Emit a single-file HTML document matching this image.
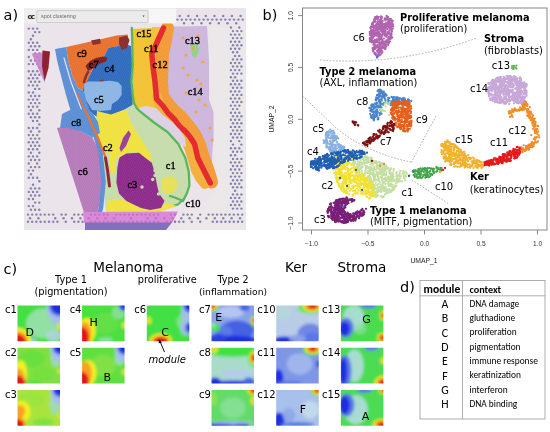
<!DOCTYPE html>
<html><head><meta charset="utf-8"><title>Spatial clustering figure</title>
<style>html,body{margin:0;padding:0;background:#fff;}body{width:550px;height:432px;overflow:hidden;}svg{display:block;}</style>
</head><body>
<svg width="550" height="432" viewBox="0 0 550 432"><rect x="24" y="8" width="222" height="222" fill="#ece4eb"/><polygon points="209.0,25.0 246.0,25.0 246.0,230.0 176.0,230.0 182.0,214.0 200.0,206.0 214.0,196.0 218.0,186.0 216.0,150.0 212.0,120.0 209.0,60.0" fill="#ece8e9" /><g fill="#8482ae"><circle cx="28.8" cy="28.6" r="1.2"/><circle cx="33.0" cy="28.6" r="1.2"/><circle cx="37.2" cy="28.6" r="1.2"/><circle cx="35.1" cy="32.1" r="1.2"/><circle cx="39.3" cy="32.1" r="1.2"/><circle cx="33.0" cy="35.7" r="1.2"/><circle cx="30.9" cy="39.2" r="1.2"/><circle cx="28.8" cy="42.8" r="1.2"/><circle cx="33.0" cy="42.8" r="1.2"/><circle cx="37.2" cy="42.8" r="1.2"/><circle cx="30.9" cy="46.3" r="1.2"/><circle cx="35.1" cy="46.3" r="1.2"/><circle cx="39.3" cy="46.3" r="1.2"/><circle cx="28.8" cy="49.9" r="1.2"/><circle cx="33.0" cy="49.9" r="1.2"/><circle cx="37.2" cy="49.9" r="1.2"/><circle cx="35.1" cy="53.4" r="1.2"/><circle cx="39.3" cy="53.4" r="1.2"/><circle cx="28.8" cy="57.0" r="1.2"/><circle cx="37.2" cy="57.0" r="1.2"/><circle cx="30.9" cy="60.5" r="1.2"/><circle cx="35.1" cy="60.5" r="1.2"/><circle cx="39.3" cy="60.5" r="1.2"/><circle cx="28.8" cy="64.1" r="1.2"/><circle cx="33.0" cy="64.1" r="1.2"/><circle cx="37.2" cy="64.1" r="1.2"/><circle cx="39.3" cy="67.6" r="1.2"/><circle cx="28.8" cy="71.2" r="1.2"/><circle cx="33.0" cy="71.2" r="1.2"/><circle cx="37.2" cy="71.2" r="1.2"/><circle cx="30.9" cy="74.7" r="1.2"/><circle cx="35.1" cy="74.7" r="1.2"/><circle cx="39.3" cy="74.7" r="1.2"/><circle cx="28.8" cy="78.3" r="1.2"/><circle cx="33.0" cy="78.3" r="1.2"/><circle cx="37.2" cy="78.3" r="1.2"/><circle cx="30.9" cy="81.8" r="1.2"/><circle cx="35.1" cy="81.8" r="1.2"/><circle cx="39.3" cy="81.8" r="1.2"/><circle cx="28.8" cy="85.4" r="1.2"/><circle cx="33.0" cy="85.4" r="1.2"/><circle cx="37.2" cy="85.4" r="1.2"/><circle cx="35.1" cy="88.9" r="1.2"/><circle cx="39.3" cy="88.9" r="1.2"/><circle cx="28.8" cy="92.5" r="1.2"/><circle cx="33.0" cy="92.5" r="1.2"/><circle cx="30.9" cy="96.0" r="1.2"/><circle cx="35.1" cy="96.0" r="1.2"/><circle cx="39.3" cy="96.0" r="1.2"/><circle cx="28.8" cy="99.6" r="1.2"/><circle cx="33.0" cy="99.6" r="1.2"/><circle cx="37.2" cy="99.6" r="1.2"/><circle cx="30.9" cy="103.1" r="1.2"/><circle cx="35.1" cy="103.1" r="1.2"/><circle cx="39.3" cy="103.1" r="1.2"/><circle cx="28.8" cy="106.7" r="1.2"/><circle cx="33.0" cy="106.7" r="1.2"/><circle cx="37.2" cy="106.7" r="1.2"/><circle cx="30.9" cy="110.2" r="1.2"/><circle cx="39.3" cy="110.2" r="1.2"/><circle cx="28.8" cy="113.8" r="1.2"/><circle cx="33.0" cy="113.8" r="1.2"/><circle cx="37.2" cy="113.8" r="1.2"/><circle cx="30.9" cy="117.3" r="1.2"/><circle cx="35.1" cy="117.3" r="1.2"/><circle cx="39.3" cy="117.3" r="1.2"/><circle cx="33.0" cy="120.9" r="1.2"/><circle cx="37.2" cy="120.9" r="1.2"/><circle cx="39.3" cy="124.4" r="1.2"/><circle cx="28.8" cy="128.0" r="1.2"/><circle cx="33.0" cy="128.0" r="1.2"/><circle cx="37.2" cy="128.0" r="1.2"/><circle cx="30.9" cy="131.5" r="1.2"/><circle cx="39.3" cy="131.5" r="1.2"/><circle cx="28.8" cy="135.1" r="1.2"/><circle cx="33.0" cy="135.1" r="1.2"/><circle cx="37.2" cy="135.1" r="1.2"/><circle cx="30.9" cy="138.6" r="1.2"/><circle cx="35.1" cy="138.6" r="1.2"/><circle cx="39.3" cy="138.6" r="1.2"/><circle cx="28.8" cy="142.2" r="1.2"/><circle cx="33.0" cy="142.2" r="1.2"/><circle cx="37.2" cy="142.2" r="1.2"/><circle cx="30.9" cy="145.7" r="1.2"/><circle cx="35.1" cy="145.7" r="1.2"/><circle cx="39.3" cy="145.7" r="1.2"/><circle cx="28.8" cy="149.3" r="1.2"/><circle cx="33.0" cy="149.3" r="1.2"/><circle cx="37.2" cy="149.3" r="1.2"/><circle cx="30.9" cy="152.8" r="1.2"/><circle cx="39.3" cy="152.8" r="1.2"/><circle cx="28.8" cy="156.4" r="1.2"/><circle cx="33.0" cy="156.4" r="1.2"/><circle cx="37.2" cy="156.4" r="1.2"/><circle cx="30.9" cy="160.0" r="1.2"/><circle cx="35.1" cy="160.0" r="1.2"/><circle cx="39.3" cy="160.0" r="1.2"/><circle cx="28.8" cy="163.5" r="1.2"/><circle cx="37.2" cy="163.5" r="1.2"/><circle cx="30.9" cy="167.1" r="1.2"/><circle cx="35.1" cy="167.1" r="1.2"/><circle cx="39.3" cy="167.1" r="1.2"/><circle cx="28.8" cy="170.6" r="1.2"/><circle cx="33.0" cy="170.6" r="1.2"/><circle cx="30.9" cy="174.2" r="1.2"/><circle cx="28.8" cy="177.7" r="1.2"/><circle cx="33.0" cy="177.7" r="1.2"/><circle cx="37.2" cy="177.7" r="1.2"/><circle cx="39.3" cy="181.3" r="1.2"/><circle cx="33.0" cy="184.8" r="1.2"/><circle cx="30.9" cy="188.4" r="1.2"/><circle cx="35.1" cy="188.4" r="1.2"/><circle cx="39.3" cy="188.4" r="1.2"/><circle cx="28.8" cy="191.9" r="1.2"/><circle cx="33.0" cy="191.9" r="1.2"/><circle cx="37.2" cy="191.9" r="1.2"/><circle cx="30.9" cy="195.5" r="1.2"/><circle cx="35.1" cy="195.5" r="1.2"/><circle cx="39.3" cy="195.5" r="1.2"/><circle cx="28.8" cy="199.0" r="1.2"/><circle cx="33.0" cy="199.0" r="1.2"/><circle cx="35.1" cy="202.6" r="1.2"/><circle cx="39.3" cy="202.6" r="1.2"/><circle cx="28.8" cy="206.1" r="1.2"/><circle cx="33.0" cy="206.1" r="1.2"/><circle cx="30.9" cy="209.7" r="1.2"/><circle cx="35.1" cy="209.7" r="1.2"/><circle cx="39.3" cy="209.7" r="1.2"/><circle cx="230.9" cy="27.5" r="1.2"/><circle cx="239.3" cy="27.5" r="1.2"/><circle cx="233.0" cy="31.1" r="1.2"/><circle cx="237.2" cy="31.1" r="1.2"/><circle cx="241.4" cy="31.1" r="1.2"/><circle cx="230.9" cy="34.6" r="1.2"/><circle cx="235.1" cy="34.6" r="1.2"/><circle cx="239.3" cy="34.6" r="1.2"/><circle cx="233.0" cy="38.1" r="1.2"/><circle cx="237.2" cy="38.1" r="1.2"/><circle cx="241.4" cy="38.1" r="1.2"/><circle cx="230.9" cy="41.7" r="1.2"/><circle cx="235.1" cy="41.7" r="1.2"/><circle cx="239.3" cy="41.7" r="1.2"/><circle cx="233.0" cy="45.2" r="1.2"/><circle cx="237.2" cy="45.2" r="1.2"/><circle cx="241.4" cy="45.2" r="1.2"/><circle cx="230.9" cy="48.8" r="1.2"/><circle cx="235.1" cy="48.8" r="1.2"/><circle cx="239.3" cy="48.8" r="1.2"/><circle cx="233.0" cy="52.3" r="1.2"/><circle cx="237.2" cy="52.3" r="1.2"/><circle cx="235.1" cy="55.9" r="1.2"/><circle cx="239.3" cy="55.9" r="1.2"/><circle cx="233.0" cy="59.4" r="1.2"/><circle cx="237.2" cy="59.4" r="1.2"/><circle cx="241.4" cy="59.4" r="1.2"/><circle cx="230.9" cy="63.0" r="1.2"/><circle cx="235.1" cy="63.0" r="1.2"/><circle cx="239.3" cy="63.0" r="1.2"/><circle cx="233.0" cy="66.5" r="1.2"/><circle cx="237.2" cy="66.5" r="1.2"/><circle cx="241.4" cy="66.5" r="1.2"/><circle cx="230.9" cy="70.1" r="1.2"/><circle cx="235.1" cy="70.1" r="1.2"/><circle cx="239.3" cy="70.1" r="1.2"/><circle cx="233.0" cy="73.6" r="1.2"/><circle cx="237.2" cy="73.6" r="1.2"/><circle cx="241.4" cy="73.6" r="1.2"/><circle cx="230.9" cy="77.2" r="1.2"/><circle cx="235.1" cy="77.2" r="1.2"/><circle cx="233.0" cy="80.7" r="1.2"/><circle cx="237.2" cy="80.7" r="1.2"/><circle cx="241.4" cy="80.7" r="1.2"/><circle cx="230.9" cy="84.3" r="1.2"/><circle cx="235.1" cy="84.3" r="1.2"/><circle cx="239.3" cy="84.3" r="1.2"/><circle cx="233.0" cy="87.8" r="1.2"/><circle cx="237.2" cy="87.8" r="1.2"/><circle cx="241.4" cy="87.8" r="1.2"/><circle cx="230.9" cy="91.4" r="1.2"/><circle cx="235.1" cy="91.4" r="1.2"/><circle cx="239.3" cy="91.4" r="1.2"/><circle cx="233.0" cy="94.9" r="1.2"/><circle cx="237.2" cy="94.9" r="1.2"/><circle cx="241.4" cy="94.9" r="1.2"/><circle cx="230.9" cy="98.5" r="1.2"/><circle cx="235.1" cy="98.5" r="1.2"/><circle cx="239.3" cy="98.5" r="1.2"/><circle cx="233.0" cy="102.0" r="1.2"/><circle cx="237.2" cy="102.0" r="1.2"/><circle cx="241.4" cy="102.0" r="1.2"/><circle cx="230.9" cy="105.6" r="1.2"/><circle cx="235.1" cy="105.6" r="1.2"/><circle cx="239.3" cy="105.6" r="1.2"/><circle cx="233.0" cy="109.1" r="1.2"/><circle cx="237.2" cy="109.1" r="1.2"/><circle cx="230.9" cy="112.7" r="1.2"/><circle cx="235.1" cy="112.7" r="1.2"/><circle cx="239.3" cy="112.7" r="1.2"/><circle cx="233.0" cy="116.2" r="1.2"/><circle cx="237.2" cy="116.2" r="1.2"/><circle cx="241.4" cy="116.2" r="1.2"/><circle cx="230.9" cy="119.8" r="1.2"/><circle cx="235.1" cy="119.8" r="1.2"/><circle cx="239.3" cy="119.8" r="1.2"/><circle cx="233.0" cy="123.3" r="1.2"/><circle cx="237.2" cy="123.3" r="1.2"/><circle cx="241.4" cy="123.3" r="1.2"/><circle cx="230.9" cy="126.9" r="1.2"/><circle cx="235.1" cy="126.9" r="1.2"/><circle cx="239.3" cy="126.9" r="1.2"/><circle cx="233.0" cy="130.4" r="1.2"/><circle cx="237.2" cy="130.4" r="1.2"/><circle cx="241.4" cy="130.4" r="1.2"/><circle cx="230.9" cy="134.0" r="1.2"/><circle cx="235.1" cy="134.0" r="1.2"/><circle cx="239.3" cy="134.0" r="1.2"/><circle cx="233.0" cy="137.5" r="1.2"/><circle cx="237.2" cy="137.5" r="1.2"/><circle cx="241.4" cy="137.5" r="1.2"/><circle cx="230.9" cy="141.1" r="1.2"/><circle cx="239.3" cy="141.1" r="1.2"/><circle cx="233.0" cy="144.6" r="1.2"/><circle cx="241.4" cy="144.6" r="1.2"/><circle cx="230.9" cy="148.2" r="1.2"/><circle cx="235.1" cy="148.2" r="1.2"/><circle cx="239.3" cy="148.2" r="1.2"/><circle cx="233.0" cy="151.8" r="1.2"/><circle cx="237.2" cy="151.8" r="1.2"/><circle cx="241.4" cy="151.8" r="1.2"/><circle cx="230.9" cy="155.3" r="1.2"/><circle cx="235.1" cy="155.3" r="1.2"/><circle cx="233.0" cy="158.9" r="1.2"/><circle cx="237.2" cy="158.9" r="1.2"/><circle cx="241.4" cy="158.9" r="1.2"/><circle cx="230.9" cy="162.4" r="1.2"/><circle cx="235.1" cy="162.4" r="1.2"/><circle cx="239.3" cy="162.4" r="1.2"/><circle cx="233.0" cy="166.0" r="1.2"/><circle cx="237.2" cy="166.0" r="1.2"/><circle cx="241.4" cy="166.0" r="1.2"/><circle cx="230.9" cy="169.5" r="1.2"/><circle cx="235.1" cy="169.5" r="1.2"/><circle cx="239.3" cy="169.5" r="1.2"/><circle cx="233.0" cy="173.1" r="1.2"/><circle cx="237.2" cy="173.1" r="1.2"/><circle cx="241.4" cy="173.1" r="1.2"/><circle cx="230.9" cy="176.6" r="1.2"/><circle cx="235.1" cy="176.6" r="1.2"/><circle cx="239.3" cy="176.6" r="1.2"/><circle cx="233.0" cy="180.2" r="1.2"/><circle cx="237.2" cy="180.2" r="1.2"/><circle cx="241.4" cy="180.2" r="1.2"/><circle cx="230.9" cy="183.7" r="1.2"/><circle cx="235.1" cy="183.7" r="1.2"/><circle cx="239.3" cy="183.7" r="1.2"/><circle cx="233.0" cy="187.3" r="1.2"/><circle cx="237.2" cy="187.3" r="1.2"/><circle cx="241.4" cy="187.3" r="1.2"/><circle cx="235.1" cy="190.8" r="1.2"/><circle cx="233.0" cy="194.4" r="1.2"/><circle cx="237.2" cy="194.4" r="1.2"/><circle cx="241.4" cy="194.4" r="1.2"/><circle cx="230.9" cy="197.9" r="1.2"/><circle cx="235.1" cy="197.9" r="1.2"/><circle cx="239.3" cy="197.9" r="1.2"/><circle cx="233.0" cy="201.5" r="1.2"/><circle cx="237.2" cy="201.5" r="1.2"/><circle cx="241.4" cy="201.5" r="1.2"/><circle cx="230.9" cy="205.0" r="1.2"/><circle cx="235.1" cy="205.0" r="1.2"/><circle cx="239.3" cy="205.0" r="1.2"/><circle cx="233.0" cy="208.6" r="1.2"/><circle cx="237.2" cy="208.6" r="1.2"/><circle cx="241.4" cy="208.6" r="1.2"/><circle cx="177.5" cy="19.6" r="1.2"/><circle cx="181.8" cy="19.6" r="1.2"/><circle cx="186.2" cy="19.6" r="1.2"/><circle cx="190.5" cy="19.6" r="1.2"/><circle cx="194.9" cy="19.6" r="1.2"/><circle cx="199.2" cy="19.6" r="1.2"/><circle cx="203.6" cy="19.6" r="1.2"/><circle cx="207.9" cy="19.6" r="1.2"/><circle cx="212.3" cy="19.6" r="1.2"/><circle cx="216.6" cy="19.6" r="1.2"/><circle cx="221.0" cy="19.6" r="1.2"/><circle cx="225.3" cy="19.6" r="1.2"/><circle cx="229.7" cy="19.6" r="1.2"/><circle cx="234.0" cy="19.6" r="1.2"/><circle cx="238.4" cy="19.6" r="1.2"/><circle cx="242.7" cy="19.6" r="1.2"/><circle cx="179.7" cy="16.0" r="1.2"/><circle cx="188.4" cy="16.0" r="1.2"/><circle cx="197.1" cy="16.0" r="1.2"/><circle cx="205.8" cy="16.0" r="1.2"/><circle cx="214.5" cy="16.0" r="1.2"/><circle cx="223.2" cy="16.0" r="1.2"/><circle cx="231.9" cy="16.0" r="1.2"/><circle cx="240.6" cy="16.0" r="1.2"/><circle cx="184.0" cy="23.3" r="1.2"/><circle cx="192.7" cy="23.3" r="1.2"/><circle cx="201.4" cy="23.3" r="1.2"/><circle cx="210.1" cy="23.3" r="1.2"/><circle cx="218.8" cy="23.3" r="1.2"/><circle cx="227.5" cy="23.3" r="1.2"/><circle cx="236.2" cy="23.3" r="1.2"/><circle cx="28.0" cy="214.6" r="1.2"/><circle cx="32.2" cy="214.6" r="1.2"/><circle cx="36.4" cy="214.6" r="1.2"/><circle cx="40.6" cy="214.6" r="1.2"/><circle cx="44.8" cy="214.6" r="1.2"/><circle cx="49.0" cy="214.6" r="1.2"/><circle cx="53.2" cy="214.6" r="1.2"/><circle cx="61.6" cy="214.6" r="1.2"/><circle cx="65.8" cy="214.6" r="1.2"/><circle cx="74.2" cy="214.6" r="1.2"/><circle cx="78.4" cy="214.6" r="1.2"/><circle cx="82.6" cy="214.6" r="1.2"/><circle cx="91.0" cy="214.6" r="1.2"/><circle cx="95.2" cy="214.6" r="1.2"/><circle cx="99.4" cy="214.6" r="1.2"/><circle cx="103.6" cy="214.6" r="1.2"/><circle cx="107.8" cy="214.6" r="1.2"/><circle cx="116.2" cy="214.6" r="1.2"/><circle cx="120.4" cy="214.6" r="1.2"/><circle cx="124.6" cy="214.6" r="1.2"/><circle cx="128.8" cy="214.6" r="1.2"/><circle cx="133.0" cy="214.6" r="1.2"/><circle cx="137.2" cy="214.6" r="1.2"/><circle cx="141.4" cy="214.6" r="1.2"/><circle cx="145.6" cy="214.6" r="1.2"/><circle cx="149.8" cy="214.6" r="1.2"/><circle cx="154.0" cy="214.6" r="1.2"/><circle cx="158.2" cy="214.6" r="1.2"/><circle cx="170.8" cy="214.6" r="1.2"/><circle cx="175.0" cy="214.6" r="1.2"/><circle cx="183.4" cy="214.6" r="1.2"/><circle cx="187.6" cy="214.6" r="1.2"/><circle cx="191.8" cy="214.6" r="1.2"/><circle cx="200.2" cy="214.6" r="1.2"/><circle cx="208.6" cy="214.6" r="1.2"/><circle cx="212.8" cy="214.6" r="1.2"/><circle cx="217.0" cy="214.6" r="1.2"/><circle cx="221.2" cy="214.6" r="1.2"/><circle cx="225.4" cy="214.6" r="1.2"/><circle cx="229.6" cy="214.6" r="1.2"/><circle cx="233.8" cy="214.6" r="1.2"/><circle cx="238.0" cy="214.6" r="1.2"/><circle cx="242.2" cy="214.6" r="1.2"/><circle cx="30.0" cy="218.2" r="1.2"/><circle cx="38.4" cy="218.2" r="1.2"/><circle cx="55.2" cy="218.2" r="1.2"/><circle cx="63.6" cy="218.2" r="1.2"/><circle cx="72.0" cy="218.2" r="1.2"/><circle cx="80.4" cy="218.2" r="1.2"/><circle cx="88.8" cy="218.2" r="1.2"/><circle cx="97.2" cy="218.2" r="1.2"/><circle cx="105.6" cy="218.2" r="1.2"/><circle cx="114.0" cy="218.2" r="1.2"/><circle cx="130.8" cy="218.2" r="1.2"/><circle cx="147.6" cy="218.2" r="1.2"/><circle cx="156.0" cy="218.2" r="1.2"/><circle cx="164.4" cy="218.2" r="1.2"/><circle cx="172.8" cy="218.2" r="1.2"/><circle cx="181.2" cy="218.2" r="1.2"/><circle cx="189.6" cy="218.2" r="1.2"/><circle cx="198.0" cy="218.2" r="1.2"/><circle cx="206.4" cy="218.2" r="1.2"/><circle cx="214.8" cy="218.2" r="1.2"/><circle cx="223.2" cy="218.2" r="1.2"/><circle cx="231.6" cy="218.2" r="1.2"/><circle cx="240.0" cy="218.2" r="1.2"/><circle cx="28.0" cy="221.7" r="1.2"/><circle cx="32.2" cy="221.7" r="1.2"/><circle cx="36.4" cy="221.7" r="1.2"/><circle cx="40.6" cy="221.7" r="1.2"/><circle cx="44.8" cy="221.7" r="1.2"/><circle cx="49.0" cy="221.7" r="1.2"/><circle cx="53.2" cy="221.7" r="1.2"/><circle cx="57.4" cy="221.7" r="1.2"/><circle cx="65.8" cy="221.7" r="1.2"/><circle cx="74.2" cy="221.7" r="1.2"/><circle cx="78.4" cy="221.7" r="1.2"/><circle cx="82.6" cy="221.7" r="1.2"/><circle cx="91.0" cy="221.7" r="1.2"/><circle cx="95.2" cy="221.7" r="1.2"/><circle cx="99.4" cy="221.7" r="1.2"/><circle cx="103.6" cy="221.7" r="1.2"/><circle cx="107.8" cy="221.7" r="1.2"/><circle cx="112.0" cy="221.7" r="1.2"/><circle cx="116.2" cy="221.7" r="1.2"/><circle cx="120.4" cy="221.7" r="1.2"/><circle cx="124.6" cy="221.7" r="1.2"/><circle cx="128.8" cy="221.7" r="1.2"/><circle cx="133.0" cy="221.7" r="1.2"/><circle cx="137.2" cy="221.7" r="1.2"/><circle cx="141.4" cy="221.7" r="1.2"/><circle cx="145.6" cy="221.7" r="1.2"/><circle cx="149.8" cy="221.7" r="1.2"/><circle cx="154.0" cy="221.7" r="1.2"/><circle cx="158.2" cy="221.7" r="1.2"/><circle cx="166.6" cy="221.7" r="1.2"/><circle cx="170.8" cy="221.7" r="1.2"/><circle cx="175.0" cy="221.7" r="1.2"/><circle cx="179.2" cy="221.7" r="1.2"/><circle cx="183.4" cy="221.7" r="1.2"/><circle cx="191.8" cy="221.7" r="1.2"/><circle cx="200.2" cy="221.7" r="1.2"/><circle cx="212.8" cy="221.7" r="1.2"/><circle cx="217.0" cy="221.7" r="1.2"/><circle cx="221.2" cy="221.7" r="1.2"/><circle cx="225.4" cy="221.7" r="1.2"/><circle cx="229.6" cy="221.7" r="1.2"/><circle cx="233.8" cy="221.7" r="1.2"/><circle cx="238.0" cy="221.7" r="1.2"/><circle cx="242.2" cy="221.7" r="1.2"/></g><polygon points="31.7,53.7 49.7,51.7 44.6,82.5" fill="#c97fcb" fill-opacity="0.9"/><polygon points="42.5,50.5 50.0,51.5 48.5,68.0 44.6,81.0 42.0,66.0" fill="#8e2230" /><polygon points="66.3,46.9 92.2,41.2 116.5,35.5 128.0,34.5 127.0,44.4 108.4,47.7 103.6,57.4 93.9,67.1 87.4,80.0 82.5,89.8 78.0,88.0 72.0,75.0 68.0,60.0" fill="#e8702c" /><polygon points="55.0,49.0 66.3,46.9 68.0,60.0 72.0,75.0 78.0,88.0 82.5,90.0 88.0,105.0 92.0,119.0 73.0,119.0 66.0,95.0 57.4,62.0" fill="#5b8ed4" /><polyline points="64.0,58.0 71.0,82.0 79.0,103.0 84.0,116.0" fill="none" stroke="#f0e4ef" stroke-width="1.1" stroke-linejoin="round" stroke-linecap="round" /><polyline points="77.0,93.0 83.0,106.0 89.5,119.0" fill="none" stroke="#e8702c" stroke-width="1.4" stroke-linejoin="round" stroke-linecap="round" /><polygon points="82.5,89.8 87.4,80.0 93.9,67.1 103.6,57.4 108.4,47.7 127.0,44.4 131.0,46.0 132.7,65.5 131.5,81.7 132.7,95.0 132.7,119.0 100.0,119.0 90.0,112.0" fill="#2f6bbd" /><polygon points="85.5,66.0 90.0,61.0 96.0,58.0 103.0,56.5 107.5,57.5 106.0,61.5 99.0,64.0 93.0,68.5 88.0,71.0" fill="#7c1f1f" /><polyline points="84.0,82.0 86.0,76.0 88.0,72.0" fill="none" stroke="#8a2a2a" stroke-width="2.5" stroke-linejoin="round" stroke-linecap="round" /><polygon points="91.0,40.5 100.0,38.8 101.0,43.5 93.0,45.0" fill="#8a2a2a" /><polygon points="119.0,37.5 127.0,35.5 129.5,40.0 127.0,48.0 122.0,50.0 119.0,44.0" fill="#8a2a2a" /><polygon points="99.0,81.0 103.0,79.5 105.0,83.0 101.0,85.0" fill="#8a2a2a" /><polygon points="84.3,84.0 88.0,81.5 100.0,81.5 110.0,80.8 118.0,82.0 121.6,86.0 121.6,95.0 118.0,100.0 112.0,104.0 111.0,110.0 100.0,111.0 92.0,110.0 86.0,100.0 84.0,92.0" fill="#8cb5e4" /><polygon points="152.0,27.0 207.0,26.0 209.0,60.0 209.0,100.0 213.5,112.0 213.5,139.0 212.5,149.0 211.5,175.0 210.0,186.0 205.0,175.0 195.0,160.0 180.0,135.0 168.0,115.0 160.0,95.0 156.0,75.0 158.0,55.0" fill="#ccb6dd" /><polygon points="131.5,29.0 170.0,27.0 163.0,40.0 157.0,55.0 157.0,72.0 160.0,88.0 166.0,102.0 173.0,113.0 178.0,122.0 165.0,127.0 150.0,121.0 140.0,118.0 133.0,110.0 132.5,60.0" fill="#f1c232" /><polyline points="167.5,28.0 165.5,40.0 162.5,54.0 162.0,68.0 161.5,82.0 162.5,96.0 168.0,104.0 174.0,111.0 182.0,118.0 188.5,126.0 195.0,135.0 200.0,146.0 203.5,158.0 208.0,170.0 211.5,182.0" fill="none" stroke="#f29a36" stroke-width="13" stroke-linejoin="round" stroke-linecap="round" /><polyline points="157.0,96.0 160.0,107.0 166.0,116.0 173.0,123.0 180.0,132.0 186.0,141.0 190.0,150.0 193.0,160.0 196.0,170.0 200.0,178.0 205.0,184.0" fill="none" stroke="#f3ae3c" stroke-width="10" stroke-linejoin="round" stroke-linecap="round" /><polyline points="163.5,28.0 158.0,40.0 151.8,54.0 153.2,68.0 155.0,82.0 156.6,99.0 163.0,106.0 168.0,113.0 175.0,120.0 180.0,127.0 185.0,131.0 190.0,137.0 194.6,144.0 197.8,158.0 204.7,172.0 210.3,183.0" fill="none" stroke="#e3252a" stroke-width="5.5" stroke-linejoin="round" stroke-linecap="round" /><polygon points="190.0,44.0 197.0,42.0 199.0,50.0 196.0,58.0 192.0,56.0" fill="#95cf88" /><circle cx="183" cy="38" r="1.6" fill="#f2a23a"/><circle cx="198" cy="36" r="1.6" fill="#f2a23a"/><circle cx="186" cy="55" r="1.6" fill="#f2a23a"/><circle cx="203" cy="62" r="1.6" fill="#f2a23a"/><circle cx="188" cy="75" r="1.6" fill="#f2a23a"/><circle cx="197" cy="80" r="1.6" fill="#f2a23a"/><circle cx="201" cy="84" r="1.6" fill="#f2a23a"/><circle cx="186" cy="93" r="1.6" fill="#f2a23a"/><circle cx="199" cy="100" r="1.6" fill="#f2a23a"/><circle cx="205" cy="105" r="1.6" fill="#f2a23a"/><circle cx="196" cy="112" r="1.6" fill="#f2a23a"/><circle cx="193" cy="48" r="1.6" fill="#f2a23a"/><circle cx="183" cy="68" r="1.6" fill="#f2a23a"/><circle cx="210" cy="128" r="1.6" fill="#f2a23a"/><circle cx="212" cy="140" r="1.6" fill="#f2a23a"/><polygon points="104.0,150.0 112.0,115.0 120.0,112.0 134.0,104.0 140.0,111.4 154.0,122.5 167.8,132.2 178.3,144.0 185.3,157.8 188.8,171.7 189.4,185.6 187.0,193.0 183.8,198.7 175.0,206.0 150.0,212.0 106.0,212.0 104.0,195.0" fill="#c6dcaa" /><polygon points="138.0,108.0 146.0,106.0 156.0,108.0 163.0,115.0 172.0,122.0 180.0,130.0 185.0,138.0 186.0,147.0 178.3,144.0 167.8,132.2 154.0,122.5 140.0,111.4" fill="#ddd0e4" /><polyline points="131.8,28.0 132.3,46.0 132.7,65.5 131.5,81.7 132.7,95.0 134.0,103.0 137.0,108.5 140.0,111.4 154.0,122.5 167.8,132.2 178.3,144.0 185.3,157.8 188.8,171.7 189.4,185.6 187.0,193.0 183.0,201.0 176.0,198.0 170.0,196.0" fill="none" stroke="#55b457" stroke-width="2.3" stroke-linejoin="round" stroke-linecap="round" /><polyline points="183.8,199.0 178.0,204.5 170.0,206.5" fill="none" stroke="#55b457" stroke-width="2" stroke-linejoin="round" stroke-linecap="round" /><polygon points="97.0,111.0 111.0,114.6 124.0,109.7 127.4,111.3 129.8,121.0 137.0,132.4 142.0,140.5 150.0,153.4 153.3,161.5 145.0,158.0 135.0,152.0 125.0,153.0 119.0,158.0 112.0,156.0 104.0,150.0 99.0,140.0 96.0,125.0" fill="#efe23e" /><polygon points="108.0,201.0 115.0,199.0 126.4,201.0 133.6,204.5 141.0,208.0 150.0,210.0 161.0,208.0 166.0,203.0 172.0,204.0 176.0,206.0 160.0,212.0 106.0,212.0" fill="#efe23e" /><polygon points="161.0,180.0 168.0,176.0 176.0,178.0 178.0,186.0 173.0,193.0 165.0,194.0 161.0,188.0" fill="#e6df58" /><polygon points="110.0,152.0 116.0,150.0 116.0,170.0 112.0,175.0 109.0,165.0" fill="#efe23e" /><polygon points="120.0,157.3 126.4,153.6 139.0,152.7 144.5,157.3 151.8,162.7 154.5,171.8 157.3,186.4 159.0,193.6 164.5,201.0 161.0,208.0 150.0,210.0 141.0,208.0 133.6,204.5 126.4,201.0 119.0,193.6 116.4,182.7 117.3,168.0 119.0,159.0" fill="#8c2a8a" /><circle cx="155.0" cy="175.5" r="1.7" fill="#c6dcaa"/><circle cx="152.7" cy="179.5" r="1.7" fill="#c6dcaa"/><circle cx="142.0" cy="187.0" r="1.7" fill="#c6dcaa"/><circle cx="158.5" cy="194.0" r="1.7" fill="#c6dcaa"/><circle cx="155.0" cy="170.5" r="1.7" fill="#c6dcaa"/><polygon points="57.0,128.0 69.0,125.4 80.0,131.0 92.4,137.5 101.0,155.0 102.4,185.8 99.0,206.0 97.0,214.0 84.5,214.0" fill="#b57ab9" /><polyline points="94.0,131.0 100.5,152.0 103.5,182.0 101.0,208.0 99.5,213.0" fill="none" stroke="#5b8ed4" stroke-width="4.5" stroke-linejoin="round" stroke-linecap="round" /><polygon points="62.0,114.0 70.0,110.0 84.0,109.0 92.0,112.0 98.0,122.0 100.0,133.0 92.4,137.5 80.0,131.0 69.0,128.0 60.0,128.0" fill="#5b8ed4" /><polyline points="85.0,110.0 92.0,125.0 98.0,138.0 105.4,157.0" fill="none" stroke="#e8702c" stroke-width="2.2" stroke-linejoin="round" stroke-linecap="round" /><polyline points="105.5,158.0 107.5,170.0 109.5,186.0" fill="none" stroke="#8e2230" stroke-width="3" stroke-linejoin="round" stroke-linecap="round" /><polygon points="128.5,130.5 131.0,134.0 126.0,146.0 121.0,152.0 119.5,148.0 123.0,138.0" fill="#9a3f98" /><defs><pattern id="hx" width="2.3" height="4" patternUnits="userSpaceOnUse"><circle cx="0.575" cy="1" r="0.62" fill="#fff"/><circle cx="1.725" cy="3" r="0.62" fill="#fff"/></pattern></defs><polygon points="55.0,49.0 66.3,46.9 92.2,41.2 116.5,35.5 131.0,31.0 150.0,27.0 207.0,26.0 209.0,60.0 208.0,100.0 212.0,120.0 216.0,150.0 218.0,186.0 211.0,187.0 203.0,183.0 190.0,192.0 183.0,201.0 176.0,206.0 160.0,212.0 84.5,214.0 57.0,128.0 62.0,114.0 66.0,95.0 57.4,62.0" fill="url(#hx)" fill-opacity="0.13"/><polygon points="83.0,212.0 178.0,211.5 172.0,223.0 84.0,223.0" fill="#da8ad9" /><polygon points="85.0,222.5 172.0,222.5 166.0,230.0 85.0,230.0" fill="#8172b8" /><g fill="#a866b8" fill-opacity="0.6"><circle cx="91.0" cy="214.6" r="1.2"/><circle cx="95.2" cy="214.6" r="1.2"/><circle cx="99.4" cy="214.6" r="1.2"/><circle cx="103.6" cy="214.6" r="1.2"/><circle cx="107.8" cy="214.6" r="1.2"/><circle cx="116.2" cy="214.6" r="1.2"/><circle cx="120.4" cy="214.6" r="1.2"/><circle cx="124.6" cy="214.6" r="1.2"/><circle cx="128.8" cy="214.6" r="1.2"/><circle cx="133.0" cy="214.6" r="1.2"/><circle cx="137.2" cy="214.6" r="1.2"/><circle cx="141.4" cy="214.6" r="1.2"/><circle cx="145.6" cy="214.6" r="1.2"/><circle cx="149.8" cy="214.6" r="1.2"/><circle cx="154.0" cy="214.6" r="1.2"/><circle cx="158.2" cy="214.6" r="1.2"/><circle cx="170.8" cy="214.6" r="1.2"/><circle cx="175.0" cy="214.6" r="1.2"/><circle cx="88.8" cy="218.2" r="1.2"/><circle cx="97.2" cy="218.2" r="1.2"/><circle cx="105.6" cy="218.2" r="1.2"/><circle cx="114.0" cy="218.2" r="1.2"/><circle cx="130.8" cy="218.2" r="1.2"/><circle cx="147.6" cy="218.2" r="1.2"/><circle cx="156.0" cy="218.2" r="1.2"/><circle cx="164.4" cy="218.2" r="1.2"/><circle cx="172.8" cy="218.2" r="1.2"/><circle cx="91.0" cy="221.7" r="1.2"/><circle cx="95.2" cy="221.7" r="1.2"/><circle cx="99.4" cy="221.7" r="1.2"/><circle cx="103.6" cy="221.7" r="1.2"/><circle cx="107.8" cy="221.7" r="1.2"/><circle cx="112.0" cy="221.7" r="1.2"/><circle cx="116.2" cy="221.7" r="1.2"/><circle cx="120.4" cy="221.7" r="1.2"/><circle cx="124.6" cy="221.7" r="1.2"/><circle cx="128.8" cy="221.7" r="1.2"/><circle cx="133.0" cy="221.7" r="1.2"/><circle cx="137.2" cy="221.7" r="1.2"/><circle cx="141.4" cy="221.7" r="1.2"/><circle cx="145.6" cy="221.7" r="1.2"/><circle cx="149.8" cy="221.7" r="1.2"/><circle cx="154.0" cy="221.7" r="1.2"/><circle cx="158.2" cy="221.7" r="1.2"/><circle cx="166.6" cy="221.7" r="1.2"/><circle cx="170.8" cy="221.7" r="1.2"/><circle cx="175.0" cy="221.7" r="1.2"/></g><g font-family="'Liberation Serif', serif" font-size="10.4" fill="#000" stroke="#000" stroke-width="0.35"><text x="136.4" y="36.6">c15</text><text x="143.9" y="52.2">c11</text><text x="152.6" y="68.4">c12</text><text x="185.0" y="43.5">c13</text><text x="187.7" y="95.4">c14</text><text x="77.0" y="57.0">c9</text><text x="88.8" y="68.4">c7</text><text x="104.6" y="72.4">c4</text><text x="94.0" y="103.2">c5</text><text x="71.3" y="126.2">c8</text><text x="77.8" y="174.8">c6</text><text x="103.0" y="150.5">c2</text><text x="127.4" y="187.7">c3</text><text x="165.8" y="169.0">c1</text><text x="185.5" y="206.5">c10</text></g><rect x="24" y="8" width="152" height="15.5" fill="#efeeef"/><rect x="149" y="9" width="27" height="14" fill="#f7f6f7"/><rect x="36.8" y="10.6" width="111.2" height="12" rx="1.2" fill="#ebebeb" stroke="#bdbdbd" stroke-width="0.7"/><text x="41" y="18.4" font-family="'Liberation Sans', sans-serif" font-size="5.4" fill="#666">spot clustering</text><path d="M142.5,15.6 l2.2,0 l-1.1,1.3 z" fill="#444"/><text x="27.4" y="18.9" font-family="'DejaVu Sans', sans-serif" font-size="7.2" font-weight="bold" fill="#2a2a2a" letter-spacing="-1.6">oc</text><g fill="#b064af"><circle cx="378.8" cy="29.2" r="1.15"/><circle cx="386.9" cy="42.5" r="1.15"/><circle cx="372.8" cy="37.5" r="1.15"/><circle cx="381.6" cy="50.6" r="1.15"/><circle cx="385.9" cy="44.6" r="1.15"/><circle cx="372.7" cy="30.6" r="1.15"/><circle cx="382.9" cy="41.9" r="1.15"/><circle cx="384.5" cy="44.1" r="1.15"/><circle cx="381.6" cy="38.0" r="1.15"/><circle cx="385.3" cy="18.3" r="1.15"/><circle cx="387.2" cy="26.1" r="1.15"/><circle cx="371.3" cy="26.7" r="1.15"/><circle cx="387.0" cy="24.1" r="1.15"/><circle cx="381.4" cy="31.6" r="1.15"/><circle cx="381.0" cy="44.2" r="1.15"/><circle cx="387.9" cy="41.4" r="1.15"/><circle cx="384.9" cy="18.8" r="1.15"/><circle cx="373.0" cy="26.2" r="1.15"/><circle cx="387.3" cy="28.3" r="1.15"/><circle cx="371.0" cy="26.8" r="1.15"/><circle cx="385.6" cy="44.6" r="1.15"/><circle cx="385.7" cy="27.7" r="1.15"/><circle cx="381.9" cy="35.0" r="1.15"/><circle cx="380.7" cy="20.5" r="1.15"/><circle cx="390.9" cy="23.9" r="1.15"/><circle cx="369.9" cy="34.8" r="1.15"/><circle cx="380.3" cy="26.8" r="1.15"/><circle cx="374.6" cy="39.9" r="1.15"/><circle cx="372.9" cy="37.5" r="1.15"/><circle cx="392.4" cy="21.1" r="1.15"/><circle cx="389.2" cy="36.9" r="1.15"/><circle cx="375.1" cy="53.2" r="1.15"/><circle cx="381.2" cy="16.5" r="1.15"/><circle cx="380.3" cy="28.2" r="1.15"/><circle cx="372.9" cy="29.9" r="1.15"/><circle cx="377.1" cy="50.8" r="1.15"/><circle cx="389.6" cy="20.5" r="1.15"/><circle cx="391.1" cy="27.7" r="1.15"/><circle cx="378.4" cy="32.0" r="1.15"/><circle cx="378.2" cy="33.5" r="1.15"/><circle cx="376.1" cy="17.5" r="1.15"/><circle cx="376.4" cy="54.8" r="1.15"/><circle cx="375.5" cy="26.7" r="1.15"/><circle cx="381.8" cy="23.5" r="1.15"/><circle cx="378.5" cy="55.7" r="1.15"/><circle cx="386.8" cy="17.6" r="1.15"/><circle cx="387.1" cy="34.4" r="1.15"/><circle cx="387.6" cy="42.6" r="1.15"/><circle cx="376.4" cy="17.6" r="1.15"/><circle cx="391.7" cy="20.8" r="1.15"/><circle cx="380.8" cy="29.9" r="1.15"/><circle cx="376.6" cy="46.5" r="1.15"/><circle cx="392.9" cy="26.4" r="1.15"/><circle cx="385.2" cy="28.1" r="1.15"/><circle cx="382.9" cy="32.1" r="1.15"/><circle cx="373.5" cy="22.3" r="1.15"/><circle cx="374.5" cy="53.6" r="1.15"/><circle cx="381.4" cy="24.7" r="1.15"/><circle cx="380.3" cy="21.4" r="1.15"/><circle cx="374.1" cy="19.3" r="1.15"/><circle cx="377.7" cy="19.3" r="1.15"/><circle cx="375.2" cy="26.4" r="1.15"/><circle cx="387.5" cy="32.8" r="1.15"/><circle cx="379.4" cy="37.5" r="1.15"/><circle cx="378.5" cy="29.7" r="1.15"/><circle cx="371.0" cy="27.2" r="1.15"/><circle cx="381.6" cy="41.9" r="1.15"/><circle cx="390.2" cy="24.6" r="1.15"/><circle cx="376.0" cy="25.9" r="1.15"/><circle cx="379.1" cy="34.2" r="1.15"/><circle cx="391.0" cy="35.4" r="1.15"/><circle cx="378.9" cy="54.4" r="1.15"/><circle cx="392.8" cy="25.9" r="1.15"/><circle cx="382.0" cy="44.1" r="1.15"/><circle cx="385.0" cy="47.6" r="1.15"/><circle cx="380.5" cy="38.7" r="1.15"/><circle cx="375.1" cy="54.1" r="1.15"/><circle cx="385.0" cy="28.3" r="1.15"/><circle cx="372.6" cy="26.1" r="1.15"/><circle cx="384.8" cy="44.8" r="1.15"/><circle cx="382.1" cy="40.0" r="1.15"/><circle cx="378.8" cy="24.9" r="1.15"/><circle cx="376.7" cy="34.8" r="1.15"/><circle cx="390.7" cy="35.5" r="1.15"/><circle cx="375.1" cy="25.9" r="1.15"/><circle cx="376.9" cy="16.4" r="1.15"/><circle cx="381.5" cy="43.8" r="1.15"/><circle cx="379.6" cy="26.3" r="1.15"/><circle cx="377.6" cy="33.2" r="1.15"/><circle cx="385.9" cy="23.8" r="1.15"/><circle cx="381.6" cy="24.1" r="1.15"/><circle cx="392.8" cy="28.6" r="1.15"/><circle cx="389.2" cy="25.2" r="1.15"/><circle cx="374.8" cy="47.4" r="1.15"/><circle cx="376.6" cy="55.5" r="1.15"/><circle cx="381.4" cy="23.4" r="1.15"/><circle cx="374.9" cy="33.0" r="1.15"/><circle cx="373.0" cy="32.0" r="1.15"/><circle cx="370.9" cy="32.0" r="1.15"/><circle cx="391.9" cy="29.3" r="1.15"/><circle cx="387.4" cy="16.8" r="1.15"/><circle cx="385.4" cy="31.4" r="1.15"/><circle cx="378.5" cy="29.4" r="1.15"/><circle cx="376.2" cy="30.3" r="1.15"/><circle cx="392.4" cy="20.7" r="1.15"/><circle cx="392.6" cy="24.2" r="1.15"/><circle cx="378.1" cy="50.0" r="1.15"/><circle cx="389.2" cy="33.7" r="1.15"/><circle cx="370.7" cy="35.4" r="1.15"/><circle cx="378.4" cy="54.1" r="1.15"/><circle cx="374.1" cy="30.8" r="1.15"/><circle cx="379.4" cy="49.6" r="1.15"/><circle cx="387.9" cy="17.2" r="1.15"/><circle cx="391.6" cy="26.3" r="1.15"/><circle cx="377.6" cy="26.9" r="1.15"/><circle cx="375.8" cy="45.6" r="1.15"/><circle cx="377.1" cy="27.1" r="1.15"/><circle cx="375.1" cy="35.5" r="1.15"/><circle cx="378.8" cy="26.0" r="1.15"/><circle cx="379.8" cy="36.2" r="1.15"/><circle cx="391.8" cy="23.2" r="1.15"/><circle cx="384.1" cy="29.3" r="1.15"/><circle cx="377.2" cy="30.7" r="1.15"/><circle cx="388.3" cy="18.8" r="1.15"/><circle cx="374.2" cy="47.1" r="1.15"/><circle cx="375.4" cy="18.2" r="1.15"/><circle cx="370.3" cy="38.7" r="1.15"/><circle cx="377.3" cy="56.7" r="1.15"/><circle cx="375.9" cy="19.0" r="1.15"/><circle cx="371.8" cy="36.4" r="1.15"/><circle cx="386.5" cy="34.3" r="1.15"/><circle cx="375.1" cy="33.0" r="1.15"/><circle cx="384.4" cy="43.8" r="1.15"/><circle cx="385.4" cy="20.6" r="1.15"/><circle cx="389.7" cy="27.8" r="1.15"/><circle cx="383.1" cy="31.2" r="1.15"/><circle cx="387.2" cy="23.9" r="1.15"/><circle cx="375.4" cy="25.8" r="1.15"/><circle cx="383.4" cy="29.2" r="1.15"/><circle cx="381.7" cy="25.2" r="1.15"/><circle cx="388.9" cy="42.9" r="1.15"/><circle cx="380.9" cy="49.9" r="1.15"/><circle cx="370.5" cy="27.8" r="1.15"/><circle cx="372.4" cy="23.5" r="1.15"/><circle cx="391.8" cy="31.1" r="1.15"/><circle cx="390.3" cy="34.4" r="1.15"/><circle cx="375.7" cy="48.2" r="1.15"/><circle cx="383.8" cy="41.5" r="1.15"/><circle cx="374.7" cy="31.0" r="1.15"/><circle cx="372.9" cy="24.1" r="1.15"/><circle cx="375.6" cy="40.7" r="1.15"/><circle cx="385.1" cy="24.0" r="1.15"/><circle cx="385.8" cy="23.3" r="1.15"/><circle cx="377.0" cy="24.0" r="1.15"/><circle cx="388.6" cy="38.5" r="1.15"/><circle cx="379.0" cy="38.6" r="1.15"/><circle cx="384.8" cy="19.3" r="1.15"/><circle cx="373.4" cy="44.7" r="1.15"/><circle cx="379.3" cy="27.4" r="1.15"/><circle cx="376.9" cy="55.5" r="1.15"/><circle cx="377.0" cy="39.3" r="1.15"/><circle cx="378.1" cy="33.0" r="1.15"/><circle cx="378.2" cy="23.8" r="1.15"/><circle cx="387.0" cy="24.1" r="1.15"/><circle cx="379.7" cy="50.0" r="1.15"/><circle cx="379.2" cy="52.6" r="1.15"/><circle cx="380.6" cy="22.3" r="1.15"/><circle cx="369.9" cy="38.7" r="1.15"/><circle cx="371.6" cy="41.6" r="1.15"/><circle cx="378.4" cy="36.7" r="1.15"/><circle cx="373.0" cy="27.4" r="1.15"/><circle cx="372.1" cy="36.1" r="1.15"/><circle cx="374.2" cy="20.8" r="1.15"/><circle cx="381.1" cy="17.7" r="1.15"/><circle cx="391.7" cy="31.8" r="1.15"/><circle cx="389.3" cy="22.2" r="1.15"/><circle cx="388.4" cy="24.8" r="1.15"/><circle cx="379.2" cy="51.0" r="1.15"/><circle cx="389.4" cy="23.2" r="1.15"/><circle cx="374.7" cy="32.3" r="1.15"/><circle cx="381.9" cy="31.6" r="1.15"/><circle cx="372.5" cy="25.9" r="1.15"/><circle cx="370.5" cy="39.1" r="1.15"/><circle cx="387.7" cy="17.1" r="1.15"/><circle cx="389.6" cy="20.4" r="1.15"/><circle cx="383.9" cy="38.6" r="1.15"/><circle cx="384.5" cy="28.4" r="1.15"/><circle cx="379.6" cy="40.0" r="1.15"/><circle cx="379.7" cy="43.2" r="1.15"/><circle cx="380.2" cy="33.9" r="1.15"/><circle cx="370.1" cy="41.5" r="1.15"/><circle cx="381.2" cy="25.4" r="1.15"/><circle cx="380.5" cy="23.0" r="1.15"/><circle cx="380.9" cy="20.0" r="1.15"/><circle cx="372.6" cy="33.6" r="1.15"/><circle cx="371.7" cy="34.1" r="1.15"/><circle cx="381.7" cy="17.2" r="1.15"/><circle cx="384.8" cy="19.0" r="1.15"/><circle cx="381.8" cy="17.8" r="1.15"/><circle cx="381.6" cy="31.4" r="1.15"/><circle cx="392.3" cy="21.2" r="1.15"/><circle cx="391.5" cy="22.4" r="1.15"/><circle cx="371.1" cy="30.2" r="1.15"/><circle cx="387.6" cy="22.2" r="1.15"/><circle cx="391.0" cy="27.0" r="1.15"/><circle cx="389.1" cy="21.5" r="1.15"/><circle cx="374.5" cy="26.5" r="1.15"/><circle cx="381.6" cy="28.9" r="1.15"/><circle cx="373.5" cy="48.5" r="1.15"/><circle cx="372.3" cy="37.8" r="1.15"/><circle cx="384.8" cy="30.6" r="1.15"/><circle cx="390.5" cy="38.8" r="1.15"/><circle cx="384.6" cy="32.1" r="1.15"/><circle cx="388.6" cy="26.6" r="1.15"/><circle cx="378.1" cy="47.6" r="1.15"/><circle cx="380.1" cy="22.9" r="1.15"/><circle cx="387.3" cy="17.5" r="1.15"/><circle cx="389.2" cy="26.2" r="1.15"/><circle cx="383.6" cy="43.4" r="1.15"/><circle cx="384.3" cy="33.7" r="1.15"/><circle cx="381.8" cy="53.1" r="1.15"/><circle cx="372.7" cy="25.0" r="1.15"/><circle cx="372.1" cy="30.5" r="1.15"/><circle cx="374.9" cy="40.0" r="1.15"/><circle cx="383.6" cy="24.1" r="1.15"/><circle cx="384.5" cy="35.4" r="1.15"/><circle cx="375.3" cy="21.8" r="1.15"/><circle cx="371.8" cy="42.3" r="1.15"/><circle cx="379.1" cy="26.6" r="1.15"/><circle cx="383.0" cy="30.2" r="1.15"/><circle cx="385.0" cy="34.1" r="1.15"/><circle cx="375.5" cy="53.4" r="1.15"/><circle cx="370.6" cy="37.8" r="1.15"/><circle cx="379.2" cy="25.5" r="1.15"/><circle cx="369.8" cy="38.6" r="1.15"/><circle cx="392.1" cy="21.5" r="1.15"/><circle cx="374.3" cy="41.0" r="1.15"/><circle cx="381.7" cy="42.4" r="1.15"/><circle cx="389.0" cy="22.8" r="1.15"/><circle cx="376.9" cy="28.1" r="1.15"/><circle cx="387.4" cy="35.0" r="1.15"/><circle cx="387.3" cy="34.5" r="1.15"/><circle cx="374.9" cy="19.9" r="1.15"/><circle cx="375.1" cy="17.1" r="1.15"/><circle cx="377.6" cy="47.0" r="1.15"/><circle cx="386.6" cy="26.7" r="1.15"/><circle cx="382.8" cy="33.8" r="1.15"/><circle cx="388.4" cy="37.5" r="1.15"/><circle cx="375.9" cy="42.5" r="1.15"/><circle cx="392.7" cy="24.6" r="1.15"/><circle cx="375.7" cy="25.4" r="1.15"/><circle cx="387.4" cy="29.2" r="1.15"/><circle cx="390.6" cy="29.3" r="1.15"/><circle cx="375.2" cy="53.6" r="1.15"/><circle cx="384.6" cy="44.6" r="1.15"/><circle cx="380.8" cy="50.8" r="1.15"/><circle cx="380.0" cy="45.9" r="1.15"/><circle cx="383.2" cy="28.4" r="1.15"/><circle cx="374.6" cy="41.7" r="1.15"/><circle cx="377.8" cy="21.5" r="1.15"/><circle cx="386.1" cy="42.1" r="1.15"/><circle cx="386.2" cy="46.4" r="1.15"/><circle cx="371.1" cy="40.3" r="1.15"/><circle cx="378.2" cy="49.8" r="1.15"/><circle cx="372.1" cy="24.1" r="1.15"/><circle cx="384.7" cy="27.6" r="1.15"/><circle cx="387.7" cy="24.1" r="1.15"/><circle cx="377.2" cy="33.3" r="1.15"/><circle cx="376.3" cy="45.6" r="1.15"/><circle cx="378.3" cy="29.0" r="1.15"/><circle cx="389.9" cy="41.5" r="1.15"/><circle cx="370.2" cy="32.8" r="1.15"/><circle cx="380.0" cy="48.0" r="1.15"/><circle cx="377.8" cy="45.1" r="1.15"/><circle cx="382.4" cy="24.6" r="1.15"/><circle cx="390.2" cy="19.3" r="1.15"/><circle cx="389.2" cy="22.7" r="1.15"/><circle cx="381.3" cy="49.0" r="1.15"/><circle cx="373.9" cy="36.3" r="1.15"/><circle cx="377.8" cy="50.4" r="1.15"/><circle cx="375.8" cy="55.1" r="1.15"/><circle cx="376.3" cy="24.5" r="1.15"/><circle cx="386.3" cy="36.4" r="1.15"/><circle cx="372.1" cy="42.2" r="1.15"/><circle cx="384.6" cy="30.4" r="1.15"/><circle cx="379.1" cy="32.1" r="1.15"/><circle cx="390.9" cy="19.1" r="1.15"/><circle cx="374.4" cy="26.6" r="1.15"/><circle cx="391.1" cy="36.5" r="1.15"/><circle cx="378.6" cy="52.6" r="1.15"/><circle cx="375.1" cy="34.9" r="1.15"/><circle cx="382.3" cy="47.2" r="1.15"/><circle cx="387.6" cy="42.6" r="1.15"/><circle cx="377.9" cy="29.2" r="1.15"/><circle cx="373.2" cy="50.9" r="1.15"/><circle cx="385.4" cy="46.7" r="1.15"/><circle cx="373.6" cy="33.9" r="1.15"/><circle cx="388.1" cy="39.8" r="1.15"/><circle cx="372.5" cy="34.9" r="1.15"/><circle cx="390.7" cy="25.5" r="1.15"/><circle cx="374.1" cy="28.2" r="1.15"/><circle cx="373.2" cy="22.1" r="1.15"/><circle cx="375.4" cy="29.2" r="1.15"/><circle cx="382.0" cy="22.3" r="1.15"/><circle cx="377.4" cy="23.4" r="1.15"/><circle cx="371.9" cy="31.6" r="1.15"/><circle cx="387.1" cy="33.8" r="1.15"/><circle cx="374.2" cy="42.3" r="1.15"/><circle cx="372.1" cy="24.2" r="1.15"/><circle cx="378.8" cy="16.9" r="1.15"/><circle cx="379.1" cy="48.7" r="1.15"/><circle cx="386.1" cy="36.5" r="1.15"/><circle cx="384.7" cy="35.0" r="1.15"/><circle cx="372.9" cy="40.9" r="1.15"/><circle cx="379.2" cy="46.6" r="1.15"/><circle cx="391.3" cy="33.6" r="1.15"/><circle cx="383.3" cy="47.0" r="1.15"/><circle cx="379.6" cy="25.1" r="1.15"/><circle cx="388.1" cy="44.9" r="1.15"/><circle cx="384.9" cy="34.6" r="1.15"/><circle cx="377.0" cy="41.9" r="1.15"/><circle cx="371.8" cy="33.1" r="1.15"/><circle cx="384.6" cy="26.0" r="1.15"/><circle cx="379.7" cy="34.6" r="1.15"/><circle cx="384.4" cy="32.7" r="1.15"/><circle cx="373.9" cy="43.0" r="1.15"/><circle cx="388.2" cy="31.8" r="1.15"/><circle cx="370.4" cy="38.3" r="1.15"/><circle cx="373.4" cy="48.3" r="1.15"/><circle cx="392.1" cy="37.3" r="1.15"/><circle cx="371.9" cy="39.6" r="1.15"/><circle cx="382.5" cy="45.6" r="1.15"/><circle cx="381.8" cy="42.3" r="1.15"/><circle cx="389.4" cy="37.4" r="1.15"/><circle cx="379.3" cy="55.3" r="1.15"/><circle cx="374.5" cy="44.2" r="1.15"/><circle cx="378.9" cy="47.5" r="1.15"/><circle cx="378.0" cy="17.9" r="1.15"/><circle cx="376.1" cy="32.3" r="1.15"/><circle cx="369.8" cy="33.1" r="1.15"/><circle cx="379.6" cy="44.8" r="1.15"/><circle cx="378.0" cy="26.6" r="1.15"/><circle cx="374.9" cy="46.6" r="1.15"/><circle cx="392.1" cy="37.6" r="1.15"/><circle cx="374.8" cy="49.2" r="1.15"/><circle cx="378.9" cy="24.4" r="1.15"/><circle cx="372.6" cy="48.1" r="1.15"/><circle cx="388.9" cy="42.1" r="1.15"/><circle cx="380.8" cy="39.1" r="1.15"/><circle cx="378.0" cy="42.3" r="1.15"/><circle cx="380.7" cy="27.9" r="1.15"/><circle cx="382.7" cy="20.8" r="1.15"/><circle cx="389.5" cy="30.4" r="1.15"/><circle cx="389.9" cy="26.7" r="1.15"/><circle cx="378.5" cy="26.1" r="1.15"/><circle cx="379.7" cy="23.3" r="1.15"/><circle cx="376.2" cy="25.8" r="1.15"/><circle cx="376.7" cy="35.6" r="1.15"/><circle cx="379.8" cy="42.3" r="1.15"/><circle cx="385.3" cy="30.7" r="1.15"/><circle cx="372.9" cy="50.4" r="1.15"/><circle cx="385.2" cy="26.0" r="1.15"/><circle cx="375.1" cy="48.1" r="1.15"/><circle cx="377.8" cy="21.9" r="1.15"/><circle cx="384.1" cy="48.3" r="1.15"/><circle cx="374.2" cy="44.6" r="1.15"/><circle cx="382.2" cy="46.7" r="1.15"/><circle cx="380.0" cy="52.6" r="1.15"/><circle cx="382.8" cy="26.6" r="1.15"/><circle cx="375.1" cy="21.4" r="1.15"/><circle cx="381.3" cy="18.0" r="1.15"/><circle cx="380.7" cy="21.6" r="1.15"/><circle cx="381.3" cy="36.4" r="1.15"/><circle cx="382.4" cy="51.7" r="1.15"/><circle cx="380.7" cy="39.1" r="1.15"/><circle cx="378.5" cy="33.1" r="1.15"/><circle cx="384.8" cy="42.2" r="1.15"/><circle cx="370.2" cy="41.1" r="1.15"/><circle cx="377.4" cy="56.7" r="1.15"/><circle cx="381.8" cy="35.9" r="1.15"/><circle cx="386.7" cy="41.8" r="1.15"/><circle cx="377.6" cy="51.7" r="1.15"/><circle cx="378.3" cy="35.4" r="1.15"/><circle cx="382.1" cy="47.9" r="1.15"/><circle cx="374.6" cy="33.8" r="1.15"/><circle cx="379.6" cy="38.8" r="1.15"/><circle cx="389.3" cy="27.8" r="1.15"/><circle cx="389.4" cy="32.5" r="1.15"/><circle cx="381.6" cy="26.9" r="1.15"/><circle cx="385.2" cy="48.8" r="1.15"/><circle cx="377.4" cy="28.8" r="1.15"/><circle cx="376.7" cy="40.1" r="1.15"/><circle cx="384.7" cy="48.4" r="1.15"/><circle cx="390.8" cy="38.4" r="1.15"/><circle cx="370.7" cy="28.1" r="1.15"/><circle cx="385.3" cy="48.6" r="1.15"/><circle cx="384.3" cy="41.8" r="1.15"/><circle cx="386.2" cy="40.5" r="1.15"/><circle cx="385.8" cy="24.4" r="1.15"/><circle cx="385.5" cy="34.7" r="1.15"/><circle cx="387.8" cy="19.8" r="1.15"/><circle cx="385.2" cy="31.0" r="1.15"/><circle cx="383.0" cy="26.3" r="1.15"/><circle cx="376.7" cy="33.2" r="1.15"/><circle cx="377.1" cy="33.6" r="1.15"/><circle cx="370.8" cy="39.3" r="1.15"/><circle cx="388.9" cy="39.7" r="1.15"/><circle cx="391.5" cy="34.3" r="1.15"/><circle cx="369.8" cy="31.8" r="1.15"/><circle cx="379.4" cy="19.8" r="1.15"/><circle cx="385.0" cy="24.4" r="1.15"/><circle cx="386.8" cy="25.7" r="1.15"/><circle cx="387.1" cy="23.4" r="1.15"/><circle cx="387.0" cy="19.0" r="1.15"/><circle cx="384.6" cy="45.3" r="1.15"/><circle cx="380.6" cy="54.7" r="1.15"/><circle cx="386.7" cy="16.0" r="1.15"/><circle cx="389.1" cy="18.8" r="1.15"/><circle cx="377.0" cy="46.1" r="1.15"/><circle cx="373.5" cy="51.7" r="1.15"/><circle cx="381.2" cy="18.0" r="1.15"/><circle cx="378.3" cy="39.6" r="1.15"/><circle cx="380.0" cy="43.9" r="1.15"/><circle cx="373.0" cy="49.0" r="1.15"/><circle cx="378.2" cy="42.6" r="1.15"/><circle cx="384.6" cy="33.1" r="1.15"/><circle cx="378.8" cy="48.5" r="1.15"/><circle cx="383.1" cy="27.8" r="1.15"/><circle cx="377.5" cy="40.9" r="1.15"/><circle cx="383.9" cy="28.5" r="1.15"/></g><g fill="#4a84cc"><circle cx="403.2" cy="98.1" r="1.15"/><circle cx="370.8" cy="115.7" r="1.15"/><circle cx="393.2" cy="97.8" r="1.15"/><circle cx="383.7" cy="91.7" r="1.15"/><circle cx="377.5" cy="113.0" r="1.15"/><circle cx="379.8" cy="113.0" r="1.15"/><circle cx="402.6" cy="103.7" r="1.15"/><circle cx="372.7" cy="114.8" r="1.15"/><circle cx="377.0" cy="95.2" r="1.15"/><circle cx="376.7" cy="111.4" r="1.15"/><circle cx="411.3" cy="101.0" r="1.15"/><circle cx="373.5" cy="109.2" r="1.15"/><circle cx="394.3" cy="100.0" r="1.15"/><circle cx="393.0" cy="97.4" r="1.15"/><circle cx="402.0" cy="102.6" r="1.15"/><circle cx="379.8" cy="90.2" r="1.15"/><circle cx="377.5" cy="94.8" r="1.15"/><circle cx="394.4" cy="101.7" r="1.15"/><circle cx="374.1" cy="119.7" r="1.15"/><circle cx="379.9" cy="107.1" r="1.15"/><circle cx="397.4" cy="101.6" r="1.15"/><circle cx="378.4" cy="90.2" r="1.15"/><circle cx="379.8" cy="100.3" r="1.15"/><circle cx="397.7" cy="98.6" r="1.15"/><circle cx="379.9" cy="93.0" r="1.15"/><circle cx="379.1" cy="93.6" r="1.15"/><circle cx="378.4" cy="118.9" r="1.15"/><circle cx="374.9" cy="103.3" r="1.15"/><circle cx="373.1" cy="118.7" r="1.15"/><circle cx="388.2" cy="99.9" r="1.15"/><circle cx="378.4" cy="90.8" r="1.15"/><circle cx="375.1" cy="116.9" r="1.15"/><circle cx="380.3" cy="102.2" r="1.15"/><circle cx="404.6" cy="99.7" r="1.15"/><circle cx="376.1" cy="104.7" r="1.15"/><circle cx="373.8" cy="120.3" r="1.15"/><circle cx="371.4" cy="117.6" r="1.15"/><circle cx="389.2" cy="98.2" r="1.15"/><circle cx="379.9" cy="95.5" r="1.15"/><circle cx="399.8" cy="98.4" r="1.15"/><circle cx="403.2" cy="99.9" r="1.15"/><circle cx="376.9" cy="102.9" r="1.15"/><circle cx="376.6" cy="113.7" r="1.15"/><circle cx="394.8" cy="104.9" r="1.15"/><circle cx="380.6" cy="95.6" r="1.15"/><circle cx="377.6" cy="91.1" r="1.15"/><circle cx="400.1" cy="102.1" r="1.15"/><circle cx="403.4" cy="99.7" r="1.15"/><circle cx="376.9" cy="115.6" r="1.15"/><circle cx="384.6" cy="94.2" r="1.15"/><circle cx="374.1" cy="111.9" r="1.15"/><circle cx="371.6" cy="116.9" r="1.15"/><circle cx="379.6" cy="115.1" r="1.15"/><circle cx="369.7" cy="108.2" r="1.15"/><circle cx="380.9" cy="92.9" r="1.15"/><circle cx="375.2" cy="107.3" r="1.15"/><circle cx="385.5" cy="102.5" r="1.15"/><circle cx="401.9" cy="99.8" r="1.15"/><circle cx="379.2" cy="99.7" r="1.15"/><circle cx="371.3" cy="105.6" r="1.15"/><circle cx="379.6" cy="102.5" r="1.15"/><circle cx="395.8" cy="100.7" r="1.15"/><circle cx="396.2" cy="97.5" r="1.15"/><circle cx="397.8" cy="97.7" r="1.15"/><circle cx="391.1" cy="102.9" r="1.15"/><circle cx="374.1" cy="108.0" r="1.15"/><circle cx="380.4" cy="103.9" r="1.15"/><circle cx="381.4" cy="102.0" r="1.15"/><circle cx="381.2" cy="96.8" r="1.15"/><circle cx="372.7" cy="106.5" r="1.15"/><circle cx="377.5" cy="111.7" r="1.15"/><circle cx="395.0" cy="104.0" r="1.15"/><circle cx="382.2" cy="96.8" r="1.15"/><circle cx="378.4" cy="105.4" r="1.15"/><circle cx="392.6" cy="104.7" r="1.15"/><circle cx="381.5" cy="113.7" r="1.15"/><circle cx="405.9" cy="103.1" r="1.15"/><circle cx="375.6" cy="99.8" r="1.15"/><circle cx="401.2" cy="104.2" r="1.15"/><circle cx="393.3" cy="102.4" r="1.15"/><circle cx="394.8" cy="101.1" r="1.15"/><circle cx="388.2" cy="103.7" r="1.15"/><circle cx="399.7" cy="98.4" r="1.15"/><circle cx="385.3" cy="99.3" r="1.15"/><circle cx="390.2" cy="103.2" r="1.15"/><circle cx="376.8" cy="98.7" r="1.15"/><circle cx="375.1" cy="107.4" r="1.15"/><circle cx="408.0" cy="99.4" r="1.15"/><circle cx="393.0" cy="104.9" r="1.15"/><circle cx="398.1" cy="101.5" r="1.15"/><circle cx="376.2" cy="99.2" r="1.15"/><circle cx="406.7" cy="102.5" r="1.15"/><circle cx="390.7" cy="105.2" r="1.15"/><circle cx="380.3" cy="109.7" r="1.15"/><circle cx="393.4" cy="102.2" r="1.15"/><circle cx="401.7" cy="99.3" r="1.15"/><circle cx="399.3" cy="100.3" r="1.15"/><circle cx="376.2" cy="97.5" r="1.15"/><circle cx="373.2" cy="117.9" r="1.15"/><circle cx="393.7" cy="100.2" r="1.15"/><circle cx="388.1" cy="101.3" r="1.15"/><circle cx="371.3" cy="117.5" r="1.15"/><circle cx="379.6" cy="90.4" r="1.15"/><circle cx="403.6" cy="98.7" r="1.15"/><circle cx="379.3" cy="101.5" r="1.15"/><circle cx="379.3" cy="94.6" r="1.15"/><circle cx="384.2" cy="95.0" r="1.15"/><circle cx="391.6" cy="101.3" r="1.15"/><circle cx="374.2" cy="115.4" r="1.15"/><circle cx="383.9" cy="96.8" r="1.15"/><circle cx="377.1" cy="98.1" r="1.15"/><circle cx="379.1" cy="90.1" r="1.15"/><circle cx="397.2" cy="99.9" r="1.15"/><circle cx="375.6" cy="111.6" r="1.15"/><circle cx="377.8" cy="119.4" r="1.15"/><circle cx="384.6" cy="96.9" r="1.15"/><circle cx="380.5" cy="113.7" r="1.15"/><circle cx="393.1" cy="98.9" r="1.15"/><circle cx="376.5" cy="116.2" r="1.15"/><circle cx="373.6" cy="107.0" r="1.15"/><circle cx="381.6" cy="91.1" r="1.15"/><circle cx="382.2" cy="96.2" r="1.15"/><circle cx="374.3" cy="111.9" r="1.15"/><circle cx="381.0" cy="101.9" r="1.15"/><circle cx="370.3" cy="110.7" r="1.15"/><circle cx="397.1" cy="100.2" r="1.15"/><circle cx="404.9" cy="100.3" r="1.15"/><circle cx="373.9" cy="118.2" r="1.15"/><circle cx="381.9" cy="101.2" r="1.15"/><circle cx="381.1" cy="90.4" r="1.15"/><circle cx="373.7" cy="114.3" r="1.15"/><circle cx="377.9" cy="118.3" r="1.15"/><circle cx="398.5" cy="101.6" r="1.15"/><circle cx="380.9" cy="91.9" r="1.15"/><circle cx="409.1" cy="102.6" r="1.15"/><circle cx="395.6" cy="103.5" r="1.15"/><circle cx="371.3" cy="111.3" r="1.15"/><circle cx="380.1" cy="106.5" r="1.15"/><circle cx="386.5" cy="95.4" r="1.15"/><circle cx="382.2" cy="93.4" r="1.15"/><circle cx="379.1" cy="96.7" r="1.15"/><circle cx="390.9" cy="103.2" r="1.15"/><circle cx="408.7" cy="100.2" r="1.15"/><circle cx="375.0" cy="107.0" r="1.15"/><circle cx="376.2" cy="110.3" r="1.15"/><circle cx="394.4" cy="103.8" r="1.15"/><circle cx="384.3" cy="95.6" r="1.15"/><circle cx="377.4" cy="111.5" r="1.15"/><circle cx="382.8" cy="104.0" r="1.15"/><circle cx="384.4" cy="94.4" r="1.15"/><circle cx="372.6" cy="111.9" r="1.15"/><circle cx="373.6" cy="104.6" r="1.15"/><circle cx="379.4" cy="93.4" r="1.15"/><circle cx="370.2" cy="113.8" r="1.15"/><circle cx="404.6" cy="98.5" r="1.15"/><circle cx="376.9" cy="109.4" r="1.15"/><circle cx="376.1" cy="114.1" r="1.15"/><circle cx="382.9" cy="94.9" r="1.15"/><circle cx="404.0" cy="99.2" r="1.15"/><circle cx="379.1" cy="90.3" r="1.15"/><circle cx="402.4" cy="102.6" r="1.15"/><circle cx="381.0" cy="110.2" r="1.15"/><circle cx="390.8" cy="102.5" r="1.15"/><circle cx="383.4" cy="103.0" r="1.15"/><circle cx="381.5" cy="103.2" r="1.15"/><circle cx="392.9" cy="100.1" r="1.15"/><circle cx="382.7" cy="103.7" r="1.15"/><circle cx="381.6" cy="107.3" r="1.15"/><circle cx="396.4" cy="98.6" r="1.15"/><circle cx="397.8" cy="103.3" r="1.15"/><circle cx="372.6" cy="110.1" r="1.15"/><circle cx="392.9" cy="101.7" r="1.15"/><circle cx="373.8" cy="116.6" r="1.15"/><circle cx="379.7" cy="92.0" r="1.15"/><circle cx="391.5" cy="97.0" r="1.15"/><circle cx="378.6" cy="107.3" r="1.15"/><circle cx="373.8" cy="105.4" r="1.15"/><circle cx="373.3" cy="115.6" r="1.15"/><circle cx="385.6" cy="94.5" r="1.15"/><circle cx="379.0" cy="100.9" r="1.15"/><circle cx="369.6" cy="108.0" r="1.15"/><circle cx="378.0" cy="98.6" r="1.15"/><circle cx="399.0" cy="102.6" r="1.15"/><circle cx="376.1" cy="112.9" r="1.15"/><circle cx="373.8" cy="118.6" r="1.15"/><circle cx="377.2" cy="103.3" r="1.15"/><circle cx="373.7" cy="114.6" r="1.15"/><circle cx="376.9" cy="106.7" r="1.15"/><circle cx="381.3" cy="111.0" r="1.15"/><circle cx="385.1" cy="93.6" r="1.15"/><circle cx="383.5" cy="93.8" r="1.15"/><circle cx="376.7" cy="115.2" r="1.15"/><circle cx="397.8" cy="101.6" r="1.15"/><circle cx="404.8" cy="101.6" r="1.15"/><circle cx="378.2" cy="117.6" r="1.15"/><circle cx="376.2" cy="100.6" r="1.15"/><circle cx="385.4" cy="100.3" r="1.15"/><circle cx="397.4" cy="97.7" r="1.15"/><circle cx="380.6" cy="105.0" r="1.15"/><circle cx="380.1" cy="107.2" r="1.15"/><circle cx="384.4" cy="98.0" r="1.15"/><circle cx="395.9" cy="100.2" r="1.15"/><circle cx="392.4" cy="102.0" r="1.15"/><circle cx="389.4" cy="100.8" r="1.15"/><circle cx="379.3" cy="96.5" r="1.15"/><circle cx="383.8" cy="93.3" r="1.15"/><circle cx="388.2" cy="103.3" r="1.15"/><circle cx="393.1" cy="98.7" r="1.15"/><circle cx="381.8" cy="98.9" r="1.15"/><circle cx="408.7" cy="99.9" r="1.15"/><circle cx="371.9" cy="104.5" r="1.15"/><circle cx="379.9" cy="89.7" r="1.15"/><circle cx="385.9" cy="95.4" r="1.15"/><circle cx="383.5" cy="93.4" r="1.15"/><circle cx="377.0" cy="106.2" r="1.15"/><circle cx="396.5" cy="102.0" r="1.15"/><circle cx="397.8" cy="99.8" r="1.15"/><circle cx="370.9" cy="109.0" r="1.15"/><circle cx="383.2" cy="104.8" r="1.15"/><circle cx="394.3" cy="97.2" r="1.15"/><circle cx="383.0" cy="92.0" r="1.15"/><circle cx="403.5" cy="102.5" r="1.15"/><circle cx="394.5" cy="99.6" r="1.15"/><circle cx="401.9" cy="98.9" r="1.15"/><circle cx="388.2" cy="97.9" r="1.15"/><circle cx="401.8" cy="100.6" r="1.15"/><circle cx="371.6" cy="105.1" r="1.15"/><circle cx="408.8" cy="100.7" r="1.15"/><circle cx="396.0" cy="100.0" r="1.15"/><circle cx="402.9" cy="103.7" r="1.15"/><circle cx="373.6" cy="112.5" r="1.15"/><circle cx="371.8" cy="109.7" r="1.15"/><circle cx="371.5" cy="107.1" r="1.15"/><circle cx="378.5" cy="97.1" r="1.15"/><circle cx="380.1" cy="102.9" r="1.15"/><circle cx="378.8" cy="95.5" r="1.15"/><circle cx="378.2" cy="107.2" r="1.15"/><circle cx="375.6" cy="116.6" r="1.15"/><circle cx="381.0" cy="99.6" r="1.15"/><circle cx="375.9" cy="110.8" r="1.15"/></g><g fill="#c5dea2"><circle cx="385.6" cy="106.5" r="1.15"/><circle cx="381.3" cy="110.8" r="1.15"/><circle cx="383.0" cy="109.8" r="1.15"/><circle cx="388.5" cy="103.8" r="1.15"/><circle cx="382.3" cy="102.2" r="1.15"/><circle cx="380.7" cy="109.4" r="1.15"/><circle cx="386.5" cy="102.9" r="1.15"/><circle cx="382.7" cy="111.2" r="1.15"/><circle cx="389.8" cy="102.3" r="1.15"/><circle cx="381.6" cy="109.9" r="1.15"/><circle cx="386.6" cy="102.4" r="1.15"/><circle cx="384.6" cy="104.3" r="1.15"/></g><g fill="#e4601c"><circle cx="399.5" cy="103.4" r="1.15"/><circle cx="392.7" cy="115.6" r="1.15"/><circle cx="393.0" cy="113.7" r="1.15"/><circle cx="401.0" cy="103.6" r="1.15"/><circle cx="397.8" cy="115.9" r="1.15"/><circle cx="410.2" cy="111.2" r="1.15"/><circle cx="409.4" cy="123.4" r="1.15"/><circle cx="396.0" cy="105.7" r="1.15"/><circle cx="395.8" cy="102.2" r="1.15"/><circle cx="399.0" cy="117.8" r="1.15"/><circle cx="405.1" cy="120.9" r="1.15"/><circle cx="402.0" cy="117.6" r="1.15"/><circle cx="405.2" cy="131.4" r="1.15"/><circle cx="409.2" cy="123.0" r="1.15"/><circle cx="398.8" cy="110.2" r="1.15"/><circle cx="398.5" cy="112.3" r="1.15"/><circle cx="399.0" cy="104.6" r="1.15"/><circle cx="403.4" cy="129.6" r="1.15"/><circle cx="395.6" cy="119.5" r="1.15"/><circle cx="398.3" cy="107.7" r="1.15"/><circle cx="394.4" cy="103.7" r="1.15"/><circle cx="408.5" cy="125.1" r="1.15"/><circle cx="405.3" cy="110.4" r="1.15"/><circle cx="404.2" cy="117.6" r="1.15"/><circle cx="408.8" cy="116.3" r="1.15"/><circle cx="395.2" cy="120.1" r="1.15"/><circle cx="406.4" cy="112.1" r="1.15"/><circle cx="405.7" cy="112.6" r="1.15"/><circle cx="401.6" cy="119.6" r="1.15"/><circle cx="404.9" cy="110.3" r="1.15"/><circle cx="403.8" cy="117.4" r="1.15"/><circle cx="394.9" cy="119.6" r="1.15"/><circle cx="400.4" cy="123.1" r="1.15"/><circle cx="401.5" cy="115.3" r="1.15"/><circle cx="394.9" cy="104.5" r="1.15"/><circle cx="410.4" cy="116.9" r="1.15"/><circle cx="401.5" cy="116.9" r="1.15"/><circle cx="407.9" cy="107.6" r="1.15"/><circle cx="400.1" cy="120.5" r="1.15"/><circle cx="408.2" cy="128.6" r="1.15"/><circle cx="398.4" cy="126.6" r="1.15"/><circle cx="408.0" cy="103.9" r="1.15"/><circle cx="393.4" cy="108.0" r="1.15"/><circle cx="392.3" cy="111.4" r="1.15"/><circle cx="407.7" cy="116.7" r="1.15"/><circle cx="400.0" cy="102.8" r="1.15"/><circle cx="405.3" cy="114.4" r="1.15"/><circle cx="400.5" cy="125.5" r="1.15"/><circle cx="406.7" cy="104.8" r="1.15"/><circle cx="405.0" cy="111.7" r="1.15"/><circle cx="401.5" cy="107.6" r="1.15"/><circle cx="398.2" cy="110.9" r="1.15"/><circle cx="398.4" cy="100.6" r="1.15"/><circle cx="394.4" cy="118.3" r="1.15"/><circle cx="405.8" cy="108.8" r="1.15"/><circle cx="397.1" cy="107.7" r="1.15"/><circle cx="408.4" cy="102.9" r="1.15"/><circle cx="404.0" cy="127.5" r="1.15"/><circle cx="394.4" cy="113.5" r="1.15"/><circle cx="407.4" cy="119.8" r="1.15"/><circle cx="398.2" cy="101.4" r="1.15"/><circle cx="399.7" cy="111.7" r="1.15"/><circle cx="405.7" cy="109.4" r="1.15"/><circle cx="399.0" cy="120.7" r="1.15"/><circle cx="407.8" cy="111.3" r="1.15"/><circle cx="398.5" cy="118.5" r="1.15"/><circle cx="410.3" cy="106.1" r="1.15"/><circle cx="411.4" cy="122.8" r="1.15"/><circle cx="398.2" cy="121.3" r="1.15"/><circle cx="397.2" cy="102.3" r="1.15"/><circle cx="406.6" cy="112.1" r="1.15"/><circle cx="401.6" cy="115.9" r="1.15"/><circle cx="409.8" cy="124.2" r="1.15"/><circle cx="400.2" cy="114.8" r="1.15"/><circle cx="408.5" cy="113.3" r="1.15"/><circle cx="400.4" cy="128.5" r="1.15"/><circle cx="399.7" cy="115.7" r="1.15"/><circle cx="401.3" cy="126.4" r="1.15"/><circle cx="404.7" cy="123.7" r="1.15"/><circle cx="398.8" cy="101.3" r="1.15"/><circle cx="405.0" cy="117.7" r="1.15"/><circle cx="406.9" cy="124.6" r="1.15"/><circle cx="392.6" cy="107.1" r="1.15"/><circle cx="406.6" cy="118.1" r="1.15"/><circle cx="405.6" cy="115.4" r="1.15"/><circle cx="399.2" cy="118.7" r="1.15"/><circle cx="409.2" cy="104.7" r="1.15"/><circle cx="397.4" cy="116.6" r="1.15"/><circle cx="396.0" cy="108.4" r="1.15"/><circle cx="396.9" cy="108.2" r="1.15"/><circle cx="408.9" cy="117.8" r="1.15"/><circle cx="401.2" cy="113.4" r="1.15"/><circle cx="391.1" cy="109.7" r="1.15"/><circle cx="409.1" cy="125.7" r="1.15"/><circle cx="408.8" cy="108.2" r="1.15"/><circle cx="394.4" cy="101.7" r="1.15"/><circle cx="401.8" cy="112.0" r="1.15"/><circle cx="400.2" cy="115.6" r="1.15"/><circle cx="402.8" cy="111.7" r="1.15"/><circle cx="407.6" cy="106.4" r="1.15"/><circle cx="410.2" cy="117.8" r="1.15"/><circle cx="391.1" cy="110.1" r="1.15"/><circle cx="401.7" cy="113.1" r="1.15"/><circle cx="402.4" cy="110.4" r="1.15"/><circle cx="396.0" cy="125.5" r="1.15"/><circle cx="396.4" cy="122.7" r="1.15"/><circle cx="407.7" cy="118.9" r="1.15"/><circle cx="399.8" cy="128.1" r="1.15"/><circle cx="391.3" cy="113.9" r="1.15"/><circle cx="404.1" cy="101.6" r="1.15"/><circle cx="409.0" cy="102.3" r="1.15"/><circle cx="403.1" cy="105.8" r="1.15"/><circle cx="410.3" cy="118.0" r="1.15"/><circle cx="407.6" cy="115.9" r="1.15"/><circle cx="404.8" cy="121.6" r="1.15"/><circle cx="396.5" cy="106.8" r="1.15"/><circle cx="408.4" cy="104.7" r="1.15"/><circle cx="410.2" cy="106.6" r="1.15"/><circle cx="407.3" cy="130.4" r="1.15"/><circle cx="399.1" cy="121.1" r="1.15"/><circle cx="405.1" cy="105.0" r="1.15"/><circle cx="396.5" cy="107.4" r="1.15"/><circle cx="402.8" cy="110.2" r="1.15"/><circle cx="402.3" cy="104.9" r="1.15"/><circle cx="410.1" cy="110.4" r="1.15"/><circle cx="408.5" cy="104.9" r="1.15"/><circle cx="407.6" cy="131.4" r="1.15"/><circle cx="398.6" cy="101.1" r="1.15"/><circle cx="398.4" cy="120.5" r="1.15"/><circle cx="394.9" cy="117.5" r="1.15"/><circle cx="392.1" cy="114.9" r="1.15"/><circle cx="406.0" cy="113.8" r="1.15"/><circle cx="404.9" cy="103.7" r="1.15"/><circle cx="408.2" cy="103.9" r="1.15"/><circle cx="410.7" cy="116.8" r="1.15"/><circle cx="396.4" cy="111.1" r="1.15"/><circle cx="406.5" cy="115.9" r="1.15"/><circle cx="400.7" cy="127.6" r="1.15"/><circle cx="403.2" cy="117.3" r="1.15"/><circle cx="391.9" cy="104.5" r="1.15"/><circle cx="408.6" cy="107.3" r="1.15"/><circle cx="403.2" cy="131.0" r="1.15"/><circle cx="404.4" cy="101.6" r="1.15"/><circle cx="397.3" cy="114.4" r="1.15"/><circle cx="395.4" cy="123.8" r="1.15"/><circle cx="396.6" cy="102.2" r="1.15"/><circle cx="402.3" cy="103.1" r="1.15"/><circle cx="402.1" cy="125.2" r="1.15"/><circle cx="403.1" cy="114.8" r="1.15"/><circle cx="392.9" cy="118.5" r="1.15"/><circle cx="397.8" cy="112.0" r="1.15"/><circle cx="404.6" cy="105.2" r="1.15"/><circle cx="397.3" cy="127.0" r="1.15"/><circle cx="409.2" cy="115.4" r="1.15"/><circle cx="393.3" cy="103.0" r="1.15"/><circle cx="409.3" cy="103.7" r="1.15"/><circle cx="400.9" cy="117.2" r="1.15"/><circle cx="392.6" cy="115.0" r="1.15"/><circle cx="393.6" cy="117.1" r="1.15"/><circle cx="401.1" cy="111.7" r="1.15"/><circle cx="394.3" cy="112.9" r="1.15"/><circle cx="394.5" cy="104.1" r="1.15"/><circle cx="401.0" cy="128.5" r="1.15"/><circle cx="400.7" cy="125.3" r="1.15"/><circle cx="402.5" cy="122.0" r="1.15"/><circle cx="395.0" cy="124.0" r="1.15"/><circle cx="393.4" cy="108.5" r="1.15"/><circle cx="390.7" cy="112.6" r="1.15"/><circle cx="401.4" cy="109.3" r="1.15"/><circle cx="409.6" cy="102.7" r="1.15"/><circle cx="402.7" cy="107.5" r="1.15"/><circle cx="403.1" cy="125.1" r="1.15"/><circle cx="405.6" cy="102.0" r="1.15"/><circle cx="395.4" cy="119.2" r="1.15"/><circle cx="403.6" cy="122.1" r="1.15"/><circle cx="407.9" cy="110.9" r="1.15"/><circle cx="407.8" cy="114.8" r="1.15"/><circle cx="410.7" cy="113.2" r="1.15"/><circle cx="399.0" cy="102.8" r="1.15"/><circle cx="395.4" cy="123.5" r="1.15"/><circle cx="404.9" cy="104.8" r="1.15"/><circle cx="397.6" cy="104.5" r="1.15"/><circle cx="394.4" cy="107.0" r="1.15"/><circle cx="400.6" cy="115.9" r="1.15"/><circle cx="407.1" cy="129.1" r="1.15"/><circle cx="406.5" cy="120.4" r="1.15"/><circle cx="394.4" cy="120.0" r="1.15"/><circle cx="408.6" cy="125.2" r="1.15"/><circle cx="397.7" cy="105.2" r="1.15"/><circle cx="411.2" cy="121.5" r="1.15"/><circle cx="406.4" cy="104.3" r="1.15"/><circle cx="408.2" cy="130.0" r="1.15"/><circle cx="409.9" cy="123.8" r="1.15"/><circle cx="408.3" cy="125.7" r="1.15"/><circle cx="403.0" cy="113.9" r="1.15"/><circle cx="408.2" cy="125.1" r="1.15"/><circle cx="409.2" cy="109.6" r="1.15"/><circle cx="411.1" cy="117.0" r="1.15"/><circle cx="411.3" cy="125.2" r="1.15"/><circle cx="395.1" cy="106.3" r="1.15"/><circle cx="400.1" cy="107.6" r="1.15"/><circle cx="400.8" cy="129.1" r="1.15"/><circle cx="405.1" cy="122.7" r="1.15"/><circle cx="398.6" cy="125.1" r="1.15"/><circle cx="407.5" cy="121.9" r="1.15"/><circle cx="410.7" cy="126.4" r="1.15"/><circle cx="398.9" cy="102.8" r="1.15"/><circle cx="404.4" cy="126.8" r="1.15"/><circle cx="397.5" cy="119.0" r="1.15"/><circle cx="408.4" cy="125.4" r="1.15"/><circle cx="407.9" cy="113.4" r="1.15"/><circle cx="403.3" cy="114.6" r="1.15"/><circle cx="397.4" cy="106.8" r="1.15"/><circle cx="397.8" cy="127.0" r="1.15"/><circle cx="403.6" cy="109.3" r="1.15"/><circle cx="391.9" cy="108.7" r="1.15"/><circle cx="405.4" cy="114.1" r="1.15"/><circle cx="404.5" cy="125.8" r="1.15"/><circle cx="394.1" cy="108.7" r="1.15"/><circle cx="411.1" cy="111.6" r="1.15"/><circle cx="403.4" cy="128.6" r="1.15"/><circle cx="398.7" cy="116.0" r="1.15"/><circle cx="411.0" cy="116.2" r="1.15"/><circle cx="408.3" cy="105.2" r="1.15"/><circle cx="400.0" cy="125.9" r="1.15"/><circle cx="395.5" cy="111.3" r="1.15"/><circle cx="392.2" cy="117.7" r="1.15"/><circle cx="409.0" cy="116.4" r="1.15"/><circle cx="409.7" cy="121.3" r="1.15"/><circle cx="398.0" cy="121.2" r="1.15"/><circle cx="403.9" cy="112.0" r="1.15"/><circle cx="401.5" cy="121.6" r="1.15"/><circle cx="410.0" cy="115.9" r="1.15"/><circle cx="405.0" cy="117.8" r="1.15"/><circle cx="399.9" cy="124.0" r="1.15"/><circle cx="409.6" cy="123.3" r="1.15"/><circle cx="406.5" cy="101.1" r="1.15"/><circle cx="397.2" cy="104.4" r="1.15"/><circle cx="393.2" cy="118.8" r="1.15"/><circle cx="402.7" cy="101.5" r="1.15"/><circle cx="398.6" cy="123.9" r="1.15"/><circle cx="404.1" cy="109.0" r="1.15"/><circle cx="406.8" cy="109.3" r="1.15"/><circle cx="402.0" cy="113.5" r="1.15"/><circle cx="411.5" cy="120.8" r="1.15"/><circle cx="407.7" cy="121.6" r="1.15"/><circle cx="405.6" cy="122.1" r="1.15"/><circle cx="396.1" cy="105.2" r="1.15"/><circle cx="402.7" cy="126.4" r="1.15"/><circle cx="407.5" cy="111.1" r="1.15"/><circle cx="393.1" cy="116.5" r="1.15"/><circle cx="409.3" cy="105.2" r="1.15"/><circle cx="406.2" cy="105.5" r="1.15"/><circle cx="396.9" cy="101.7" r="1.15"/><circle cx="396.5" cy="112.3" r="1.15"/><circle cx="394.1" cy="109.9" r="1.15"/><circle cx="410.8" cy="106.3" r="1.15"/><circle cx="397.1" cy="114.0" r="1.15"/><circle cx="392.4" cy="108.3" r="1.15"/><circle cx="398.7" cy="112.3" r="1.15"/><circle cx="411.2" cy="108.5" r="1.15"/><circle cx="399.9" cy="126.8" r="1.15"/><circle cx="404.0" cy="124.9" r="1.15"/><circle cx="396.9" cy="104.9" r="1.15"/><circle cx="406.7" cy="115.0" r="1.15"/><circle cx="402.3" cy="121.5" r="1.15"/><circle cx="406.6" cy="108.8" r="1.15"/><circle cx="401.6" cy="109.2" r="1.15"/><circle cx="403.9" cy="108.3" r="1.15"/><circle cx="407.0" cy="101.3" r="1.15"/><circle cx="408.2" cy="118.1" r="1.15"/><circle cx="395.8" cy="107.8" r="1.15"/><circle cx="406.6" cy="121.7" r="1.15"/><circle cx="399.1" cy="125.8" r="1.15"/><circle cx="392.4" cy="109.8" r="1.15"/><circle cx="404.2" cy="131.0" r="1.15"/><circle cx="403.9" cy="122.1" r="1.15"/><circle cx="407.0" cy="112.6" r="1.15"/><circle cx="410.7" cy="123.8" r="1.15"/><circle cx="397.5" cy="112.6" r="1.15"/><circle cx="407.7" cy="111.2" r="1.15"/><circle cx="401.7" cy="116.7" r="1.15"/><circle cx="404.7" cy="128.8" r="1.15"/><circle cx="392.9" cy="110.8" r="1.15"/><circle cx="391.5" cy="113.2" r="1.15"/><circle cx="401.0" cy="127.3" r="1.15"/><circle cx="404.7" cy="118.5" r="1.15"/><circle cx="398.9" cy="118.4" r="1.15"/><circle cx="407.3" cy="126.8" r="1.15"/><circle cx="406.6" cy="116.0" r="1.15"/><circle cx="409.8" cy="128.8" r="1.15"/><circle cx="406.3" cy="126.3" r="1.15"/><circle cx="404.3" cy="128.1" r="1.15"/><circle cx="405.5" cy="119.6" r="1.15"/><circle cx="396.1" cy="102.2" r="1.15"/><circle cx="403.3" cy="126.4" r="1.15"/><circle cx="396.0" cy="106.8" r="1.15"/><circle cx="394.9" cy="103.0" r="1.15"/><circle cx="404.9" cy="131.2" r="1.15"/><circle cx="407.6" cy="111.5" r="1.15"/></g><g fill="#7b1111"><circle cx="389.8" cy="128.8" r="1.15"/><circle cx="364.3" cy="142.3" r="1.15"/><circle cx="383.1" cy="129.2" r="1.15"/><circle cx="373.6" cy="135.3" r="1.15"/><circle cx="370.0" cy="141.4" r="1.15"/><circle cx="369.7" cy="142.7" r="1.15"/><circle cx="381.7" cy="130.8" r="1.15"/><circle cx="379.4" cy="135.9" r="1.15"/><circle cx="370.2" cy="143.4" r="1.15"/><circle cx="393.8" cy="128.9" r="1.15"/><circle cx="377.5" cy="138.4" r="1.15"/><circle cx="385.7" cy="132.3" r="1.15"/><circle cx="369.2" cy="139.9" r="1.15"/><circle cx="379.5" cy="131.8" r="1.15"/><circle cx="369.3" cy="139.0" r="1.15"/><circle cx="363.4" cy="143.3" r="1.15"/><circle cx="388.7" cy="132.3" r="1.15"/><circle cx="367.9" cy="141.0" r="1.15"/><circle cx="381.0" cy="133.7" r="1.15"/><circle cx="386.4" cy="130.4" r="1.15"/><circle cx="378.5" cy="137.3" r="1.15"/><circle cx="392.0" cy="130.3" r="1.15"/><circle cx="377.6" cy="135.8" r="1.15"/><circle cx="378.1" cy="130.8" r="1.15"/><circle cx="370.7" cy="137.5" r="1.15"/><circle cx="385.1" cy="132.7" r="1.15"/><circle cx="367.5" cy="144.5" r="1.15"/><circle cx="370.0" cy="138.1" r="1.15"/><circle cx="392.4" cy="127.1" r="1.15"/><circle cx="369.0" cy="141.8" r="1.15"/><circle cx="366.4" cy="141.2" r="1.15"/><circle cx="363.1" cy="143.0" r="1.15"/><circle cx="379.1" cy="136.7" r="1.15"/><circle cx="390.1" cy="122.7" r="1.15"/><circle cx="387.4" cy="124.0" r="1.15"/><circle cx="379.6" cy="132.3" r="1.15"/><circle cx="376.0" cy="136.5" r="1.15"/><circle cx="387.1" cy="127.4" r="1.15"/><circle cx="373.5" cy="140.8" r="1.15"/><circle cx="366.4" cy="142.3" r="1.15"/><circle cx="373.0" cy="136.9" r="1.15"/><circle cx="374.7" cy="134.5" r="1.15"/><circle cx="393.9" cy="124.4" r="1.15"/><circle cx="371.8" cy="140.8" r="1.15"/><circle cx="385.1" cy="132.0" r="1.15"/><circle cx="392.8" cy="129.2" r="1.15"/><circle cx="389.5" cy="126.1" r="1.15"/><circle cx="384.5" cy="127.5" r="1.15"/><circle cx="392.0" cy="124.3" r="1.15"/><circle cx="363.5" cy="143.0" r="1.15"/><circle cx="367.2" cy="146.0" r="1.15"/><circle cx="374.6" cy="139.5" r="1.15"/><circle cx="367.4" cy="141.3" r="1.15"/><circle cx="370.9" cy="141.5" r="1.15"/><circle cx="387.5" cy="126.0" r="1.15"/><circle cx="383.5" cy="132.7" r="1.15"/><circle cx="390.8" cy="121.4" r="1.15"/><circle cx="390.5" cy="123.0" r="1.15"/><circle cx="390.7" cy="125.7" r="1.15"/><circle cx="369.6" cy="137.9" r="1.15"/><circle cx="383.9" cy="133.9" r="1.15"/><circle cx="367.6" cy="141.7" r="1.15"/><circle cx="390.4" cy="129.9" r="1.15"/><circle cx="391.9" cy="124.9" r="1.15"/><circle cx="391.9" cy="122.2" r="1.15"/><circle cx="369.1" cy="140.2" r="1.15"/><circle cx="375.9" cy="138.3" r="1.15"/><circle cx="389.7" cy="125.5" r="1.15"/><circle cx="374.0" cy="138.1" r="1.15"/><circle cx="368.2" cy="142.4" r="1.15"/><circle cx="366.9" cy="145.9" r="1.15"/><circle cx="379.7" cy="135.7" r="1.15"/><circle cx="391.4" cy="121.5" r="1.15"/><circle cx="381.7" cy="132.2" r="1.15"/><circle cx="393.6" cy="127.3" r="1.15"/><circle cx="393.1" cy="131.0" r="1.15"/><circle cx="364.7" cy="144.7" r="1.15"/><circle cx="376.4" cy="134.3" r="1.15"/><circle cx="383.9" cy="133.8" r="1.15"/><circle cx="393.8" cy="125.2" r="1.15"/><circle cx="365.4" cy="144.2" r="1.15"/><circle cx="385.1" cy="126.9" r="1.15"/><circle cx="383.0" cy="132.7" r="1.15"/><circle cx="393.7" cy="125.6" r="1.15"/><circle cx="391.8" cy="126.3" r="1.15"/><circle cx="386.5" cy="129.7" r="1.15"/><circle cx="374.4" cy="139.0" r="1.15"/><circle cx="369.3" cy="140.7" r="1.15"/><circle cx="386.2" cy="127.4" r="1.15"/><circle cx="368.5" cy="138.8" r="1.15"/><circle cx="371.5" cy="139.2" r="1.15"/><circle cx="366.7" cy="145.2" r="1.15"/><circle cx="394.0" cy="124.0" r="1.15"/><circle cx="373.7" cy="134.1" r="1.15"/><circle cx="371.4" cy="141.4" r="1.15"/><circle cx="386.3" cy="129.2" r="1.15"/><circle cx="385.2" cy="130.4" r="1.15"/><circle cx="385.9" cy="126.2" r="1.15"/><circle cx="369.1" cy="139.1" r="1.15"/><circle cx="383.3" cy="126.5" r="1.15"/><circle cx="384.2" cy="127.0" r="1.15"/><circle cx="388.4" cy="128.4" r="1.15"/><circle cx="373.1" cy="139.5" r="1.15"/><circle cx="379.7" cy="129.8" r="1.15"/><circle cx="387.8" cy="122.9" r="1.15"/><circle cx="384.4" cy="126.0" r="1.15"/><circle cx="377.6" cy="137.2" r="1.15"/><circle cx="382.8" cy="128.1" r="1.15"/><circle cx="387.7" cy="131.8" r="1.15"/><circle cx="366.0" cy="146.0" r="1.15"/></g><g fill="#7b1111"><circle cx="352.7" cy="121.4" r="1.15"/><circle cx="355.0" cy="122.7" r="1.15"/><circle cx="352.9" cy="122.2" r="1.15"/><circle cx="358.2" cy="125.5" r="1.15"/><circle cx="356.2" cy="122.4" r="1.15"/><circle cx="355.3" cy="124.6" r="1.15"/><circle cx="354.4" cy="122.2" r="1.15"/><circle cx="353.8" cy="123.3" r="1.15"/><circle cx="354.4" cy="121.9" r="1.15"/><circle cx="354.9" cy="125.1" r="1.15"/><circle cx="357.9" cy="125.1" r="1.15"/><circle cx="353.9" cy="122.8" r="1.15"/></g><g fill="#86b0e0"><circle cx="331.2" cy="137.5" r="1.15"/><circle cx="331.3" cy="131.6" r="1.15"/><circle cx="332.0" cy="144.3" r="1.15"/><circle cx="342.5" cy="147.1" r="1.15"/><circle cx="340.7" cy="152.8" r="1.15"/><circle cx="339.0" cy="147.1" r="1.15"/><circle cx="337.4" cy="138.1" r="1.15"/><circle cx="334.9" cy="137.1" r="1.15"/><circle cx="341.6" cy="149.3" r="1.15"/><circle cx="343.6" cy="146.9" r="1.15"/><circle cx="337.9" cy="144.7" r="1.15"/><circle cx="335.1" cy="139.9" r="1.15"/><circle cx="330.5" cy="147.8" r="1.15"/><circle cx="340.2" cy="149.9" r="1.15"/><circle cx="327.7" cy="137.2" r="1.15"/><circle cx="328.5" cy="131.4" r="1.15"/><circle cx="330.2" cy="129.6" r="1.15"/><circle cx="333.2" cy="138.6" r="1.15"/><circle cx="340.7" cy="151.9" r="1.15"/><circle cx="329.8" cy="144.2" r="1.15"/><circle cx="342.8" cy="146.6" r="1.15"/><circle cx="329.9" cy="150.0" r="1.15"/><circle cx="335.9" cy="148.9" r="1.15"/><circle cx="334.4" cy="140.6" r="1.15"/><circle cx="332.2" cy="150.1" r="1.15"/><circle cx="331.0" cy="137.7" r="1.15"/><circle cx="323.8" cy="143.2" r="1.15"/><circle cx="332.5" cy="146.2" r="1.15"/><circle cx="332.4" cy="131.2" r="1.15"/><circle cx="334.5" cy="148.7" r="1.15"/><circle cx="327.9" cy="146.9" r="1.15"/><circle cx="332.5" cy="138.1" r="1.15"/><circle cx="338.6" cy="151.3" r="1.15"/><circle cx="327.4" cy="136.2" r="1.15"/><circle cx="330.2" cy="146.6" r="1.15"/><circle cx="327.1" cy="142.1" r="1.15"/><circle cx="334.0" cy="145.0" r="1.15"/><circle cx="339.7" cy="149.8" r="1.15"/><circle cx="331.0" cy="151.2" r="1.15"/><circle cx="334.1" cy="150.6" r="1.15"/><circle cx="334.2" cy="151.4" r="1.15"/><circle cx="336.9" cy="148.3" r="1.15"/><circle cx="332.3" cy="143.5" r="1.15"/><circle cx="328.7" cy="135.6" r="1.15"/><circle cx="332.2" cy="141.3" r="1.15"/><circle cx="333.3" cy="131.2" r="1.15"/><circle cx="338.8" cy="147.0" r="1.15"/><circle cx="328.2" cy="135.1" r="1.15"/><circle cx="334.4" cy="133.2" r="1.15"/><circle cx="336.3" cy="150.7" r="1.15"/><circle cx="327.4" cy="143.1" r="1.15"/><circle cx="338.9" cy="147.0" r="1.15"/><circle cx="338.7" cy="146.1" r="1.15"/><circle cx="329.0" cy="149.1" r="1.15"/><circle cx="340.5" cy="145.3" r="1.15"/><circle cx="326.1" cy="140.0" r="1.15"/><circle cx="330.4" cy="147.4" r="1.15"/><circle cx="328.4" cy="133.8" r="1.15"/><circle cx="326.5" cy="138.8" r="1.15"/><circle cx="336.6" cy="136.3" r="1.15"/><circle cx="326.6" cy="134.2" r="1.15"/><circle cx="329.9" cy="141.1" r="1.15"/><circle cx="327.0" cy="140.5" r="1.15"/><circle cx="333.7" cy="151.7" r="1.15"/><circle cx="333.4" cy="133.8" r="1.15"/><circle cx="338.4" cy="152.2" r="1.15"/><circle cx="331.9" cy="137.5" r="1.15"/><circle cx="332.4" cy="137.4" r="1.15"/><circle cx="338.2" cy="138.4" r="1.15"/><circle cx="341.7" cy="146.5" r="1.15"/><circle cx="330.8" cy="144.1" r="1.15"/><circle cx="332.5" cy="136.2" r="1.15"/><circle cx="335.2" cy="144.9" r="1.15"/><circle cx="339.2" cy="151.8" r="1.15"/><circle cx="326.2" cy="137.8" r="1.15"/><circle cx="341.7" cy="148.0" r="1.15"/><circle cx="336.0" cy="145.3" r="1.15"/><circle cx="330.5" cy="151.7" r="1.15"/><circle cx="335.1" cy="138.7" r="1.15"/><circle cx="327.0" cy="131.8" r="1.15"/><circle cx="342.7" cy="148.2" r="1.15"/><circle cx="333.6" cy="140.9" r="1.15"/><circle cx="331.0" cy="150.5" r="1.15"/><circle cx="330.7" cy="141.8" r="1.15"/><circle cx="333.5" cy="137.0" r="1.15"/><circle cx="331.5" cy="143.6" r="1.15"/><circle cx="331.2" cy="138.3" r="1.15"/><circle cx="331.0" cy="150.9" r="1.15"/><circle cx="334.9" cy="135.6" r="1.15"/><circle cx="330.3" cy="148.7" r="1.15"/><circle cx="326.5" cy="145.6" r="1.15"/><circle cx="326.2" cy="134.5" r="1.15"/><circle cx="339.1" cy="146.3" r="1.15"/><circle cx="335.1" cy="151.1" r="1.15"/><circle cx="332.5" cy="133.6" r="1.15"/><circle cx="339.5" cy="149.6" r="1.15"/><circle cx="331.5" cy="131.2" r="1.15"/><circle cx="342.2" cy="147.1" r="1.15"/><circle cx="336.1" cy="152.4" r="1.15"/><circle cx="338.6" cy="144.1" r="1.15"/><circle cx="327.0" cy="143.6" r="1.15"/><circle cx="337.8" cy="152.3" r="1.15"/><circle cx="332.6" cy="138.4" r="1.15"/><circle cx="328.6" cy="134.6" r="1.15"/><circle cx="327.0" cy="132.7" r="1.15"/><circle cx="330.7" cy="146.7" r="1.15"/><circle cx="324.3" cy="141.7" r="1.15"/><circle cx="332.7" cy="148.0" r="1.15"/><circle cx="335.7" cy="139.8" r="1.15"/><circle cx="330.4" cy="138.5" r="1.15"/><circle cx="343.8" cy="149.6" r="1.15"/><circle cx="326.1" cy="133.2" r="1.15"/><circle cx="331.4" cy="145.6" r="1.15"/><circle cx="332.1" cy="145.1" r="1.15"/><circle cx="335.5" cy="146.5" r="1.15"/><circle cx="332.0" cy="152.0" r="1.15"/><circle cx="336.5" cy="136.6" r="1.15"/><circle cx="331.3" cy="135.5" r="1.15"/><circle cx="342.9" cy="148.0" r="1.15"/><circle cx="340.3" cy="148.7" r="1.15"/><circle cx="330.0" cy="147.2" r="1.15"/><circle cx="328.8" cy="143.7" r="1.15"/><circle cx="333.8" cy="135.6" r="1.15"/><circle cx="343.5" cy="147.2" r="1.15"/><circle cx="326.3" cy="147.3" r="1.15"/><circle cx="335.6" cy="150.8" r="1.15"/><circle cx="335.9" cy="139.3" r="1.15"/><circle cx="329.1" cy="131.7" r="1.15"/><circle cx="339.1" cy="144.6" r="1.15"/><circle cx="325.1" cy="140.9" r="1.15"/><circle cx="331.2" cy="151.1" r="1.15"/><circle cx="332.4" cy="142.7" r="1.15"/><circle cx="340.8" cy="147.2" r="1.15"/><circle cx="333.0" cy="149.7" r="1.15"/><circle cx="331.8" cy="151.8" r="1.15"/><circle cx="333.4" cy="131.8" r="1.15"/><circle cx="337.0" cy="138.0" r="1.15"/><circle cx="328.5" cy="148.6" r="1.15"/><circle cx="323.7" cy="140.5" r="1.15"/><circle cx="333.2" cy="140.3" r="1.15"/><circle cx="338.8" cy="146.5" r="1.15"/><circle cx="330.6" cy="151.4" r="1.15"/><circle cx="327.1" cy="132.3" r="1.15"/><circle cx="327.1" cy="141.0" r="1.15"/><circle cx="330.4" cy="132.9" r="1.15"/><circle cx="344.4" cy="147.5" r="1.15"/><circle cx="336.9" cy="141.8" r="1.15"/><circle cx="340.7" cy="145.4" r="1.15"/><circle cx="333.2" cy="148.8" r="1.15"/><circle cx="326.5" cy="145.4" r="1.15"/><circle cx="335.2" cy="138.7" r="1.15"/><circle cx="326.7" cy="132.3" r="1.15"/><circle cx="333.3" cy="140.8" r="1.15"/><circle cx="328.9" cy="137.8" r="1.15"/><circle cx="335.2" cy="147.3" r="1.15"/><circle cx="326.1" cy="143.0" r="1.15"/><circle cx="335.0" cy="136.5" r="1.15"/><circle cx="325.7" cy="135.8" r="1.15"/><circle cx="336.8" cy="142.5" r="1.15"/><circle cx="331.0" cy="151.8" r="1.15"/></g><g fill="#c5dea2"><circle cx="388.8" cy="179.4" r="1.15"/><circle cx="372.9" cy="182.0" r="1.15"/><circle cx="384.1" cy="164.8" r="1.15"/><circle cx="376.1" cy="194.8" r="1.15"/><circle cx="386.2" cy="191.4" r="1.15"/><circle cx="381.9" cy="169.9" r="1.15"/><circle cx="367.7" cy="162.4" r="1.15"/><circle cx="373.1" cy="184.5" r="1.15"/><circle cx="394.1" cy="179.7" r="1.15"/><circle cx="372.8" cy="194.7" r="1.15"/><circle cx="366.8" cy="162.1" r="1.15"/><circle cx="361.2" cy="162.4" r="1.15"/><circle cx="386.1" cy="190.4" r="1.15"/><circle cx="361.3" cy="177.6" r="1.15"/><circle cx="385.3" cy="180.1" r="1.15"/><circle cx="375.9" cy="179.4" r="1.15"/><circle cx="376.5" cy="166.2" r="1.15"/><circle cx="374.5" cy="170.4" r="1.15"/><circle cx="390.9" cy="191.9" r="1.15"/><circle cx="378.3" cy="177.6" r="1.15"/><circle cx="362.5" cy="159.0" r="1.15"/><circle cx="356.8" cy="170.3" r="1.15"/><circle cx="376.6" cy="169.3" r="1.15"/><circle cx="381.7" cy="196.3" r="1.15"/><circle cx="366.2" cy="162.7" r="1.15"/><circle cx="369.7" cy="169.9" r="1.15"/><circle cx="376.9" cy="163.1" r="1.15"/><circle cx="354.6" cy="161.3" r="1.15"/><circle cx="371.4" cy="160.4" r="1.15"/><circle cx="395.1" cy="186.8" r="1.15"/><circle cx="381.6" cy="163.2" r="1.15"/><circle cx="390.8" cy="174.6" r="1.15"/><circle cx="364.9" cy="173.1" r="1.15"/><circle cx="363.5" cy="159.8" r="1.15"/><circle cx="371.4" cy="167.4" r="1.15"/><circle cx="375.2" cy="185.6" r="1.15"/><circle cx="377.0" cy="162.7" r="1.15"/><circle cx="380.3" cy="164.3" r="1.15"/><circle cx="390.8" cy="177.3" r="1.15"/><circle cx="379.5" cy="162.1" r="1.15"/><circle cx="391.8" cy="186.0" r="1.15"/><circle cx="370.7" cy="158.3" r="1.15"/><circle cx="385.8" cy="187.1" r="1.15"/><circle cx="372.2" cy="185.9" r="1.15"/><circle cx="373.3" cy="186.6" r="1.15"/><circle cx="374.1" cy="184.9" r="1.15"/><circle cx="372.5" cy="193.6" r="1.15"/><circle cx="402.2" cy="181.3" r="1.15"/><circle cx="363.4" cy="178.3" r="1.15"/><circle cx="380.0" cy="170.5" r="1.15"/><circle cx="373.7" cy="178.0" r="1.15"/><circle cx="386.1" cy="165.6" r="1.15"/><circle cx="368.1" cy="177.6" r="1.15"/><circle cx="381.2" cy="174.0" r="1.15"/><circle cx="382.8" cy="167.9" r="1.15"/><circle cx="397.3" cy="178.2" r="1.15"/><circle cx="381.6" cy="172.1" r="1.15"/><circle cx="368.8" cy="173.3" r="1.15"/><circle cx="380.0" cy="187.4" r="1.15"/><circle cx="364.3" cy="175.4" r="1.15"/><circle cx="372.8" cy="169.2" r="1.15"/><circle cx="372.8" cy="188.5" r="1.15"/><circle cx="390.0" cy="185.1" r="1.15"/><circle cx="388.8" cy="185.8" r="1.15"/><circle cx="367.8" cy="158.6" r="1.15"/><circle cx="371.5" cy="160.7" r="1.15"/><circle cx="380.3" cy="171.9" r="1.15"/><circle cx="367.7" cy="176.9" r="1.15"/><circle cx="377.5" cy="174.1" r="1.15"/><circle cx="362.6" cy="162.8" r="1.15"/><circle cx="376.8" cy="164.3" r="1.15"/><circle cx="396.8" cy="172.1" r="1.15"/><circle cx="377.5" cy="173.1" r="1.15"/><circle cx="386.5" cy="167.0" r="1.15"/><circle cx="373.6" cy="188.7" r="1.15"/><circle cx="371.3" cy="185.2" r="1.15"/><circle cx="387.4" cy="168.6" r="1.15"/><circle cx="386.0" cy="180.7" r="1.15"/><circle cx="370.7" cy="157.6" r="1.15"/><circle cx="370.9" cy="183.7" r="1.15"/><circle cx="386.9" cy="177.9" r="1.15"/><circle cx="359.1" cy="165.2" r="1.15"/><circle cx="370.1" cy="173.9" r="1.15"/><circle cx="373.1" cy="194.8" r="1.15"/><circle cx="366.1" cy="181.3" r="1.15"/><circle cx="365.2" cy="182.9" r="1.15"/><circle cx="383.8" cy="172.7" r="1.15"/><circle cx="357.4" cy="159.9" r="1.15"/><circle cx="373.4" cy="174.6" r="1.15"/><circle cx="381.5" cy="168.4" r="1.15"/><circle cx="392.7" cy="178.2" r="1.15"/><circle cx="381.6" cy="177.2" r="1.15"/><circle cx="373.6" cy="193.0" r="1.15"/><circle cx="372.8" cy="170.4" r="1.15"/><circle cx="387.7" cy="180.2" r="1.15"/><circle cx="368.5" cy="159.6" r="1.15"/><circle cx="382.9" cy="170.1" r="1.15"/><circle cx="371.0" cy="192.3" r="1.15"/><circle cx="371.6" cy="173.9" r="1.15"/><circle cx="375.3" cy="163.0" r="1.15"/><circle cx="390.4" cy="184.6" r="1.15"/><circle cx="377.9" cy="173.5" r="1.15"/><circle cx="378.5" cy="191.8" r="1.15"/><circle cx="373.7" cy="187.5" r="1.15"/><circle cx="353.7" cy="165.4" r="1.15"/><circle cx="391.2" cy="177.4" r="1.15"/><circle cx="379.4" cy="164.5" r="1.15"/><circle cx="381.6" cy="169.5" r="1.15"/><circle cx="380.0" cy="182.5" r="1.15"/><circle cx="359.8" cy="169.3" r="1.15"/><circle cx="391.4" cy="179.5" r="1.15"/><circle cx="387.8" cy="189.5" r="1.15"/><circle cx="385.1" cy="165.6" r="1.15"/><circle cx="377.7" cy="191.7" r="1.15"/><circle cx="384.9" cy="188.4" r="1.15"/><circle cx="373.1" cy="175.3" r="1.15"/><circle cx="400.0" cy="178.4" r="1.15"/><circle cx="377.5" cy="191.7" r="1.15"/><circle cx="391.9" cy="178.9" r="1.15"/><circle cx="355.8" cy="159.1" r="1.15"/><circle cx="361.3" cy="168.6" r="1.15"/><circle cx="409.4" cy="174.9" r="1.15"/><circle cx="384.0" cy="182.3" r="1.15"/><circle cx="392.6" cy="176.0" r="1.15"/><circle cx="397.6" cy="175.6" r="1.15"/><circle cx="368.3" cy="188.0" r="1.15"/><circle cx="392.3" cy="173.0" r="1.15"/><circle cx="365.0" cy="165.3" r="1.15"/><circle cx="381.6" cy="177.6" r="1.15"/><circle cx="372.7" cy="165.0" r="1.15"/><circle cx="372.2" cy="187.5" r="1.15"/><circle cx="390.2" cy="173.5" r="1.15"/><circle cx="405.3" cy="176.3" r="1.15"/><circle cx="381.4" cy="189.8" r="1.15"/><circle cx="372.5" cy="190.9" r="1.15"/><circle cx="357.5" cy="167.9" r="1.15"/><circle cx="388.9" cy="176.7" r="1.15"/><circle cx="373.9" cy="180.9" r="1.15"/><circle cx="364.6" cy="174.8" r="1.15"/><circle cx="384.0" cy="181.9" r="1.15"/><circle cx="391.3" cy="191.1" r="1.15"/><circle cx="377.3" cy="185.0" r="1.15"/><circle cx="374.5" cy="162.4" r="1.15"/><circle cx="363.0" cy="176.4" r="1.15"/><circle cx="383.2" cy="174.9" r="1.15"/><circle cx="381.2" cy="192.0" r="1.15"/><circle cx="363.6" cy="157.6" r="1.15"/><circle cx="396.5" cy="180.5" r="1.15"/><circle cx="383.2" cy="165.4" r="1.15"/><circle cx="385.2" cy="183.9" r="1.15"/><circle cx="373.6" cy="176.6" r="1.15"/><circle cx="383.9" cy="187.5" r="1.15"/><circle cx="366.4" cy="159.6" r="1.15"/><circle cx="366.7" cy="159.7" r="1.15"/><circle cx="380.4" cy="166.8" r="1.15"/><circle cx="369.4" cy="175.8" r="1.15"/><circle cx="373.5" cy="189.9" r="1.15"/><circle cx="365.0" cy="156.4" r="1.15"/><circle cx="371.1" cy="160.7" r="1.15"/><circle cx="392.4" cy="189.6" r="1.15"/><circle cx="375.9" cy="196.0" r="1.15"/><circle cx="374.8" cy="169.4" r="1.15"/><circle cx="381.7" cy="174.9" r="1.15"/><circle cx="377.4" cy="189.0" r="1.15"/><circle cx="400.2" cy="176.5" r="1.15"/><circle cx="362.3" cy="173.5" r="1.15"/><circle cx="403.7" cy="173.5" r="1.15"/><circle cx="390.3" cy="180.1" r="1.15"/><circle cx="378.8" cy="180.7" r="1.15"/><circle cx="366.2" cy="180.0" r="1.15"/><circle cx="373.4" cy="193.9" r="1.15"/><circle cx="388.4" cy="183.2" r="1.15"/><circle cx="400.9" cy="176.2" r="1.15"/><circle cx="359.6" cy="168.9" r="1.15"/><circle cx="393.3" cy="187.3" r="1.15"/><circle cx="390.1" cy="184.3" r="1.15"/><circle cx="370.8" cy="181.7" r="1.15"/><circle cx="371.5" cy="161.5" r="1.15"/><circle cx="390.9" cy="168.3" r="1.15"/><circle cx="383.7" cy="190.7" r="1.15"/><circle cx="373.4" cy="163.7" r="1.15"/><circle cx="374.9" cy="177.6" r="1.15"/><circle cx="376.1" cy="161.3" r="1.15"/><circle cx="382.3" cy="168.9" r="1.15"/><circle cx="377.2" cy="165.8" r="1.15"/><circle cx="389.5" cy="191.8" r="1.15"/><circle cx="374.8" cy="188.5" r="1.15"/><circle cx="368.2" cy="160.7" r="1.15"/><circle cx="377.5" cy="188.8" r="1.15"/><circle cx="368.0" cy="162.6" r="1.15"/><circle cx="382.1" cy="174.3" r="1.15"/><circle cx="365.8" cy="180.1" r="1.15"/><circle cx="377.8" cy="195.4" r="1.15"/><circle cx="369.6" cy="181.2" r="1.15"/><circle cx="369.5" cy="186.8" r="1.15"/><circle cx="352.9" cy="162.5" r="1.15"/><circle cx="364.9" cy="159.5" r="1.15"/><circle cx="357.3" cy="164.4" r="1.15"/><circle cx="399.6" cy="173.9" r="1.15"/><circle cx="366.6" cy="166.4" r="1.15"/><circle cx="406.8" cy="173.6" r="1.15"/><circle cx="386.7" cy="193.1" r="1.15"/><circle cx="357.8" cy="158.8" r="1.15"/><circle cx="392.2" cy="181.3" r="1.15"/><circle cx="380.8" cy="164.0" r="1.15"/><circle cx="377.4" cy="168.1" r="1.15"/><circle cx="386.0" cy="168.9" r="1.15"/><circle cx="367.9" cy="183.6" r="1.15"/><circle cx="380.8" cy="165.8" r="1.15"/><circle cx="381.2" cy="186.9" r="1.15"/><circle cx="373.7" cy="173.7" r="1.15"/><circle cx="399.0" cy="180.0" r="1.15"/><circle cx="362.2" cy="167.1" r="1.15"/><circle cx="378.8" cy="186.7" r="1.15"/><circle cx="389.7" cy="185.6" r="1.15"/><circle cx="354.5" cy="164.2" r="1.15"/><circle cx="376.6" cy="172.1" r="1.15"/><circle cx="392.4" cy="187.8" r="1.15"/><circle cx="389.7" cy="173.3" r="1.15"/><circle cx="385.0" cy="178.2" r="1.15"/><circle cx="395.1" cy="186.7" r="1.15"/><circle cx="397.7" cy="176.4" r="1.15"/><circle cx="370.1" cy="171.8" r="1.15"/><circle cx="361.9" cy="162.7" r="1.15"/><circle cx="384.9" cy="165.1" r="1.15"/><circle cx="371.5" cy="160.4" r="1.15"/><circle cx="371.1" cy="192.5" r="1.15"/><circle cx="369.6" cy="167.5" r="1.15"/><circle cx="377.3" cy="172.3" r="1.15"/><circle cx="366.7" cy="157.0" r="1.15"/><circle cx="385.8" cy="177.7" r="1.15"/><circle cx="366.3" cy="168.3" r="1.15"/><circle cx="383.9" cy="191.0" r="1.15"/><circle cx="367.4" cy="173.2" r="1.15"/><circle cx="385.2" cy="189.5" r="1.15"/><circle cx="388.4" cy="181.8" r="1.15"/><circle cx="384.9" cy="170.0" r="1.15"/><circle cx="405.8" cy="172.0" r="1.15"/><circle cx="357.9" cy="170.3" r="1.15"/><circle cx="389.4" cy="184.5" r="1.15"/><circle cx="377.8" cy="175.9" r="1.15"/><circle cx="359.4" cy="161.8" r="1.15"/><circle cx="380.6" cy="170.4" r="1.15"/><circle cx="377.8" cy="190.1" r="1.15"/><circle cx="375.9" cy="197.0" r="1.15"/><circle cx="376.0" cy="192.5" r="1.15"/><circle cx="397.2" cy="181.2" r="1.15"/><circle cx="365.8" cy="169.1" r="1.15"/><circle cx="380.5" cy="173.0" r="1.15"/><circle cx="389.4" cy="177.7" r="1.15"/><circle cx="370.7" cy="182.1" r="1.15"/><circle cx="357.4" cy="158.4" r="1.15"/><circle cx="376.5" cy="192.0" r="1.15"/><circle cx="400.5" cy="181.2" r="1.15"/><circle cx="374.2" cy="167.3" r="1.15"/><circle cx="383.5" cy="172.1" r="1.15"/><circle cx="380.5" cy="173.4" r="1.15"/><circle cx="398.4" cy="181.7" r="1.15"/><circle cx="366.4" cy="180.8" r="1.15"/><circle cx="374.0" cy="168.7" r="1.15"/><circle cx="396.2" cy="182.5" r="1.15"/><circle cx="371.2" cy="179.4" r="1.15"/><circle cx="405.0" cy="180.3" r="1.15"/><circle cx="378.7" cy="179.7" r="1.15"/><circle cx="388.2" cy="176.6" r="1.15"/><circle cx="388.8" cy="178.9" r="1.15"/><circle cx="389.6" cy="190.4" r="1.15"/><circle cx="365.8" cy="172.4" r="1.15"/><circle cx="382.7" cy="182.0" r="1.15"/><circle cx="370.9" cy="181.2" r="1.15"/><circle cx="381.9" cy="172.6" r="1.15"/><circle cx="372.1" cy="190.5" r="1.15"/><circle cx="380.6" cy="196.3" r="1.15"/><circle cx="375.0" cy="179.6" r="1.15"/><circle cx="371.1" cy="162.7" r="1.15"/><circle cx="359.8" cy="169.1" r="1.15"/><circle cx="392.6" cy="181.0" r="1.15"/><circle cx="388.8" cy="191.8" r="1.15"/><circle cx="370.2" cy="185.4" r="1.15"/><circle cx="384.9" cy="167.9" r="1.15"/><circle cx="366.6" cy="179.3" r="1.15"/><circle cx="392.4" cy="184.9" r="1.15"/><circle cx="357.7" cy="168.1" r="1.15"/><circle cx="396.8" cy="176.1" r="1.15"/><circle cx="358.2" cy="171.0" r="1.15"/><circle cx="356.8" cy="166.6" r="1.15"/><circle cx="375.7" cy="175.3" r="1.15"/><circle cx="393.4" cy="189.7" r="1.15"/><circle cx="382.8" cy="186.1" r="1.15"/><circle cx="359.4" cy="172.6" r="1.15"/><circle cx="369.0" cy="168.1" r="1.15"/><circle cx="370.9" cy="168.1" r="1.15"/><circle cx="379.9" cy="172.3" r="1.15"/><circle cx="378.1" cy="180.4" r="1.15"/><circle cx="367.0" cy="160.4" r="1.15"/><circle cx="381.1" cy="189.0" r="1.15"/><circle cx="361.1" cy="174.6" r="1.15"/><circle cx="374.2" cy="192.1" r="1.15"/><circle cx="403.7" cy="172.2" r="1.15"/><circle cx="390.3" cy="169.2" r="1.15"/><circle cx="381.9" cy="168.4" r="1.15"/><circle cx="377.9" cy="176.1" r="1.15"/><circle cx="405.7" cy="176.6" r="1.15"/><circle cx="402.6" cy="173.8" r="1.15"/><circle cx="373.7" cy="191.6" r="1.15"/><circle cx="379.2" cy="173.7" r="1.15"/><circle cx="373.8" cy="173.8" r="1.15"/><circle cx="385.4" cy="194.3" r="1.15"/><circle cx="373.2" cy="160.6" r="1.15"/><circle cx="385.8" cy="175.2" r="1.15"/><circle cx="372.4" cy="174.0" r="1.15"/><circle cx="386.3" cy="179.3" r="1.15"/><circle cx="376.7" cy="166.8" r="1.15"/><circle cx="370.3" cy="177.2" r="1.15"/><circle cx="384.7" cy="164.9" r="1.15"/><circle cx="355.1" cy="162.8" r="1.15"/><circle cx="372.1" cy="189.6" r="1.15"/><circle cx="397.3" cy="175.0" r="1.15"/><circle cx="383.2" cy="178.9" r="1.15"/><circle cx="390.7" cy="185.6" r="1.15"/><circle cx="374.1" cy="195.5" r="1.15"/><circle cx="388.3" cy="168.0" r="1.15"/><circle cx="377.8" cy="166.0" r="1.15"/><circle cx="362.8" cy="163.8" r="1.15"/><circle cx="399.3" cy="175.5" r="1.15"/><circle cx="393.5" cy="170.9" r="1.15"/><circle cx="398.8" cy="181.6" r="1.15"/><circle cx="389.9" cy="172.9" r="1.15"/><circle cx="382.9" cy="183.5" r="1.15"/><circle cx="357.8" cy="170.4" r="1.15"/><circle cx="393.7" cy="169.0" r="1.15"/><circle cx="369.3" cy="187.1" r="1.15"/><circle cx="372.3" cy="188.7" r="1.15"/><circle cx="385.2" cy="191.1" r="1.15"/><circle cx="383.6" cy="172.7" r="1.15"/><circle cx="383.9" cy="188.5" r="1.15"/><circle cx="367.0" cy="184.6" r="1.15"/><circle cx="396.3" cy="183.4" r="1.15"/><circle cx="377.7" cy="187.5" r="1.15"/><circle cx="383.0" cy="181.7" r="1.15"/><circle cx="370.0" cy="170.7" r="1.15"/><circle cx="357.6" cy="171.0" r="1.15"/><circle cx="394.3" cy="180.8" r="1.15"/><circle cx="360.6" cy="160.1" r="1.15"/><circle cx="366.6" cy="178.1" r="1.15"/><circle cx="395.5" cy="185.9" r="1.15"/><circle cx="384.5" cy="167.0" r="1.15"/><circle cx="370.6" cy="164.5" r="1.15"/><circle cx="377.0" cy="194.6" r="1.15"/><circle cx="364.3" cy="161.0" r="1.15"/><circle cx="373.3" cy="161.1" r="1.15"/><circle cx="362.4" cy="166.8" r="1.15"/><circle cx="385.5" cy="175.2" r="1.15"/><circle cx="369.7" cy="178.6" r="1.15"/><circle cx="371.9" cy="195.5" r="1.15"/><circle cx="397.9" cy="180.2" r="1.15"/><circle cx="379.6" cy="170.2" r="1.15"/><circle cx="365.8" cy="179.0" r="1.15"/><circle cx="400.4" cy="171.1" r="1.15"/><circle cx="380.9" cy="184.6" r="1.15"/><circle cx="354.4" cy="167.8" r="1.15"/><circle cx="358.8" cy="162.4" r="1.15"/><circle cx="382.6" cy="163.5" r="1.15"/><circle cx="388.1" cy="193.0" r="1.15"/><circle cx="359.3" cy="165.4" r="1.15"/><circle cx="396.4" cy="176.2" r="1.15"/><circle cx="383.7" cy="196.5" r="1.15"/><circle cx="370.4" cy="185.4" r="1.15"/><circle cx="375.8" cy="188.3" r="1.15"/><circle cx="374.3" cy="190.5" r="1.15"/><circle cx="379.4" cy="190.9" r="1.15"/><circle cx="369.5" cy="179.4" r="1.15"/><circle cx="391.3" cy="174.3" r="1.15"/><circle cx="392.8" cy="187.3" r="1.15"/><circle cx="405.6" cy="174.9" r="1.15"/><circle cx="386.5" cy="191.0" r="1.15"/><circle cx="368.0" cy="157.3" r="1.15"/><circle cx="354.4" cy="161.9" r="1.15"/><circle cx="364.2" cy="162.3" r="1.15"/><circle cx="376.0" cy="196.7" r="1.15"/><circle cx="380.6" cy="177.1" r="1.15"/><circle cx="402.8" cy="174.1" r="1.15"/><circle cx="367.4" cy="166.3" r="1.15"/><circle cx="378.7" cy="183.8" r="1.15"/><circle cx="385.1" cy="194.3" r="1.15"/><circle cx="381.7" cy="178.0" r="1.15"/><circle cx="370.2" cy="161.3" r="1.15"/><circle cx="405.4" cy="176.8" r="1.15"/><circle cx="394.3" cy="188.6" r="1.15"/><circle cx="369.5" cy="187.4" r="1.15"/><circle cx="364.0" cy="179.9" r="1.15"/><circle cx="386.5" cy="189.3" r="1.15"/><circle cx="361.7" cy="170.8" r="1.15"/><circle cx="364.2" cy="160.6" r="1.15"/><circle cx="394.0" cy="188.1" r="1.15"/><circle cx="389.6" cy="189.5" r="1.15"/><circle cx="381.9" cy="180.2" r="1.15"/><circle cx="390.0" cy="181.3" r="1.15"/><circle cx="380.6" cy="188.5" r="1.15"/><circle cx="376.7" cy="174.1" r="1.15"/><circle cx="377.1" cy="180.1" r="1.15"/><circle cx="373.0" cy="172.8" r="1.15"/><circle cx="376.8" cy="172.0" r="1.15"/><circle cx="374.9" cy="175.3" r="1.15"/><circle cx="386.3" cy="171.8" r="1.15"/><circle cx="365.9" cy="156.7" r="1.15"/><circle cx="368.6" cy="176.0" r="1.15"/><circle cx="370.8" cy="158.5" r="1.15"/><circle cx="366.0" cy="167.0" r="1.15"/><circle cx="392.5" cy="190.3" r="1.15"/><circle cx="379.2" cy="172.7" r="1.15"/><circle cx="378.6" cy="162.2" r="1.15"/><circle cx="390.6" cy="176.4" r="1.15"/><circle cx="386.1" cy="174.1" r="1.15"/><circle cx="365.3" cy="170.7" r="1.15"/><circle cx="385.2" cy="170.0" r="1.15"/><circle cx="377.5" cy="191.0" r="1.15"/><circle cx="375.8" cy="182.8" r="1.15"/><circle cx="389.0" cy="170.7" r="1.15"/><circle cx="354.0" cy="161.3" r="1.15"/><circle cx="369.8" cy="182.6" r="1.15"/><circle cx="404.2" cy="178.2" r="1.15"/><circle cx="366.8" cy="181.2" r="1.15"/><circle cx="361.0" cy="167.3" r="1.15"/><circle cx="377.4" cy="195.1" r="1.15"/><circle cx="361.6" cy="164.3" r="1.15"/><circle cx="359.6" cy="165.2" r="1.15"/><circle cx="371.3" cy="173.0" r="1.15"/><circle cx="396.1" cy="173.4" r="1.15"/><circle cx="379.6" cy="173.0" r="1.15"/><circle cx="376.7" cy="195.6" r="1.15"/><circle cx="382.5" cy="185.3" r="1.15"/><circle cx="374.1" cy="167.7" r="1.15"/><circle cx="372.9" cy="186.0" r="1.15"/><circle cx="378.7" cy="178.6" r="1.15"/><circle cx="364.0" cy="163.6" r="1.15"/><circle cx="371.5" cy="185.3" r="1.15"/><circle cx="393.2" cy="174.6" r="1.15"/><circle cx="356.0" cy="167.2" r="1.15"/><circle cx="383.9" cy="170.1" r="1.15"/><circle cx="366.4" cy="168.5" r="1.15"/><circle cx="368.2" cy="170.9" r="1.15"/><circle cx="354.6" cy="163.1" r="1.15"/><circle cx="367.0" cy="178.7" r="1.15"/><circle cx="399.7" cy="181.2" r="1.15"/><circle cx="376.9" cy="166.4" r="1.15"/><circle cx="371.8" cy="158.0" r="1.15"/><circle cx="389.9" cy="171.3" r="1.15"/><circle cx="357.8" cy="164.6" r="1.15"/><circle cx="389.3" cy="185.3" r="1.15"/><circle cx="368.4" cy="167.7" r="1.15"/><circle cx="372.3" cy="164.0" r="1.15"/><circle cx="377.3" cy="196.0" r="1.15"/><circle cx="366.4" cy="163.1" r="1.15"/><circle cx="388.5" cy="184.3" r="1.15"/><circle cx="381.6" cy="163.7" r="1.15"/><circle cx="362.1" cy="166.4" r="1.15"/><circle cx="381.8" cy="176.5" r="1.15"/><circle cx="384.1" cy="187.3" r="1.15"/><circle cx="403.9" cy="176.1" r="1.15"/><circle cx="391.8" cy="190.1" r="1.15"/><circle cx="375.7" cy="162.7" r="1.15"/><circle cx="390.2" cy="169.7" r="1.15"/><circle cx="359.8" cy="163.1" r="1.15"/><circle cx="375.3" cy="161.5" r="1.15"/><circle cx="374.3" cy="179.7" r="1.15"/><circle cx="384.0" cy="173.4" r="1.15"/><circle cx="396.4" cy="179.0" r="1.15"/><circle cx="397.7" cy="180.6" r="1.15"/><circle cx="358.8" cy="167.0" r="1.15"/><circle cx="370.7" cy="173.5" r="1.15"/><circle cx="392.9" cy="190.2" r="1.15"/><circle cx="370.4" cy="162.3" r="1.15"/><circle cx="396.2" cy="185.8" r="1.15"/><circle cx="373.6" cy="170.8" r="1.15"/><circle cx="378.7" cy="190.9" r="1.15"/><circle cx="371.7" cy="169.8" r="1.15"/><circle cx="381.8" cy="188.1" r="1.15"/><circle cx="403.2" cy="171.2" r="1.15"/><circle cx="392.2" cy="173.4" r="1.15"/><circle cx="384.2" cy="171.6" r="1.15"/><circle cx="356.9" cy="164.4" r="1.15"/><circle cx="399.0" cy="178.7" r="1.15"/><circle cx="384.1" cy="179.2" r="1.15"/><circle cx="375.8" cy="180.0" r="1.15"/><circle cx="358.0" cy="162.0" r="1.15"/><circle cx="391.0" cy="183.6" r="1.15"/><circle cx="382.8" cy="189.1" r="1.15"/><circle cx="375.1" cy="176.6" r="1.15"/><circle cx="369.6" cy="187.5" r="1.15"/><circle cx="380.2" cy="190.3" r="1.15"/><circle cx="373.1" cy="193.9" r="1.15"/><circle cx="391.7" cy="175.4" r="1.15"/><circle cx="384.6" cy="190.6" r="1.15"/><circle cx="382.7" cy="197.3" r="1.15"/><circle cx="393.4" cy="177.0" r="1.15"/><circle cx="371.6" cy="186.7" r="1.15"/><circle cx="399.8" cy="172.0" r="1.15"/><circle cx="354.6" cy="161.3" r="1.15"/><circle cx="370.7" cy="167.2" r="1.15"/><circle cx="384.4" cy="175.1" r="1.15"/><circle cx="369.9" cy="181.9" r="1.15"/><circle cx="359.2" cy="170.9" r="1.15"/><circle cx="359.3" cy="174.2" r="1.15"/><circle cx="364.9" cy="157.0" r="1.15"/><circle cx="367.9" cy="158.4" r="1.15"/><circle cx="382.6" cy="168.9" r="1.15"/><circle cx="391.1" cy="180.1" r="1.15"/><circle cx="386.6" cy="168.9" r="1.15"/><circle cx="394.6" cy="185.6" r="1.15"/><circle cx="393.4" cy="176.3" r="1.15"/><circle cx="378.9" cy="168.3" r="1.15"/><circle cx="380.3" cy="163.6" r="1.15"/><circle cx="367.7" cy="187.7" r="1.15"/><circle cx="372.3" cy="181.7" r="1.15"/><circle cx="371.6" cy="195.1" r="1.15"/><circle cx="371.1" cy="169.1" r="1.15"/><circle cx="386.2" cy="191.5" r="1.15"/><circle cx="383.0" cy="197.1" r="1.15"/><circle cx="366.7" cy="157.1" r="1.15"/></g><g fill="#f2e233"><circle cx="357.1" cy="173.4" r="1.15"/><circle cx="373.7" cy="194.1" r="1.15"/><circle cx="344.0" cy="191.8" r="1.15"/><circle cx="348.8" cy="182.3" r="1.15"/><circle cx="343.2" cy="187.3" r="1.15"/><circle cx="339.2" cy="162.1" r="1.15"/><circle cx="352.7" cy="190.8" r="1.15"/><circle cx="374.7" cy="196.1" r="1.15"/><circle cx="355.9" cy="170.0" r="1.15"/><circle cx="364.4" cy="185.8" r="1.15"/><circle cx="357.0" cy="193.0" r="1.15"/><circle cx="341.0" cy="175.5" r="1.15"/><circle cx="358.4" cy="176.2" r="1.15"/><circle cx="344.0" cy="191.3" r="1.15"/><circle cx="370.0" cy="194.3" r="1.15"/><circle cx="365.4" cy="183.0" r="1.15"/><circle cx="351.6" cy="168.5" r="1.15"/><circle cx="342.0" cy="162.0" r="1.15"/><circle cx="342.6" cy="176.6" r="1.15"/><circle cx="346.6" cy="178.0" r="1.15"/><circle cx="340.0" cy="175.1" r="1.15"/><circle cx="352.5" cy="195.7" r="1.15"/><circle cx="361.8" cy="173.8" r="1.15"/><circle cx="338.5" cy="183.5" r="1.15"/><circle cx="365.6" cy="177.9" r="1.15"/><circle cx="353.3" cy="186.4" r="1.15"/><circle cx="359.2" cy="175.9" r="1.15"/><circle cx="341.0" cy="177.5" r="1.15"/><circle cx="347.1" cy="167.9" r="1.15"/><circle cx="360.1" cy="188.5" r="1.15"/><circle cx="343.7" cy="186.6" r="1.15"/><circle cx="361.0" cy="193.7" r="1.15"/><circle cx="341.7" cy="172.8" r="1.15"/><circle cx="346.2" cy="178.1" r="1.15"/><circle cx="365.0" cy="184.2" r="1.15"/><circle cx="373.0" cy="185.8" r="1.15"/><circle cx="359.7" cy="180.7" r="1.15"/><circle cx="344.3" cy="190.2" r="1.15"/><circle cx="345.9" cy="183.4" r="1.15"/><circle cx="355.5" cy="175.8" r="1.15"/><circle cx="372.5" cy="195.7" r="1.15"/><circle cx="364.6" cy="187.0" r="1.15"/><circle cx="368.7" cy="185.9" r="1.15"/><circle cx="347.6" cy="173.0" r="1.15"/><circle cx="371.8" cy="191.6" r="1.15"/><circle cx="367.8" cy="190.6" r="1.15"/><circle cx="369.2" cy="192.2" r="1.15"/><circle cx="355.2" cy="168.4" r="1.15"/><circle cx="366.2" cy="191.1" r="1.15"/><circle cx="366.3" cy="196.1" r="1.15"/><circle cx="347.0" cy="172.7" r="1.15"/><circle cx="351.7" cy="164.1" r="1.15"/><circle cx="363.2" cy="179.8" r="1.15"/><circle cx="350.8" cy="188.8" r="1.15"/><circle cx="363.2" cy="194.5" r="1.15"/><circle cx="346.3" cy="192.9" r="1.15"/><circle cx="364.7" cy="181.9" r="1.15"/><circle cx="350.5" cy="181.7" r="1.15"/><circle cx="336.3" cy="162.9" r="1.15"/><circle cx="346.4" cy="163.9" r="1.15"/><circle cx="364.4" cy="183.6" r="1.15"/><circle cx="341.9" cy="187.9" r="1.15"/><circle cx="368.5" cy="183.8" r="1.15"/><circle cx="342.8" cy="181.6" r="1.15"/><circle cx="350.0" cy="169.8" r="1.15"/><circle cx="340.4" cy="169.6" r="1.15"/><circle cx="346.0" cy="180.6" r="1.15"/><circle cx="357.8" cy="184.5" r="1.15"/><circle cx="358.2" cy="190.4" r="1.15"/><circle cx="338.4" cy="163.5" r="1.15"/><circle cx="342.6" cy="185.3" r="1.15"/><circle cx="344.1" cy="174.3" r="1.15"/><circle cx="344.2" cy="168.8" r="1.15"/><circle cx="346.9" cy="175.6" r="1.15"/><circle cx="348.5" cy="172.0" r="1.15"/><circle cx="364.7" cy="178.7" r="1.15"/><circle cx="354.5" cy="181.5" r="1.15"/><circle cx="338.0" cy="171.8" r="1.15"/><circle cx="359.6" cy="185.9" r="1.15"/><circle cx="360.0" cy="183.8" r="1.15"/><circle cx="370.2" cy="195.2" r="1.15"/><circle cx="340.4" cy="172.9" r="1.15"/><circle cx="368.2" cy="192.3" r="1.15"/><circle cx="344.2" cy="182.0" r="1.15"/><circle cx="349.4" cy="163.0" r="1.15"/><circle cx="338.8" cy="170.1" r="1.15"/><circle cx="360.5" cy="184.5" r="1.15"/><circle cx="355.6" cy="193.1" r="1.15"/><circle cx="343.4" cy="164.9" r="1.15"/><circle cx="336.3" cy="173.0" r="1.15"/><circle cx="371.1" cy="185.2" r="1.15"/><circle cx="336.8" cy="167.8" r="1.15"/><circle cx="358.4" cy="180.2" r="1.15"/><circle cx="357.3" cy="183.0" r="1.15"/><circle cx="343.3" cy="182.6" r="1.15"/><circle cx="355.8" cy="172.6" r="1.15"/><circle cx="351.2" cy="180.6" r="1.15"/><circle cx="369.1" cy="198.5" r="1.15"/><circle cx="366.1" cy="180.5" r="1.15"/><circle cx="363.8" cy="184.5" r="1.15"/><circle cx="357.4" cy="176.6" r="1.15"/><circle cx="342.9" cy="190.3" r="1.15"/><circle cx="342.5" cy="187.4" r="1.15"/><circle cx="354.0" cy="176.1" r="1.15"/><circle cx="363.4" cy="188.0" r="1.15"/><circle cx="361.8" cy="178.8" r="1.15"/><circle cx="353.2" cy="180.3" r="1.15"/><circle cx="346.3" cy="163.2" r="1.15"/><circle cx="340.4" cy="176.8" r="1.15"/><circle cx="348.0" cy="179.0" r="1.15"/><circle cx="355.8" cy="174.5" r="1.15"/><circle cx="345.1" cy="173.1" r="1.15"/><circle cx="346.7" cy="188.7" r="1.15"/><circle cx="354.2" cy="190.8" r="1.15"/><circle cx="341.9" cy="173.8" r="1.15"/><circle cx="350.2" cy="174.4" r="1.15"/><circle cx="360.6" cy="182.8" r="1.15"/><circle cx="356.0" cy="182.3" r="1.15"/><circle cx="349.1" cy="184.7" r="1.15"/><circle cx="348.9" cy="170.0" r="1.15"/><circle cx="344.7" cy="178.5" r="1.15"/><circle cx="342.0" cy="190.8" r="1.15"/><circle cx="336.2" cy="175.6" r="1.15"/><circle cx="366.7" cy="187.5" r="1.15"/><circle cx="344.1" cy="165.0" r="1.15"/><circle cx="357.7" cy="193.5" r="1.15"/><circle cx="339.5" cy="178.2" r="1.15"/><circle cx="364.1" cy="179.4" r="1.15"/><circle cx="340.1" cy="168.6" r="1.15"/><circle cx="338.9" cy="179.5" r="1.15"/><circle cx="358.1" cy="177.4" r="1.15"/><circle cx="363.9" cy="180.5" r="1.15"/><circle cx="346.3" cy="192.3" r="1.15"/><circle cx="373.4" cy="195.9" r="1.15"/><circle cx="349.7" cy="177.0" r="1.15"/><circle cx="344.0" cy="188.8" r="1.15"/><circle cx="337.5" cy="177.3" r="1.15"/><circle cx="355.3" cy="190.4" r="1.15"/><circle cx="341.0" cy="170.2" r="1.15"/><circle cx="335.1" cy="162.5" r="1.15"/><circle cx="336.3" cy="174.5" r="1.15"/><circle cx="355.2" cy="180.6" r="1.15"/><circle cx="337.2" cy="182.2" r="1.15"/><circle cx="352.2" cy="172.1" r="1.15"/><circle cx="368.7" cy="186.7" r="1.15"/><circle cx="338.2" cy="163.2" r="1.15"/><circle cx="335.3" cy="169.5" r="1.15"/><circle cx="374.7" cy="193.6" r="1.15"/><circle cx="365.8" cy="177.9" r="1.15"/><circle cx="338.1" cy="167.6" r="1.15"/><circle cx="338.6" cy="183.4" r="1.15"/><circle cx="359.1" cy="183.6" r="1.15"/><circle cx="366.2" cy="179.7" r="1.15"/><circle cx="337.9" cy="167.9" r="1.15"/><circle cx="337.6" cy="169.0" r="1.15"/><circle cx="367.2" cy="180.9" r="1.15"/><circle cx="357.3" cy="193.2" r="1.15"/><circle cx="348.8" cy="176.4" r="1.15"/><circle cx="358.0" cy="171.9" r="1.15"/><circle cx="353.4" cy="187.5" r="1.15"/><circle cx="346.5" cy="183.0" r="1.15"/><circle cx="344.0" cy="179.4" r="1.15"/><circle cx="355.9" cy="167.9" r="1.15"/><circle cx="365.9" cy="179.0" r="1.15"/><circle cx="348.3" cy="169.1" r="1.15"/><circle cx="369.0" cy="195.1" r="1.15"/><circle cx="352.0" cy="186.3" r="1.15"/><circle cx="339.9" cy="173.6" r="1.15"/><circle cx="366.8" cy="186.2" r="1.15"/><circle cx="342.3" cy="169.3" r="1.15"/><circle cx="353.2" cy="179.7" r="1.15"/><circle cx="345.1" cy="177.6" r="1.15"/><circle cx="341.5" cy="183.9" r="1.15"/><circle cx="354.9" cy="178.0" r="1.15"/><circle cx="372.9" cy="189.5" r="1.15"/><circle cx="363.1" cy="182.9" r="1.15"/><circle cx="361.1" cy="179.0" r="1.15"/><circle cx="368.9" cy="183.1" r="1.15"/><circle cx="334.9" cy="164.0" r="1.15"/><circle cx="340.1" cy="187.3" r="1.15"/><circle cx="372.8" cy="193.6" r="1.15"/><circle cx="360.7" cy="191.3" r="1.15"/><circle cx="336.8" cy="177.5" r="1.15"/><circle cx="347.3" cy="165.0" r="1.15"/><circle cx="361.2" cy="184.9" r="1.15"/><circle cx="371.9" cy="189.7" r="1.15"/><circle cx="347.0" cy="185.5" r="1.15"/><circle cx="363.5" cy="177.4" r="1.15"/><circle cx="344.8" cy="175.8" r="1.15"/><circle cx="339.8" cy="178.4" r="1.15"/><circle cx="344.5" cy="189.9" r="1.15"/><circle cx="346.1" cy="162.4" r="1.15"/><circle cx="353.9" cy="193.8" r="1.15"/><circle cx="363.2" cy="183.8" r="1.15"/><circle cx="353.7" cy="185.6" r="1.15"/><circle cx="346.3" cy="193.1" r="1.15"/><circle cx="357.4" cy="179.4" r="1.15"/><circle cx="363.5" cy="178.7" r="1.15"/><circle cx="349.5" cy="181.1" r="1.15"/><circle cx="334.0" cy="173.1" r="1.15"/><circle cx="372.0" cy="185.2" r="1.15"/><circle cx="345.2" cy="191.2" r="1.15"/><circle cx="361.0" cy="183.2" r="1.15"/><circle cx="368.9" cy="180.7" r="1.15"/><circle cx="365.6" cy="192.6" r="1.15"/><circle cx="343.9" cy="175.4" r="1.15"/><circle cx="348.5" cy="162.1" r="1.15"/><circle cx="370.7" cy="186.4" r="1.15"/><circle cx="354.1" cy="180.8" r="1.15"/><circle cx="348.4" cy="186.5" r="1.15"/><circle cx="356.0" cy="178.9" r="1.15"/><circle cx="344.1" cy="167.9" r="1.15"/><circle cx="373.3" cy="195.1" r="1.15"/><circle cx="348.4" cy="162.0" r="1.15"/><circle cx="349.7" cy="176.0" r="1.15"/><circle cx="359.2" cy="180.1" r="1.15"/><circle cx="370.3" cy="194.8" r="1.15"/><circle cx="366.5" cy="184.9" r="1.15"/><circle cx="348.6" cy="177.9" r="1.15"/><circle cx="357.1" cy="188.6" r="1.15"/><circle cx="374.7" cy="192.0" r="1.15"/><circle cx="367.0" cy="196.9" r="1.15"/><circle cx="363.8" cy="180.9" r="1.15"/><circle cx="368.4" cy="191.3" r="1.15"/><circle cx="360.0" cy="185.8" r="1.15"/><circle cx="340.7" cy="172.5" r="1.15"/><circle cx="347.0" cy="193.4" r="1.15"/><circle cx="335.7" cy="172.1" r="1.15"/><circle cx="348.4" cy="174.5" r="1.15"/><circle cx="360.1" cy="176.6" r="1.15"/><circle cx="344.9" cy="180.0" r="1.15"/><circle cx="339.3" cy="179.3" r="1.15"/><circle cx="339.3" cy="169.4" r="1.15"/><circle cx="351.1" cy="189.2" r="1.15"/><circle cx="351.7" cy="175.7" r="1.15"/><circle cx="350.3" cy="179.8" r="1.15"/><circle cx="341.2" cy="164.3" r="1.15"/><circle cx="356.6" cy="173.1" r="1.15"/><circle cx="362.1" cy="173.6" r="1.15"/><circle cx="351.6" cy="171.7" r="1.15"/><circle cx="355.9" cy="170.2" r="1.15"/><circle cx="361.8" cy="175.5" r="1.15"/><circle cx="352.6" cy="181.3" r="1.15"/><circle cx="363.9" cy="185.1" r="1.15"/><circle cx="337.8" cy="164.9" r="1.15"/><circle cx="340.9" cy="166.3" r="1.15"/><circle cx="343.6" cy="166.3" r="1.15"/><circle cx="339.2" cy="186.3" r="1.15"/><circle cx="367.8" cy="186.0" r="1.15"/><circle cx="351.4" cy="183.3" r="1.15"/><circle cx="361.2" cy="176.6" r="1.15"/><circle cx="336.9" cy="173.6" r="1.15"/><circle cx="366.3" cy="193.6" r="1.15"/><circle cx="349.0" cy="173.9" r="1.15"/><circle cx="355.1" cy="169.1" r="1.15"/><circle cx="342.0" cy="164.1" r="1.15"/><circle cx="362.5" cy="179.4" r="1.15"/><circle cx="370.6" cy="196.8" r="1.15"/><circle cx="370.6" cy="183.6" r="1.15"/><circle cx="359.6" cy="176.5" r="1.15"/><circle cx="351.3" cy="164.8" r="1.15"/><circle cx="356.6" cy="170.0" r="1.15"/><circle cx="345.6" cy="182.1" r="1.15"/><circle cx="344.9" cy="192.2" r="1.15"/><circle cx="342.0" cy="184.9" r="1.15"/><circle cx="356.9" cy="172.0" r="1.15"/><circle cx="336.4" cy="178.5" r="1.15"/><circle cx="355.5" cy="191.7" r="1.15"/><circle cx="341.7" cy="166.4" r="1.15"/><circle cx="346.1" cy="191.1" r="1.15"/><circle cx="343.0" cy="184.4" r="1.15"/><circle cx="363.5" cy="178.9" r="1.15"/><circle cx="337.8" cy="177.9" r="1.15"/><circle cx="357.0" cy="175.8" r="1.15"/><circle cx="371.0" cy="182.2" r="1.15"/><circle cx="347.9" cy="170.4" r="1.15"/><circle cx="358.9" cy="181.1" r="1.15"/><circle cx="341.6" cy="160.3" r="1.15"/><circle cx="361.1" cy="183.5" r="1.15"/><circle cx="342.3" cy="175.2" r="1.15"/><circle cx="342.4" cy="187.1" r="1.15"/><circle cx="340.5" cy="186.6" r="1.15"/><circle cx="359.6" cy="187.5" r="1.15"/><circle cx="362.4" cy="174.9" r="1.15"/><circle cx="371.4" cy="192.0" r="1.15"/><circle cx="365.8" cy="183.0" r="1.15"/><circle cx="347.5" cy="191.9" r="1.15"/><circle cx="362.2" cy="192.6" r="1.15"/><circle cx="350.0" cy="190.8" r="1.15"/><circle cx="361.1" cy="180.6" r="1.15"/><circle cx="342.7" cy="164.4" r="1.15"/><circle cx="365.4" cy="186.1" r="1.15"/><circle cx="350.6" cy="182.8" r="1.15"/><circle cx="354.8" cy="180.6" r="1.15"/><circle cx="352.9" cy="175.5" r="1.15"/><circle cx="365.7" cy="180.7" r="1.15"/><circle cx="348.2" cy="162.9" r="1.15"/><circle cx="337.0" cy="180.6" r="1.15"/><circle cx="370.8" cy="193.6" r="1.15"/><circle cx="340.9" cy="189.0" r="1.15"/><circle cx="347.4" cy="179.6" r="1.15"/><circle cx="364.2" cy="177.0" r="1.15"/><circle cx="349.9" cy="175.8" r="1.15"/><circle cx="342.6" cy="178.3" r="1.15"/><circle cx="361.5" cy="178.7" r="1.15"/><circle cx="345.4" cy="180.8" r="1.15"/><circle cx="335.7" cy="167.2" r="1.15"/><circle cx="344.7" cy="179.4" r="1.15"/><circle cx="340.5" cy="171.3" r="1.15"/><circle cx="343.0" cy="182.9" r="1.15"/><circle cx="337.8" cy="179.8" r="1.15"/><circle cx="356.6" cy="171.4" r="1.15"/><circle cx="365.0" cy="183.6" r="1.15"/><circle cx="372.1" cy="183.3" r="1.15"/><circle cx="340.9" cy="166.4" r="1.15"/><circle cx="363.3" cy="191.4" r="1.15"/><circle cx="335.7" cy="175.7" r="1.15"/><circle cx="345.2" cy="177.7" r="1.15"/><circle cx="365.0" cy="189.6" r="1.15"/><circle cx="344.9" cy="183.7" r="1.15"/><circle cx="349.1" cy="178.0" r="1.15"/><circle cx="355.8" cy="185.7" r="1.15"/><circle cx="339.9" cy="171.5" r="1.15"/><circle cx="369.5" cy="198.4" r="1.15"/><circle cx="341.6" cy="160.4" r="1.15"/><circle cx="338.3" cy="173.3" r="1.15"/><circle cx="336.6" cy="177.8" r="1.15"/><circle cx="347.9" cy="188.5" r="1.15"/><circle cx="372.4" cy="194.8" r="1.15"/><circle cx="357.3" cy="180.1" r="1.15"/><circle cx="340.3" cy="171.8" r="1.15"/><circle cx="342.5" cy="166.8" r="1.15"/><circle cx="359.4" cy="172.0" r="1.15"/><circle cx="366.0" cy="181.9" r="1.15"/><circle cx="362.9" cy="175.2" r="1.15"/><circle cx="364.0" cy="182.4" r="1.15"/><circle cx="339.0" cy="171.0" r="1.15"/><circle cx="360.2" cy="180.8" r="1.15"/><circle cx="353.5" cy="178.1" r="1.15"/><circle cx="354.9" cy="169.4" r="1.15"/><circle cx="341.9" cy="168.3" r="1.15"/><circle cx="370.8" cy="188.4" r="1.15"/><circle cx="344.6" cy="181.2" r="1.15"/><circle cx="355.3" cy="178.8" r="1.15"/><circle cx="372.1" cy="183.9" r="1.15"/><circle cx="363.6" cy="193.4" r="1.15"/><circle cx="367.5" cy="186.5" r="1.15"/><circle cx="353.0" cy="195.1" r="1.15"/><circle cx="364.6" cy="185.8" r="1.15"/><circle cx="350.2" cy="179.0" r="1.15"/><circle cx="354.8" cy="167.6" r="1.15"/><circle cx="369.4" cy="186.9" r="1.15"/><circle cx="362.6" cy="179.4" r="1.15"/><circle cx="357.6" cy="185.7" r="1.15"/><circle cx="344.0" cy="192.0" r="1.15"/><circle cx="367.3" cy="193.7" r="1.15"/><circle cx="349.0" cy="177.0" r="1.15"/><circle cx="333.2" cy="169.6" r="1.15"/><circle cx="368.8" cy="190.5" r="1.15"/><circle cx="358.0" cy="186.6" r="1.15"/><circle cx="347.6" cy="164.1" r="1.15"/><circle cx="347.0" cy="188.6" r="1.15"/><circle cx="343.4" cy="178.0" r="1.15"/><circle cx="352.3" cy="164.4" r="1.15"/><circle cx="365.2" cy="190.8" r="1.15"/><circle cx="346.6" cy="180.7" r="1.15"/><circle cx="346.3" cy="175.9" r="1.15"/><circle cx="346.6" cy="185.1" r="1.15"/><circle cx="370.9" cy="186.6" r="1.15"/><circle cx="364.1" cy="179.3" r="1.15"/><circle cx="358.7" cy="190.4" r="1.15"/><circle cx="366.4" cy="185.9" r="1.15"/><circle cx="335.7" cy="178.1" r="1.15"/><circle cx="344.6" cy="183.3" r="1.15"/><circle cx="350.1" cy="177.2" r="1.15"/><circle cx="356.1" cy="182.5" r="1.15"/><circle cx="344.8" cy="166.4" r="1.15"/><circle cx="370.2" cy="198.1" r="1.15"/><circle cx="335.9" cy="169.0" r="1.15"/><circle cx="343.9" cy="177.9" r="1.15"/><circle cx="338.3" cy="172.2" r="1.15"/><circle cx="336.9" cy="163.9" r="1.15"/><circle cx="367.6" cy="192.7" r="1.15"/><circle cx="339.3" cy="185.6" r="1.15"/><circle cx="353.5" cy="167.5" r="1.15"/><circle cx="370.5" cy="184.2" r="1.15"/><circle cx="362.7" cy="183.9" r="1.15"/><circle cx="366.5" cy="179.6" r="1.15"/><circle cx="358.4" cy="178.7" r="1.15"/><circle cx="365.5" cy="180.3" r="1.15"/><circle cx="344.9" cy="179.7" r="1.15"/><circle cx="355.4" cy="193.8" r="1.15"/><circle cx="354.9" cy="182.3" r="1.15"/><circle cx="357.9" cy="177.4" r="1.15"/><circle cx="354.9" cy="186.5" r="1.15"/><circle cx="366.7" cy="186.2" r="1.15"/><circle cx="338.1" cy="169.4" r="1.15"/><circle cx="346.5" cy="173.2" r="1.15"/><circle cx="354.1" cy="170.8" r="1.15"/><circle cx="349.0" cy="187.0" r="1.15"/><circle cx="349.1" cy="194.1" r="1.15"/><circle cx="350.9" cy="173.0" r="1.15"/><circle cx="352.9" cy="188.1" r="1.15"/><circle cx="371.4" cy="195.7" r="1.15"/><circle cx="341.6" cy="172.6" r="1.15"/><circle cx="340.6" cy="178.0" r="1.15"/><circle cx="338.7" cy="185.1" r="1.15"/><circle cx="350.7" cy="168.9" r="1.15"/><circle cx="365.4" cy="194.1" r="1.15"/><circle cx="345.6" cy="169.6" r="1.15"/><circle cx="345.2" cy="175.9" r="1.15"/><circle cx="367.9" cy="189.0" r="1.15"/><circle cx="340.7" cy="168.7" r="1.15"/><circle cx="336.5" cy="166.5" r="1.15"/><circle cx="339.0" cy="174.3" r="1.15"/><circle cx="366.9" cy="180.8" r="1.15"/><circle cx="334.8" cy="163.0" r="1.15"/><circle cx="364.1" cy="179.3" r="1.15"/><circle cx="345.0" cy="167.5" r="1.15"/><circle cx="369.6" cy="187.1" r="1.15"/></g><g fill="#1f5fb0"><circle cx="319.0" cy="165.2" r="1.15"/><circle cx="324.9" cy="166.1" r="1.15"/><circle cx="340.1" cy="163.7" r="1.15"/><circle cx="341.7" cy="158.7" r="1.15"/><circle cx="329.4" cy="158.3" r="1.15"/><circle cx="322.8" cy="156.5" r="1.15"/><circle cx="317.3" cy="160.8" r="1.15"/><circle cx="332.5" cy="153.5" r="1.15"/><circle cx="347.9" cy="157.3" r="1.15"/><circle cx="316.6" cy="162.0" r="1.15"/><circle cx="343.7" cy="162.5" r="1.15"/><circle cx="348.7" cy="155.3" r="1.15"/><circle cx="315.2" cy="166.3" r="1.15"/><circle cx="310.8" cy="163.1" r="1.15"/><circle cx="341.0" cy="151.6" r="1.15"/><circle cx="334.3" cy="164.0" r="1.15"/><circle cx="360.3" cy="151.6" r="1.15"/><circle cx="316.8" cy="168.7" r="1.15"/><circle cx="322.7" cy="158.8" r="1.15"/><circle cx="334.8" cy="163.8" r="1.15"/><circle cx="356.9" cy="152.4" r="1.15"/><circle cx="327.4" cy="161.0" r="1.15"/><circle cx="316.4" cy="164.2" r="1.15"/><circle cx="337.8" cy="157.8" r="1.15"/><circle cx="355.1" cy="152.4" r="1.15"/><circle cx="341.3" cy="157.5" r="1.15"/><circle cx="345.0" cy="155.4" r="1.15"/><circle cx="335.3" cy="161.1" r="1.15"/><circle cx="332.0" cy="161.8" r="1.15"/><circle cx="315.2" cy="158.8" r="1.15"/><circle cx="332.1" cy="164.9" r="1.15"/><circle cx="321.6" cy="163.0" r="1.15"/><circle cx="320.2" cy="157.4" r="1.15"/><circle cx="352.8" cy="150.4" r="1.15"/><circle cx="360.8" cy="151.9" r="1.15"/><circle cx="359.6" cy="150.7" r="1.15"/><circle cx="355.0" cy="153.1" r="1.15"/><circle cx="314.8" cy="161.0" r="1.15"/><circle cx="320.4" cy="161.9" r="1.15"/><circle cx="349.0" cy="159.2" r="1.15"/><circle cx="334.3" cy="159.8" r="1.15"/><circle cx="351.3" cy="159.4" r="1.15"/><circle cx="324.1" cy="161.8" r="1.15"/><circle cx="328.1" cy="167.4" r="1.15"/><circle cx="312.5" cy="163.4" r="1.15"/><circle cx="329.7" cy="158.8" r="1.15"/><circle cx="340.5" cy="161.8" r="1.15"/><circle cx="321.5" cy="166.6" r="1.15"/><circle cx="338.2" cy="166.0" r="1.15"/><circle cx="317.6" cy="159.6" r="1.15"/><circle cx="317.8" cy="159.1" r="1.15"/><circle cx="313.5" cy="162.7" r="1.15"/><circle cx="310.8" cy="165.0" r="1.15"/><circle cx="343.8" cy="160.2" r="1.15"/><circle cx="330.4" cy="161.0" r="1.15"/><circle cx="329.7" cy="167.8" r="1.15"/><circle cx="338.5" cy="160.5" r="1.15"/><circle cx="358.9" cy="152.5" r="1.15"/><circle cx="338.5" cy="159.5" r="1.15"/><circle cx="333.5" cy="160.4" r="1.15"/><circle cx="316.1" cy="165.8" r="1.15"/><circle cx="340.1" cy="153.5" r="1.15"/><circle cx="360.9" cy="150.9" r="1.15"/><circle cx="321.2" cy="160.0" r="1.15"/><circle cx="325.5" cy="166.6" r="1.15"/><circle cx="328.0" cy="167.8" r="1.15"/><circle cx="315.9" cy="164.2" r="1.15"/><circle cx="356.7" cy="151.1" r="1.15"/><circle cx="338.0" cy="154.6" r="1.15"/><circle cx="321.1" cy="163.2" r="1.15"/><circle cx="344.5" cy="160.9" r="1.15"/><circle cx="328.3" cy="164.0" r="1.15"/><circle cx="338.2" cy="152.9" r="1.15"/><circle cx="353.3" cy="159.1" r="1.15"/><circle cx="356.6" cy="157.1" r="1.15"/><circle cx="316.0" cy="169.4" r="1.15"/><circle cx="353.1" cy="159.5" r="1.15"/><circle cx="317.2" cy="161.7" r="1.15"/><circle cx="325.4" cy="155.5" r="1.15"/><circle cx="335.3" cy="159.5" r="1.15"/><circle cx="335.1" cy="157.5" r="1.15"/><circle cx="327.3" cy="164.9" r="1.15"/><circle cx="351.7" cy="156.7" r="1.15"/><circle cx="318.1" cy="169.1" r="1.15"/><circle cx="335.2" cy="155.8" r="1.15"/><circle cx="331.9" cy="161.1" r="1.15"/><circle cx="340.6" cy="156.2" r="1.15"/><circle cx="313.5" cy="163.2" r="1.15"/><circle cx="333.0" cy="168.0" r="1.15"/><circle cx="311.1" cy="161.6" r="1.15"/><circle cx="340.3" cy="154.8" r="1.15"/><circle cx="361.4" cy="151.5" r="1.15"/><circle cx="348.0" cy="160.7" r="1.15"/><circle cx="316.8" cy="167.3" r="1.15"/><circle cx="353.8" cy="158.2" r="1.15"/><circle cx="313.4" cy="161.3" r="1.15"/><circle cx="329.8" cy="162.7" r="1.15"/><circle cx="352.7" cy="158.0" r="1.15"/><circle cx="331.4" cy="161.0" r="1.15"/><circle cx="325.7" cy="156.0" r="1.15"/><circle cx="332.8" cy="163.7" r="1.15"/><circle cx="319.0" cy="170.5" r="1.15"/><circle cx="339.2" cy="165.3" r="1.15"/><circle cx="332.4" cy="162.0" r="1.15"/><circle cx="344.1" cy="159.6" r="1.15"/><circle cx="329.6" cy="163.6" r="1.15"/><circle cx="320.1" cy="160.2" r="1.15"/><circle cx="325.7" cy="161.9" r="1.15"/><circle cx="314.9" cy="163.8" r="1.15"/><circle cx="338.1" cy="165.9" r="1.15"/><circle cx="359.3" cy="154.8" r="1.15"/><circle cx="347.7" cy="150.1" r="1.15"/><circle cx="336.4" cy="160.5" r="1.15"/><circle cx="331.6" cy="154.8" r="1.15"/><circle cx="327.0" cy="162.1" r="1.15"/><circle cx="367.0" cy="152.7" r="1.15"/><circle cx="335.8" cy="156.0" r="1.15"/><circle cx="317.8" cy="159.1" r="1.15"/><circle cx="331.1" cy="165.3" r="1.15"/><circle cx="334.4" cy="163.5" r="1.15"/><circle cx="317.7" cy="162.8" r="1.15"/><circle cx="354.2" cy="151.4" r="1.15"/><circle cx="345.9" cy="150.5" r="1.15"/><circle cx="346.0" cy="157.7" r="1.15"/><circle cx="329.1" cy="167.0" r="1.15"/><circle cx="334.8" cy="159.3" r="1.15"/><circle cx="328.0" cy="165.2" r="1.15"/><circle cx="334.5" cy="166.8" r="1.15"/><circle cx="340.8" cy="158.1" r="1.15"/><circle cx="330.9" cy="166.5" r="1.15"/><circle cx="338.3" cy="151.9" r="1.15"/><circle cx="337.7" cy="161.8" r="1.15"/><circle cx="337.6" cy="160.2" r="1.15"/><circle cx="329.4" cy="166.3" r="1.15"/><circle cx="331.8" cy="164.1" r="1.15"/><circle cx="332.1" cy="157.4" r="1.15"/><circle cx="335.1" cy="162.7" r="1.15"/><circle cx="312.0" cy="161.5" r="1.15"/><circle cx="334.4" cy="152.5" r="1.15"/><circle cx="351.8" cy="154.6" r="1.15"/><circle cx="339.0" cy="160.8" r="1.15"/><circle cx="331.1" cy="160.3" r="1.15"/><circle cx="362.7" cy="153.7" r="1.15"/><circle cx="354.7" cy="158.0" r="1.15"/><circle cx="344.6" cy="161.8" r="1.15"/><circle cx="352.9" cy="156.3" r="1.15"/><circle cx="349.3" cy="157.8" r="1.15"/><circle cx="331.0" cy="158.8" r="1.15"/><circle cx="331.3" cy="157.2" r="1.15"/><circle cx="333.9" cy="167.8" r="1.15"/><circle cx="347.2" cy="156.3" r="1.15"/><circle cx="332.2" cy="160.5" r="1.15"/><circle cx="335.9" cy="163.4" r="1.15"/><circle cx="330.7" cy="162.1" r="1.15"/><circle cx="320.7" cy="161.4" r="1.15"/><circle cx="328.9" cy="155.5" r="1.15"/><circle cx="352.9" cy="157.6" r="1.15"/><circle cx="345.7" cy="158.6" r="1.15"/><circle cx="344.6" cy="150.2" r="1.15"/><circle cx="346.2" cy="158.7" r="1.15"/><circle cx="317.6" cy="167.7" r="1.15"/><circle cx="328.0" cy="155.3" r="1.15"/><circle cx="325.5" cy="161.1" r="1.15"/><circle cx="364.5" cy="153.6" r="1.15"/><circle cx="326.8" cy="157.8" r="1.15"/><circle cx="347.1" cy="157.4" r="1.15"/><circle cx="348.9" cy="153.2" r="1.15"/><circle cx="312.5" cy="162.2" r="1.15"/><circle cx="352.0" cy="152.8" r="1.15"/><circle cx="312.8" cy="164.0" r="1.15"/><circle cx="350.1" cy="153.4" r="1.15"/><circle cx="343.9" cy="160.7" r="1.15"/><circle cx="348.0" cy="160.4" r="1.15"/><circle cx="333.1" cy="167.6" r="1.15"/><circle cx="327.5" cy="158.5" r="1.15"/><circle cx="330.0" cy="159.1" r="1.15"/><circle cx="333.3" cy="154.4" r="1.15"/><circle cx="330.6" cy="166.6" r="1.15"/><circle cx="320.9" cy="160.0" r="1.15"/><circle cx="326.5" cy="162.1" r="1.15"/><circle cx="354.9" cy="152.4" r="1.15"/><circle cx="338.2" cy="153.9" r="1.15"/><circle cx="327.6" cy="156.9" r="1.15"/><circle cx="355.9" cy="158.3" r="1.15"/><circle cx="336.5" cy="154.2" r="1.15"/><circle cx="321.3" cy="167.7" r="1.15"/><circle cx="327.5" cy="160.2" r="1.15"/><circle cx="313.0" cy="164.5" r="1.15"/><circle cx="325.2" cy="155.3" r="1.15"/><circle cx="344.7" cy="151.0" r="1.15"/><circle cx="338.6" cy="157.6" r="1.15"/><circle cx="314.5" cy="161.6" r="1.15"/><circle cx="354.8" cy="152.5" r="1.15"/><circle cx="315.7" cy="164.4" r="1.15"/><circle cx="337.3" cy="166.6" r="1.15"/><circle cx="360.6" cy="156.7" r="1.15"/><circle cx="341.1" cy="162.3" r="1.15"/><circle cx="336.1" cy="167.2" r="1.15"/><circle cx="324.7" cy="160.6" r="1.15"/><circle cx="341.5" cy="162.3" r="1.15"/><circle cx="310.9" cy="167.1" r="1.15"/><circle cx="336.0" cy="153.3" r="1.15"/><circle cx="319.5" cy="163.4" r="1.15"/><circle cx="341.3" cy="159.6" r="1.15"/><circle cx="340.6" cy="155.3" r="1.15"/><circle cx="318.8" cy="158.4" r="1.15"/><circle cx="319.7" cy="159.7" r="1.15"/><circle cx="319.5" cy="165.4" r="1.15"/><circle cx="360.8" cy="156.8" r="1.15"/><circle cx="314.9" cy="163.6" r="1.15"/><circle cx="361.7" cy="153.1" r="1.15"/><circle cx="335.3" cy="160.7" r="1.15"/><circle cx="359.2" cy="158.0" r="1.15"/><circle cx="350.1" cy="159.1" r="1.15"/><circle cx="362.2" cy="151.6" r="1.15"/><circle cx="326.5" cy="167.5" r="1.15"/><circle cx="348.0" cy="150.5" r="1.15"/><circle cx="313.9" cy="161.4" r="1.15"/><circle cx="316.2" cy="167.8" r="1.15"/><circle cx="352.6" cy="159.0" r="1.15"/><circle cx="320.6" cy="159.0" r="1.15"/><circle cx="361.7" cy="156.8" r="1.15"/><circle cx="311.4" cy="164.0" r="1.15"/><circle cx="317.3" cy="169.9" r="1.15"/><circle cx="348.7" cy="152.0" r="1.15"/><circle cx="319.8" cy="163.5" r="1.15"/><circle cx="326.2" cy="160.2" r="1.15"/><circle cx="327.6" cy="168.7" r="1.15"/><circle cx="347.7" cy="152.5" r="1.15"/><circle cx="347.3" cy="157.3" r="1.15"/><circle cx="332.5" cy="167.3" r="1.15"/><circle cx="335.9" cy="161.3" r="1.15"/><circle cx="345.2" cy="151.7" r="1.15"/><circle cx="362.3" cy="151.0" r="1.15"/><circle cx="316.8" cy="163.8" r="1.15"/><circle cx="321.4" cy="165.8" r="1.15"/><circle cx="349.8" cy="153.5" r="1.15"/><circle cx="350.4" cy="151.8" r="1.15"/><circle cx="331.6" cy="164.8" r="1.15"/><circle cx="331.2" cy="153.5" r="1.15"/><circle cx="336.5" cy="153.0" r="1.15"/><circle cx="337.5" cy="152.1" r="1.15"/><circle cx="352.1" cy="154.5" r="1.15"/><circle cx="364.3" cy="152.3" r="1.15"/><circle cx="321.5" cy="163.2" r="1.15"/><circle cx="341.9" cy="162.9" r="1.15"/><circle cx="320.7" cy="160.0" r="1.15"/><circle cx="324.1" cy="157.0" r="1.15"/><circle cx="361.0" cy="151.1" r="1.15"/><circle cx="337.7" cy="160.8" r="1.15"/><circle cx="316.2" cy="167.7" r="1.15"/><circle cx="336.4" cy="156.1" r="1.15"/><circle cx="314.7" cy="167.4" r="1.15"/><circle cx="354.1" cy="154.1" r="1.15"/><circle cx="328.4" cy="160.9" r="1.15"/><circle cx="342.9" cy="150.9" r="1.15"/><circle cx="317.8" cy="164.1" r="1.15"/><circle cx="317.6" cy="168.9" r="1.15"/><circle cx="342.2" cy="162.5" r="1.15"/><circle cx="331.4" cy="165.5" r="1.15"/><circle cx="320.5" cy="159.7" r="1.15"/><circle cx="363.1" cy="153.7" r="1.15"/><circle cx="330.2" cy="162.9" r="1.15"/><circle cx="350.1" cy="159.7" r="1.15"/><circle cx="315.6" cy="162.6" r="1.15"/><circle cx="328.4" cy="165.9" r="1.15"/><circle cx="351.4" cy="158.7" r="1.15"/><circle cx="318.8" cy="166.1" r="1.15"/><circle cx="324.2" cy="164.5" r="1.15"/><circle cx="356.8" cy="155.6" r="1.15"/><circle cx="355.4" cy="157.8" r="1.15"/><circle cx="336.6" cy="162.3" r="1.15"/><circle cx="356.7" cy="158.7" r="1.15"/><circle cx="362.1" cy="154.6" r="1.15"/><circle cx="340.2" cy="153.0" r="1.15"/><circle cx="312.8" cy="162.0" r="1.15"/><circle cx="346.0" cy="158.3" r="1.15"/><circle cx="349.6" cy="151.8" r="1.15"/><circle cx="319.3" cy="167.8" r="1.15"/><circle cx="317.9" cy="162.5" r="1.15"/><circle cx="331.9" cy="164.1" r="1.15"/><circle cx="354.2" cy="155.8" r="1.15"/><circle cx="329.0" cy="161.0" r="1.15"/><circle cx="359.0" cy="152.1" r="1.15"/><circle cx="344.4" cy="158.5" r="1.15"/><circle cx="332.1" cy="158.5" r="1.15"/><circle cx="351.5" cy="159.3" r="1.15"/><circle cx="364.6" cy="154.1" r="1.15"/><circle cx="357.2" cy="158.5" r="1.15"/><circle cx="334.9" cy="162.6" r="1.15"/><circle cx="326.7" cy="168.5" r="1.15"/><circle cx="353.5" cy="155.4" r="1.15"/><circle cx="333.4" cy="158.7" r="1.15"/><circle cx="351.1" cy="156.0" r="1.15"/><circle cx="330.6" cy="160.6" r="1.15"/><circle cx="323.8" cy="159.0" r="1.15"/><circle cx="343.1" cy="154.9" r="1.15"/><circle cx="332.5" cy="161.8" r="1.15"/><circle cx="331.1" cy="153.8" r="1.15"/><circle cx="360.7" cy="151.4" r="1.15"/><circle cx="362.6" cy="152.0" r="1.15"/><circle cx="342.1" cy="161.4" r="1.15"/><circle cx="333.8" cy="163.1" r="1.15"/><circle cx="361.2" cy="156.7" r="1.15"/><circle cx="353.7" cy="158.2" r="1.15"/><circle cx="328.8" cy="164.5" r="1.15"/><circle cx="319.3" cy="157.2" r="1.15"/><circle cx="337.1" cy="166.5" r="1.15"/><circle cx="316.4" cy="163.4" r="1.15"/><circle cx="329.1" cy="164.6" r="1.15"/><circle cx="327.2" cy="153.9" r="1.15"/><circle cx="325.6" cy="165.2" r="1.15"/><circle cx="356.9" cy="155.4" r="1.15"/><circle cx="323.2" cy="165.7" r="1.15"/><circle cx="333.3" cy="161.2" r="1.15"/><circle cx="313.1" cy="168.3" r="1.15"/><circle cx="318.7" cy="162.2" r="1.15"/><circle cx="325.7" cy="158.0" r="1.15"/><circle cx="337.0" cy="156.1" r="1.15"/><circle cx="319.9" cy="164.0" r="1.15"/><circle cx="346.3" cy="151.7" r="1.15"/><circle cx="322.9" cy="155.9" r="1.15"/><circle cx="331.1" cy="160.3" r="1.15"/><circle cx="362.4" cy="152.1" r="1.15"/><circle cx="324.9" cy="157.5" r="1.15"/><circle cx="332.7" cy="163.4" r="1.15"/><circle cx="312.3" cy="163.6" r="1.15"/><circle cx="349.8" cy="152.4" r="1.15"/><circle cx="334.2" cy="168.0" r="1.15"/><circle cx="325.2" cy="161.1" r="1.15"/><circle cx="330.1" cy="161.6" r="1.15"/><circle cx="332.7" cy="157.2" r="1.15"/><circle cx="337.1" cy="157.7" r="1.15"/><circle cx="360.3" cy="157.7" r="1.15"/><circle cx="349.4" cy="153.7" r="1.15"/><circle cx="341.5" cy="155.7" r="1.15"/><circle cx="329.8" cy="161.6" r="1.15"/><circle cx="345.9" cy="152.9" r="1.15"/><circle cx="347.6" cy="156.4" r="1.15"/><circle cx="335.2" cy="160.5" r="1.15"/><circle cx="324.5" cy="162.8" r="1.15"/><circle cx="330.5" cy="162.7" r="1.15"/><circle cx="362.0" cy="151.0" r="1.15"/><circle cx="328.7" cy="159.9" r="1.15"/><circle cx="343.3" cy="154.7" r="1.15"/><circle cx="326.8" cy="154.5" r="1.15"/><circle cx="311.8" cy="167.0" r="1.15"/><circle cx="326.0" cy="165.6" r="1.15"/><circle cx="311.4" cy="162.3" r="1.15"/><circle cx="345.0" cy="158.9" r="1.15"/><circle cx="330.4" cy="160.4" r="1.15"/><circle cx="337.3" cy="153.9" r="1.15"/><circle cx="347.9" cy="150.2" r="1.15"/><circle cx="333.5" cy="166.1" r="1.15"/><circle cx="317.6" cy="160.6" r="1.15"/><circle cx="350.8" cy="153.5" r="1.15"/><circle cx="344.9" cy="161.0" r="1.15"/><circle cx="351.9" cy="152.4" r="1.15"/><circle cx="360.6" cy="153.9" r="1.15"/><circle cx="351.8" cy="157.9" r="1.15"/><circle cx="335.4" cy="159.8" r="1.15"/><circle cx="351.5" cy="153.2" r="1.15"/><circle cx="361.5" cy="153.0" r="1.15"/><circle cx="317.2" cy="162.4" r="1.15"/><circle cx="324.0" cy="159.2" r="1.15"/><circle cx="321.6" cy="165.2" r="1.15"/><circle cx="343.8" cy="151.7" r="1.15"/><circle cx="339.4" cy="156.1" r="1.15"/><circle cx="313.6" cy="164.8" r="1.15"/><circle cx="339.7" cy="159.6" r="1.15"/><circle cx="318.1" cy="170.0" r="1.15"/><circle cx="319.0" cy="160.3" r="1.15"/><circle cx="338.4" cy="158.1" r="1.15"/><circle cx="355.6" cy="155.3" r="1.15"/><circle cx="326.5" cy="167.4" r="1.15"/><circle cx="323.6" cy="165.2" r="1.15"/><circle cx="325.9" cy="158.6" r="1.15"/><circle cx="337.2" cy="155.2" r="1.15"/><circle cx="363.6" cy="153.3" r="1.15"/><circle cx="349.6" cy="155.5" r="1.15"/></g><g fill="#7a1f78"><circle cx="343.1" cy="198.7" r="1.15"/><circle cx="342.8" cy="216.5" r="1.15"/><circle cx="339.6" cy="201.8" r="1.15"/><circle cx="348.5" cy="220.3" r="1.15"/><circle cx="352.8" cy="199.9" r="1.15"/><circle cx="344.3" cy="203.0" r="1.15"/><circle cx="344.7" cy="219.8" r="1.15"/><circle cx="338.9" cy="208.7" r="1.15"/><circle cx="348.6" cy="213.9" r="1.15"/><circle cx="340.4" cy="213.4" r="1.15"/><circle cx="343.9" cy="218.6" r="1.15"/><circle cx="349.3" cy="215.9" r="1.15"/><circle cx="349.9" cy="215.1" r="1.15"/><circle cx="342.6" cy="200.8" r="1.15"/><circle cx="341.5" cy="205.5" r="1.15"/><circle cx="332.0" cy="215.6" r="1.15"/><circle cx="347.3" cy="222.1" r="1.15"/><circle cx="340.7" cy="208.3" r="1.15"/><circle cx="331.1" cy="211.7" r="1.15"/><circle cx="350.8" cy="217.2" r="1.15"/><circle cx="347.9" cy="203.3" r="1.15"/><circle cx="339.3" cy="211.4" r="1.15"/><circle cx="357.5" cy="215.9" r="1.15"/><circle cx="341.7" cy="212.3" r="1.15"/><circle cx="332.8" cy="212.8" r="1.15"/><circle cx="353.7" cy="200.6" r="1.15"/><circle cx="363.9" cy="214.4" r="1.15"/><circle cx="335.6" cy="216.0" r="1.15"/><circle cx="354.7" cy="216.8" r="1.15"/><circle cx="344.4" cy="221.1" r="1.15"/><circle cx="334.6" cy="203.3" r="1.15"/><circle cx="346.6" cy="200.8" r="1.15"/><circle cx="336.5" cy="216.0" r="1.15"/><circle cx="327.7" cy="212.9" r="1.15"/><circle cx="343.3" cy="215.5" r="1.15"/><circle cx="337.4" cy="209.4" r="1.15"/><circle cx="338.8" cy="221.3" r="1.15"/><circle cx="341.8" cy="211.1" r="1.15"/><circle cx="332.6" cy="207.7" r="1.15"/><circle cx="332.2" cy="213.9" r="1.15"/><circle cx="332.6" cy="217.2" r="1.15"/><circle cx="334.4" cy="217.8" r="1.15"/><circle cx="345.1" cy="202.3" r="1.15"/><circle cx="332.6" cy="215.1" r="1.15"/><circle cx="341.8" cy="211.6" r="1.15"/><circle cx="341.7" cy="203.9" r="1.15"/><circle cx="333.5" cy="216.8" r="1.15"/><circle cx="344.3" cy="201.0" r="1.15"/><circle cx="336.2" cy="201.1" r="1.15"/><circle cx="349.4" cy="217.2" r="1.15"/><circle cx="355.1" cy="218.6" r="1.15"/><circle cx="343.9" cy="208.4" r="1.15"/><circle cx="330.8" cy="203.8" r="1.15"/><circle cx="343.9" cy="218.7" r="1.15"/><circle cx="339.5" cy="203.4" r="1.15"/><circle cx="327.8" cy="210.9" r="1.15"/><circle cx="349.0" cy="202.5" r="1.15"/><circle cx="337.4" cy="213.5" r="1.15"/><circle cx="333.9" cy="217.4" r="1.15"/><circle cx="332.2" cy="211.8" r="1.15"/><circle cx="338.8" cy="199.7" r="1.15"/><circle cx="337.9" cy="203.4" r="1.15"/><circle cx="341.1" cy="212.2" r="1.15"/><circle cx="335.8" cy="209.1" r="1.15"/><circle cx="343.6" cy="200.8" r="1.15"/><circle cx="352.0" cy="220.0" r="1.15"/><circle cx="351.3" cy="217.1" r="1.15"/><circle cx="364.2" cy="212.4" r="1.15"/><circle cx="360.1" cy="211.3" r="1.15"/><circle cx="344.4" cy="201.2" r="1.15"/><circle cx="346.2" cy="215.5" r="1.15"/><circle cx="347.7" cy="221.6" r="1.15"/><circle cx="344.0" cy="211.1" r="1.15"/><circle cx="328.0" cy="215.8" r="1.15"/><circle cx="334.6" cy="219.1" r="1.15"/><circle cx="349.6" cy="200.5" r="1.15"/><circle cx="347.8" cy="217.1" r="1.15"/><circle cx="335.9" cy="221.8" r="1.15"/><circle cx="350.8" cy="214.6" r="1.15"/><circle cx="351.1" cy="221.0" r="1.15"/><circle cx="342.8" cy="207.3" r="1.15"/><circle cx="338.4" cy="220.7" r="1.15"/><circle cx="337.2" cy="204.8" r="1.15"/><circle cx="334.7" cy="215.2" r="1.15"/><circle cx="331.7" cy="212.5" r="1.15"/><circle cx="340.5" cy="211.3" r="1.15"/><circle cx="335.9" cy="208.1" r="1.15"/><circle cx="341.1" cy="221.8" r="1.15"/><circle cx="335.5" cy="207.2" r="1.15"/><circle cx="357.8" cy="211.9" r="1.15"/><circle cx="344.9" cy="201.4" r="1.15"/><circle cx="338.0" cy="219.7" r="1.15"/><circle cx="337.5" cy="220.3" r="1.15"/><circle cx="359.1" cy="211.8" r="1.15"/><circle cx="331.7" cy="218.5" r="1.15"/><circle cx="338.2" cy="221.4" r="1.15"/><circle cx="344.6" cy="206.6" r="1.15"/><circle cx="337.5" cy="202.0" r="1.15"/><circle cx="335.6" cy="219.8" r="1.15"/><circle cx="327.4" cy="211.3" r="1.15"/><circle cx="328.2" cy="211.5" r="1.15"/><circle cx="328.0" cy="209.2" r="1.15"/><circle cx="335.6" cy="218.8" r="1.15"/><circle cx="341.7" cy="211.1" r="1.15"/><circle cx="343.6" cy="217.4" r="1.15"/><circle cx="333.7" cy="202.9" r="1.15"/><circle cx="347.7" cy="212.6" r="1.15"/><circle cx="340.5" cy="213.9" r="1.15"/><circle cx="356.2" cy="214.7" r="1.15"/><circle cx="349.1" cy="201.4" r="1.15"/><circle cx="338.3" cy="204.7" r="1.15"/><circle cx="341.9" cy="207.8" r="1.15"/><circle cx="348.9" cy="218.2" r="1.15"/><circle cx="341.0" cy="201.8" r="1.15"/><circle cx="343.6" cy="211.9" r="1.15"/><circle cx="331.6" cy="216.7" r="1.15"/><circle cx="345.1" cy="213.2" r="1.15"/><circle cx="344.2" cy="217.7" r="1.15"/><circle cx="354.2" cy="200.1" r="1.15"/><circle cx="337.1" cy="221.2" r="1.15"/><circle cx="329.0" cy="207.7" r="1.15"/><circle cx="344.3" cy="214.7" r="1.15"/><circle cx="339.7" cy="199.2" r="1.15"/><circle cx="337.8" cy="213.1" r="1.15"/><circle cx="337.7" cy="220.1" r="1.15"/><circle cx="335.7" cy="213.0" r="1.15"/><circle cx="329.3" cy="210.1" r="1.15"/><circle cx="338.5" cy="207.7" r="1.15"/><circle cx="351.4" cy="216.1" r="1.15"/><circle cx="340.5" cy="213.3" r="1.15"/><circle cx="345.4" cy="221.2" r="1.15"/><circle cx="346.7" cy="214.3" r="1.15"/><circle cx="339.2" cy="209.9" r="1.15"/><circle cx="334.1" cy="207.8" r="1.15"/><circle cx="344.1" cy="208.2" r="1.15"/><circle cx="337.2" cy="209.5" r="1.15"/><circle cx="349.9" cy="199.7" r="1.15"/><circle cx="353.4" cy="215.5" r="1.15"/><circle cx="334.8" cy="203.5" r="1.15"/><circle cx="328.5" cy="209.3" r="1.15"/><circle cx="347.3" cy="221.0" r="1.15"/><circle cx="337.4" cy="200.4" r="1.15"/><circle cx="352.8" cy="216.9" r="1.15"/><circle cx="342.7" cy="199.2" r="1.15"/><circle cx="338.1" cy="215.4" r="1.15"/><circle cx="362.6" cy="215.3" r="1.15"/><circle cx="330.5" cy="204.4" r="1.15"/><circle cx="342.8" cy="209.5" r="1.15"/><circle cx="328.3" cy="211.9" r="1.15"/><circle cx="339.4" cy="212.1" r="1.15"/><circle cx="343.6" cy="202.6" r="1.15"/><circle cx="345.8" cy="219.7" r="1.15"/><circle cx="332.8" cy="213.4" r="1.15"/><circle cx="336.3" cy="220.5" r="1.15"/><circle cx="342.3" cy="210.2" r="1.15"/><circle cx="339.9" cy="206.1" r="1.15"/><circle cx="346.6" cy="214.2" r="1.15"/><circle cx="338.4" cy="206.3" r="1.15"/><circle cx="337.2" cy="202.0" r="1.15"/><circle cx="347.2" cy="216.4" r="1.15"/><circle cx="347.8" cy="200.3" r="1.15"/><circle cx="336.7" cy="205.9" r="1.15"/><circle cx="341.3" cy="214.1" r="1.15"/><circle cx="336.7" cy="203.2" r="1.15"/><circle cx="334.8" cy="209.7" r="1.15"/><circle cx="336.1" cy="209.5" r="1.15"/><circle cx="336.7" cy="216.3" r="1.15"/><circle cx="340.8" cy="199.2" r="1.15"/><circle cx="356.7" cy="217.1" r="1.15"/><circle cx="344.4" cy="217.0" r="1.15"/><circle cx="360.1" cy="215.0" r="1.15"/><circle cx="345.1" cy="217.2" r="1.15"/><circle cx="350.5" cy="199.3" r="1.15"/><circle cx="342.1" cy="204.1" r="1.15"/><circle cx="359.4" cy="213.7" r="1.15"/><circle cx="338.9" cy="216.3" r="1.15"/><circle cx="334.4" cy="217.9" r="1.15"/><circle cx="351.2" cy="216.9" r="1.15"/><circle cx="338.4" cy="205.0" r="1.15"/><circle cx="359.0" cy="218.3" r="1.15"/><circle cx="355.2" cy="213.9" r="1.15"/><circle cx="342.4" cy="204.2" r="1.15"/><circle cx="328.8" cy="217.3" r="1.15"/><circle cx="344.1" cy="207.3" r="1.15"/><circle cx="329.1" cy="209.9" r="1.15"/><circle cx="356.7" cy="216.7" r="1.15"/><circle cx="337.0" cy="214.5" r="1.15"/><circle cx="363.2" cy="213.2" r="1.15"/><circle cx="340.7" cy="213.9" r="1.15"/><circle cx="362.4" cy="209.0" r="1.15"/><circle cx="345.8" cy="203.2" r="1.15"/><circle cx="359.1" cy="212.5" r="1.15"/><circle cx="342.7" cy="207.0" r="1.15"/><circle cx="335.4" cy="202.5" r="1.15"/><circle cx="331.2" cy="207.0" r="1.15"/><circle cx="345.1" cy="222.7" r="1.15"/><circle cx="342.4" cy="207.5" r="1.15"/><circle cx="345.4" cy="207.3" r="1.15"/><circle cx="336.0" cy="201.0" r="1.15"/><circle cx="345.9" cy="213.7" r="1.15"/><circle cx="331.2" cy="209.4" r="1.15"/><circle cx="333.9" cy="212.6" r="1.15"/><circle cx="340.8" cy="214.3" r="1.15"/><circle cx="342.3" cy="199.0" r="1.15"/><circle cx="335.5" cy="213.2" r="1.15"/><circle cx="341.6" cy="211.0" r="1.15"/><circle cx="341.7" cy="215.8" r="1.15"/><circle cx="349.5" cy="200.0" r="1.15"/><circle cx="345.8" cy="204.7" r="1.15"/><circle cx="333.7" cy="210.6" r="1.15"/><circle cx="347.0" cy="214.4" r="1.15"/><circle cx="343.9" cy="222.5" r="1.15"/><circle cx="349.7" cy="215.1" r="1.15"/><circle cx="342.3" cy="207.4" r="1.15"/><circle cx="340.7" cy="203.3" r="1.15"/><circle cx="338.2" cy="211.7" r="1.15"/><circle cx="345.4" cy="200.4" r="1.15"/><circle cx="331.4" cy="218.1" r="1.15"/><circle cx="331.3" cy="214.9" r="1.15"/><circle cx="334.0" cy="215.3" r="1.15"/><circle cx="361.7" cy="210.4" r="1.15"/><circle cx="345.0" cy="222.3" r="1.15"/><circle cx="345.6" cy="205.1" r="1.15"/><circle cx="336.1" cy="204.9" r="1.15"/><circle cx="337.9" cy="201.9" r="1.15"/><circle cx="349.4" cy="218.1" r="1.15"/><circle cx="360.2" cy="213.7" r="1.15"/><circle cx="340.7" cy="220.6" r="1.15"/><circle cx="330.5" cy="210.0" r="1.15"/><circle cx="344.6" cy="198.9" r="1.15"/><circle cx="352.5" cy="217.5" r="1.15"/><circle cx="335.9" cy="203.4" r="1.15"/><circle cx="338.6" cy="208.7" r="1.15"/><circle cx="342.4" cy="214.3" r="1.15"/><circle cx="341.9" cy="213.5" r="1.15"/><circle cx="330.2" cy="204.4" r="1.15"/><circle cx="350.2" cy="214.1" r="1.15"/><circle cx="338.4" cy="210.4" r="1.15"/><circle cx="340.3" cy="212.1" r="1.15"/><circle cx="331.4" cy="213.2" r="1.15"/><circle cx="335.4" cy="211.4" r="1.15"/><circle cx="334.5" cy="208.6" r="1.15"/><circle cx="337.6" cy="213.7" r="1.15"/><circle cx="366.0" cy="208.8" r="1.15"/><circle cx="338.5" cy="210.2" r="1.15"/><circle cx="339.4" cy="208.6" r="1.15"/><circle cx="342.9" cy="214.4" r="1.15"/><circle cx="335.3" cy="222.0" r="1.15"/><circle cx="344.3" cy="212.2" r="1.15"/><circle cx="351.2" cy="199.3" r="1.15"/><circle cx="347.2" cy="216.5" r="1.15"/><circle cx="358.6" cy="216.1" r="1.15"/><circle cx="354.2" cy="200.3" r="1.15"/><circle cx="343.4" cy="210.2" r="1.15"/><circle cx="328.6" cy="216.9" r="1.15"/><circle cx="331.1" cy="211.7" r="1.15"/><circle cx="337.7" cy="201.2" r="1.15"/><circle cx="356.3" cy="212.8" r="1.15"/><circle cx="349.6" cy="219.7" r="1.15"/><circle cx="329.5" cy="206.8" r="1.15"/><circle cx="335.8" cy="212.5" r="1.15"/><circle cx="342.8" cy="220.9" r="1.15"/><circle cx="336.3" cy="204.0" r="1.15"/><circle cx="344.2" cy="206.7" r="1.15"/><circle cx="338.7" cy="217.8" r="1.15"/><circle cx="332.7" cy="219.1" r="1.15"/><circle cx="344.1" cy="214.8" r="1.15"/><circle cx="341.8" cy="203.7" r="1.15"/><circle cx="348.1" cy="221.7" r="1.15"/><circle cx="330.8" cy="203.5" r="1.15"/><circle cx="346.3" cy="222.6" r="1.15"/><circle cx="352.7" cy="200.6" r="1.15"/><circle cx="362.9" cy="214.9" r="1.15"/><circle cx="334.3" cy="209.7" r="1.15"/><circle cx="357.4" cy="211.5" r="1.15"/><circle cx="356.5" cy="212.6" r="1.15"/><circle cx="345.5" cy="218.1" r="1.15"/><circle cx="337.2" cy="206.7" r="1.15"/><circle cx="360.9" cy="213.9" r="1.15"/><circle cx="346.6" cy="197.4" r="1.15"/><circle cx="336.5" cy="207.0" r="1.15"/><circle cx="332.5" cy="218.9" r="1.15"/><circle cx="343.9" cy="222.9" r="1.15"/><circle cx="338.0" cy="213.1" r="1.15"/><circle cx="344.2" cy="201.5" r="1.15"/><circle cx="331.0" cy="210.6" r="1.15"/><circle cx="341.0" cy="210.0" r="1.15"/><circle cx="331.3" cy="206.2" r="1.15"/><circle cx="347.2" cy="199.2" r="1.15"/><circle cx="347.1" cy="218.9" r="1.15"/><circle cx="350.6" cy="200.4" r="1.15"/><circle cx="352.3" cy="199.2" r="1.15"/><circle cx="348.2" cy="201.6" r="1.15"/><circle cx="338.1" cy="200.1" r="1.15"/><circle cx="354.0" cy="218.0" r="1.15"/><circle cx="345.0" cy="212.1" r="1.15"/><circle cx="340.3" cy="218.3" r="1.15"/><circle cx="346.2" cy="201.8" r="1.15"/><circle cx="346.4" cy="214.0" r="1.15"/><circle cx="329.2" cy="208.7" r="1.15"/><circle cx="363.6" cy="211.4" r="1.15"/><circle cx="351.8" cy="216.9" r="1.15"/><circle cx="337.6" cy="215.5" r="1.15"/><circle cx="350.2" cy="219.4" r="1.15"/><circle cx="333.9" cy="214.1" r="1.15"/><circle cx="331.4" cy="209.9" r="1.15"/><circle cx="338.0" cy="207.4" r="1.15"/><circle cx="353.2" cy="213.5" r="1.15"/><circle cx="362.8" cy="215.3" r="1.15"/><circle cx="363.3" cy="212.9" r="1.15"/><circle cx="352.9" cy="220.1" r="1.15"/><circle cx="356.8" cy="213.5" r="1.15"/><circle cx="355.7" cy="219.0" r="1.15"/><circle cx="342.5" cy="202.5" r="1.15"/><circle cx="344.7" cy="218.9" r="1.15"/><circle cx="335.1" cy="202.4" r="1.15"/><circle cx="334.7" cy="207.8" r="1.15"/><circle cx="332.6" cy="219.9" r="1.15"/><circle cx="361.3" cy="215.9" r="1.15"/><circle cx="355.7" cy="212.6" r="1.15"/><circle cx="344.7" cy="219.1" r="1.15"/><circle cx="338.5" cy="207.2" r="1.15"/><circle cx="336.7" cy="219.0" r="1.15"/><circle cx="353.3" cy="220.9" r="1.15"/><circle cx="339.0" cy="214.3" r="1.15"/><circle cx="354.9" cy="218.8" r="1.15"/><circle cx="334.7" cy="210.5" r="1.15"/><circle cx="336.6" cy="218.9" r="1.15"/><circle cx="334.3" cy="216.9" r="1.15"/><circle cx="334.8" cy="205.8" r="1.15"/><circle cx="329.4" cy="216.3" r="1.15"/><circle cx="342.2" cy="202.2" r="1.15"/><circle cx="362.6" cy="214.3" r="1.15"/><circle cx="341.0" cy="198.9" r="1.15"/><circle cx="333.9" cy="216.4" r="1.15"/><circle cx="338.2" cy="217.8" r="1.15"/><circle cx="356.4" cy="213.7" r="1.15"/><circle cx="351.2" cy="200.6" r="1.15"/><circle cx="348.2" cy="201.9" r="1.15"/><circle cx="338.2" cy="210.7" r="1.15"/><circle cx="359.4" cy="216.9" r="1.15"/><circle cx="335.4" cy="221.8" r="1.15"/><circle cx="334.4" cy="220.2" r="1.15"/><circle cx="350.3" cy="200.6" r="1.15"/><circle cx="341.6" cy="217.6" r="1.15"/><circle cx="340.3" cy="221.4" r="1.15"/><circle cx="340.4" cy="213.3" r="1.15"/><circle cx="337.2" cy="215.8" r="1.15"/><circle cx="338.3" cy="208.0" r="1.15"/><circle cx="355.9" cy="218.5" r="1.15"/><circle cx="335.5" cy="216.9" r="1.15"/><circle cx="354.0" cy="215.6" r="1.15"/><circle cx="341.1" cy="212.6" r="1.15"/><circle cx="337.4" cy="217.7" r="1.15"/><circle cx="335.5" cy="208.5" r="1.15"/><circle cx="353.1" cy="218.4" r="1.15"/><circle cx="354.2" cy="219.4" r="1.15"/><circle cx="353.6" cy="217.2" r="1.15"/><circle cx="360.5" cy="212.5" r="1.15"/><circle cx="348.3" cy="201.2" r="1.15"/><circle cx="331.4" cy="207.2" r="1.15"/><circle cx="338.7" cy="211.6" r="1.15"/><circle cx="334.7" cy="212.3" r="1.15"/><circle cx="335.8" cy="202.3" r="1.15"/><circle cx="342.0" cy="206.0" r="1.15"/><circle cx="340.2" cy="200.9" r="1.15"/><circle cx="331.6" cy="215.5" r="1.15"/><circle cx="335.9" cy="210.6" r="1.15"/><circle cx="337.7" cy="209.7" r="1.15"/><circle cx="347.1" cy="203.9" r="1.15"/><circle cx="331.7" cy="207.9" r="1.15"/><circle cx="348.5" cy="218.1" r="1.15"/><circle cx="360.6" cy="213.1" r="1.15"/><circle cx="347.9" cy="202.9" r="1.15"/><circle cx="343.2" cy="216.3" r="1.15"/><circle cx="335.1" cy="209.4" r="1.15"/><circle cx="339.2" cy="203.7" r="1.15"/><circle cx="331.6" cy="217.3" r="1.15"/><circle cx="358.0" cy="215.3" r="1.15"/><circle cx="351.4" cy="201.5" r="1.15"/><circle cx="347.1" cy="218.7" r="1.15"/><circle cx="358.4" cy="212.4" r="1.15"/><circle cx="352.2" cy="201.4" r="1.15"/><circle cx="343.0" cy="215.2" r="1.15"/><circle cx="354.9" cy="219.5" r="1.15"/><circle cx="337.0" cy="200.2" r="1.15"/><circle cx="340.2" cy="199.7" r="1.15"/><circle cx="346.6" cy="198.5" r="1.15"/><circle cx="337.8" cy="200.6" r="1.15"/><circle cx="349.9" cy="215.6" r="1.15"/><circle cx="336.0" cy="200.4" r="1.15"/><circle cx="344.9" cy="206.6" r="1.15"/><circle cx="356.1" cy="213.5" r="1.15"/><circle cx="354.5" cy="213.6" r="1.15"/><circle cx="347.5" cy="202.1" r="1.15"/><circle cx="363.6" cy="210.9" r="1.15"/><circle cx="345.3" cy="203.8" r="1.15"/><circle cx="342.1" cy="222.5" r="1.15"/><circle cx="343.2" cy="217.9" r="1.15"/><circle cx="332.0" cy="212.6" r="1.15"/><circle cx="337.9" cy="203.1" r="1.15"/><circle cx="339.1" cy="207.3" r="1.15"/><circle cx="337.3" cy="220.3" r="1.15"/><circle cx="352.5" cy="215.8" r="1.15"/><circle cx="347.9" cy="215.5" r="1.15"/><circle cx="338.9" cy="220.0" r="1.15"/><circle cx="344.4" cy="207.8" r="1.15"/><circle cx="339.1" cy="207.9" r="1.15"/><circle cx="342.3" cy="209.0" r="1.15"/><circle cx="347.3" cy="198.4" r="1.15"/><circle cx="346.3" cy="220.5" r="1.15"/><circle cx="361.4" cy="209.8" r="1.15"/><circle cx="350.0" cy="218.9" r="1.15"/><circle cx="340.3" cy="200.4" r="1.15"/><circle cx="345.7" cy="200.3" r="1.15"/><circle cx="355.4" cy="220.5" r="1.15"/><circle cx="339.9" cy="207.8" r="1.15"/><circle cx="340.8" cy="218.0" r="1.15"/><circle cx="344.6" cy="198.9" r="1.15"/><circle cx="346.0" cy="200.9" r="1.15"/></g><g fill="#44a348"><circle cx="423.8" cy="171.9" r="1.15"/><circle cx="416.6" cy="176.3" r="1.15"/><circle cx="432.5" cy="169.9" r="1.15"/><circle cx="417.1" cy="174.3" r="1.15"/><circle cx="440.8" cy="169.2" r="1.15"/><circle cx="418.3" cy="169.1" r="1.15"/><circle cx="419.0" cy="171.4" r="1.15"/><circle cx="419.4" cy="174.6" r="1.15"/><circle cx="419.4" cy="169.5" r="1.15"/><circle cx="425.0" cy="168.2" r="1.15"/><circle cx="413.5" cy="172.2" r="1.15"/><circle cx="421.5" cy="171.2" r="1.15"/><circle cx="425.2" cy="170.2" r="1.15"/><circle cx="431.1" cy="168.6" r="1.15"/><circle cx="427.8" cy="175.0" r="1.15"/><circle cx="427.4" cy="175.6" r="1.15"/><circle cx="436.2" cy="171.8" r="1.15"/><circle cx="433.5" cy="170.8" r="1.15"/><circle cx="417.6" cy="177.6" r="1.15"/><circle cx="426.6" cy="177.0" r="1.15"/><circle cx="438.2" cy="169.2" r="1.15"/><circle cx="419.0" cy="177.5" r="1.15"/><circle cx="419.3" cy="173.8" r="1.15"/><circle cx="433.9" cy="168.9" r="1.15"/><circle cx="420.5" cy="168.3" r="1.15"/><circle cx="441.1" cy="170.6" r="1.15"/><circle cx="426.9" cy="176.7" r="1.15"/><circle cx="423.2" cy="169.0" r="1.15"/><circle cx="418.1" cy="172.6" r="1.15"/><circle cx="425.7" cy="175.0" r="1.15"/><circle cx="433.4" cy="171.7" r="1.15"/><circle cx="428.1" cy="176.5" r="1.15"/><circle cx="423.4" cy="174.8" r="1.15"/><circle cx="429.1" cy="177.1" r="1.15"/><circle cx="419.5" cy="172.1" r="1.15"/><circle cx="419.9" cy="176.4" r="1.15"/><circle cx="430.3" cy="176.1" r="1.15"/><circle cx="430.1" cy="174.0" r="1.15"/><circle cx="425.3" cy="169.5" r="1.15"/><circle cx="422.8" cy="169.0" r="1.15"/><circle cx="437.2" cy="171.0" r="1.15"/><circle cx="434.1" cy="173.1" r="1.15"/><circle cx="419.1" cy="169.6" r="1.15"/><circle cx="440.4" cy="168.0" r="1.15"/><circle cx="417.9" cy="171.0" r="1.15"/><circle cx="420.7" cy="173.5" r="1.15"/><circle cx="427.6" cy="168.2" r="1.15"/><circle cx="420.6" cy="177.6" r="1.15"/><circle cx="431.5" cy="173.8" r="1.15"/><circle cx="422.0" cy="169.9" r="1.15"/><circle cx="417.7" cy="171.5" r="1.15"/><circle cx="432.2" cy="174.8" r="1.15"/><circle cx="420.9" cy="174.9" r="1.15"/><circle cx="424.3" cy="174.9" r="1.15"/><circle cx="441.7" cy="169.3" r="1.15"/><circle cx="432.9" cy="168.7" r="1.15"/><circle cx="415.6" cy="170.4" r="1.15"/><circle cx="441.3" cy="169.8" r="1.15"/><circle cx="421.6" cy="178.0" r="1.15"/><circle cx="422.9" cy="176.7" r="1.15"/><circle cx="414.0" cy="170.4" r="1.15"/><circle cx="419.5" cy="177.2" r="1.15"/><circle cx="425.8" cy="177.1" r="1.15"/><circle cx="427.1" cy="170.8" r="1.15"/><circle cx="415.0" cy="171.7" r="1.15"/><circle cx="437.9" cy="168.0" r="1.15"/><circle cx="414.6" cy="175.6" r="1.15"/><circle cx="413.6" cy="175.1" r="1.15"/><circle cx="436.6" cy="168.3" r="1.15"/><circle cx="436.5" cy="166.9" r="1.15"/><circle cx="417.8" cy="174.6" r="1.15"/><circle cx="417.3" cy="171.7" r="1.15"/><circle cx="427.0" cy="173.1" r="1.15"/><circle cx="429.1" cy="168.1" r="1.15"/><circle cx="432.1" cy="174.7" r="1.15"/><circle cx="430.8" cy="168.6" r="1.15"/><circle cx="414.8" cy="176.9" r="1.15"/><circle cx="422.7" cy="168.6" r="1.15"/><circle cx="427.5" cy="168.7" r="1.15"/><circle cx="412.8" cy="171.6" r="1.15"/><circle cx="426.6" cy="173.3" r="1.15"/><circle cx="417.5" cy="177.9" r="1.15"/><circle cx="416.5" cy="176.3" r="1.15"/><circle cx="415.8" cy="170.7" r="1.15"/><circle cx="424.9" cy="174.5" r="1.15"/><circle cx="429.9" cy="171.3" r="1.15"/><circle cx="423.9" cy="169.4" r="1.15"/><circle cx="433.3" cy="171.7" r="1.15"/><circle cx="424.7" cy="168.5" r="1.15"/><circle cx="430.2" cy="171.3" r="1.15"/><circle cx="428.6" cy="172.4" r="1.15"/><circle cx="421.1" cy="171.4" r="1.15"/><circle cx="425.3" cy="177.7" r="1.15"/><circle cx="439.6" cy="169.7" r="1.15"/><circle cx="426.1" cy="168.9" r="1.15"/><circle cx="441.5" cy="167.8" r="1.15"/><circle cx="426.3" cy="172.0" r="1.15"/><circle cx="427.5" cy="172.2" r="1.15"/><circle cx="422.0" cy="170.5" r="1.15"/><circle cx="415.2" cy="173.8" r="1.15"/></g><g fill="#f0b22e"><circle cx="450.5" cy="154.9" r="1.15"/><circle cx="462.4" cy="157.8" r="1.15"/><circle cx="450.6" cy="162.8" r="1.15"/><circle cx="464.3" cy="162.3" r="1.15"/><circle cx="448.2" cy="153.9" r="1.15"/><circle cx="466.4" cy="159.8" r="1.15"/><circle cx="465.7" cy="156.4" r="1.15"/><circle cx="454.3" cy="166.7" r="1.15"/><circle cx="441.8" cy="144.7" r="1.15"/><circle cx="469.7" cy="167.2" r="1.15"/><circle cx="465.6" cy="158.1" r="1.15"/><circle cx="467.6" cy="164.6" r="1.15"/><circle cx="457.7" cy="166.9" r="1.15"/><circle cx="446.0" cy="160.9" r="1.15"/><circle cx="468.3" cy="155.2" r="1.15"/><circle cx="465.7" cy="157.3" r="1.15"/><circle cx="452.3" cy="144.3" r="1.15"/><circle cx="449.7" cy="153.9" r="1.15"/><circle cx="457.8" cy="161.3" r="1.15"/><circle cx="447.1" cy="145.8" r="1.15"/><circle cx="463.5" cy="159.2" r="1.15"/><circle cx="454.5" cy="145.8" r="1.15"/><circle cx="446.4" cy="150.2" r="1.15"/><circle cx="457.3" cy="162.3" r="1.15"/><circle cx="451.3" cy="149.5" r="1.15"/><circle cx="453.2" cy="152.9" r="1.15"/><circle cx="450.0" cy="162.0" r="1.15"/><circle cx="458.2" cy="163.5" r="1.15"/><circle cx="483.4" cy="162.3" r="1.15"/><circle cx="458.6" cy="160.7" r="1.15"/><circle cx="460.6" cy="163.9" r="1.15"/><circle cx="450.1" cy="155.6" r="1.15"/><circle cx="462.9" cy="165.3" r="1.15"/><circle cx="448.4" cy="153.0" r="1.15"/><circle cx="460.3" cy="150.6" r="1.15"/><circle cx="449.0" cy="150.7" r="1.15"/><circle cx="454.8" cy="154.8" r="1.15"/><circle cx="446.0" cy="153.3" r="1.15"/><circle cx="472.6" cy="157.7" r="1.15"/><circle cx="463.6" cy="156.9" r="1.15"/><circle cx="455.8" cy="160.1" r="1.15"/><circle cx="458.1" cy="154.8" r="1.15"/><circle cx="450.8" cy="157.6" r="1.15"/><circle cx="473.4" cy="162.5" r="1.15"/><circle cx="483.4" cy="166.4" r="1.15"/><circle cx="452.4" cy="159.7" r="1.15"/><circle cx="459.0" cy="149.0" r="1.15"/><circle cx="446.0" cy="157.0" r="1.15"/><circle cx="471.6" cy="161.5" r="1.15"/><circle cx="447.6" cy="145.7" r="1.15"/><circle cx="479.1" cy="166.0" r="1.15"/><circle cx="465.2" cy="161.5" r="1.15"/><circle cx="455.8" cy="158.2" r="1.15"/><circle cx="466.9" cy="165.4" r="1.15"/><circle cx="474.4" cy="158.7" r="1.15"/><circle cx="464.4" cy="164.9" r="1.15"/><circle cx="466.9" cy="159.3" r="1.15"/><circle cx="449.2" cy="156.2" r="1.15"/><circle cx="462.2" cy="154.8" r="1.15"/><circle cx="454.6" cy="158.8" r="1.15"/><circle cx="460.1" cy="163.0" r="1.15"/><circle cx="477.2" cy="167.7" r="1.15"/><circle cx="479.3" cy="161.5" r="1.15"/><circle cx="447.8" cy="142.1" r="1.15"/><circle cx="464.3" cy="154.7" r="1.15"/><circle cx="449.1" cy="154.9" r="1.15"/><circle cx="444.4" cy="148.5" r="1.15"/><circle cx="481.1" cy="165.7" r="1.15"/><circle cx="442.6" cy="143.9" r="1.15"/><circle cx="445.5" cy="149.7" r="1.15"/><circle cx="481.3" cy="162.1" r="1.15"/><circle cx="455.0" cy="162.7" r="1.15"/><circle cx="461.5" cy="165.1" r="1.15"/><circle cx="465.0" cy="157.9" r="1.15"/><circle cx="460.8" cy="150.0" r="1.15"/><circle cx="441.5" cy="146.1" r="1.15"/><circle cx="449.0" cy="142.6" r="1.15"/><circle cx="453.9" cy="154.7" r="1.15"/><circle cx="450.6" cy="147.2" r="1.15"/><circle cx="472.2" cy="162.1" r="1.15"/><circle cx="456.1" cy="153.1" r="1.15"/><circle cx="466.2" cy="156.6" r="1.15"/><circle cx="454.9" cy="153.5" r="1.15"/><circle cx="441.5" cy="152.3" r="1.15"/><circle cx="446.0" cy="147.5" r="1.15"/><circle cx="479.0" cy="165.6" r="1.15"/><circle cx="445.9" cy="156.5" r="1.15"/><circle cx="453.8" cy="155.0" r="1.15"/><circle cx="459.3" cy="156.0" r="1.15"/><circle cx="443.8" cy="157.2" r="1.15"/><circle cx="465.4" cy="166.2" r="1.15"/><circle cx="463.4" cy="161.0" r="1.15"/><circle cx="460.5" cy="159.8" r="1.15"/><circle cx="457.0" cy="155.5" r="1.15"/><circle cx="456.1" cy="158.3" r="1.15"/><circle cx="460.2" cy="152.3" r="1.15"/><circle cx="457.3" cy="148.1" r="1.15"/><circle cx="467.9" cy="164.6" r="1.15"/><circle cx="449.4" cy="158.2" r="1.15"/><circle cx="463.9" cy="157.8" r="1.15"/><circle cx="441.5" cy="150.2" r="1.15"/><circle cx="463.4" cy="157.6" r="1.15"/><circle cx="460.5" cy="159.4" r="1.15"/><circle cx="446.2" cy="141.8" r="1.15"/><circle cx="456.7" cy="146.3" r="1.15"/><circle cx="451.8" cy="143.8" r="1.15"/><circle cx="482.9" cy="164.9" r="1.15"/><circle cx="464.7" cy="167.6" r="1.15"/><circle cx="459.9" cy="152.2" r="1.15"/><circle cx="451.3" cy="164.7" r="1.15"/><circle cx="450.6" cy="164.7" r="1.15"/><circle cx="455.3" cy="162.6" r="1.15"/><circle cx="471.7" cy="166.1" r="1.15"/><circle cx="452.3" cy="146.6" r="1.15"/><circle cx="445.4" cy="148.4" r="1.15"/><circle cx="454.6" cy="163.0" r="1.15"/><circle cx="445.1" cy="144.2" r="1.15"/><circle cx="449.8" cy="143.7" r="1.15"/><circle cx="457.1" cy="151.0" r="1.15"/><circle cx="448.9" cy="160.8" r="1.15"/><circle cx="449.8" cy="148.8" r="1.15"/><circle cx="455.6" cy="147.0" r="1.15"/><circle cx="457.6" cy="160.6" r="1.15"/><circle cx="467.4" cy="158.3" r="1.15"/><circle cx="449.3" cy="145.7" r="1.15"/><circle cx="477.3" cy="167.3" r="1.15"/><circle cx="449.6" cy="142.2" r="1.15"/><circle cx="477.2" cy="163.6" r="1.15"/><circle cx="453.3" cy="144.1" r="1.15"/><circle cx="463.1" cy="161.0" r="1.15"/><circle cx="446.3" cy="150.6" r="1.15"/><circle cx="448.1" cy="142.3" r="1.15"/><circle cx="480.2" cy="165.3" r="1.15"/><circle cx="461.2" cy="155.3" r="1.15"/><circle cx="459.1" cy="152.4" r="1.15"/><circle cx="477.6" cy="167.7" r="1.15"/><circle cx="472.6" cy="164.0" r="1.15"/><circle cx="450.6" cy="154.0" r="1.15"/><circle cx="473.9" cy="160.6" r="1.15"/><circle cx="480.3" cy="161.8" r="1.15"/><circle cx="478.4" cy="165.4" r="1.15"/><circle cx="464.1" cy="161.7" r="1.15"/><circle cx="460.0" cy="166.7" r="1.15"/><circle cx="466.0" cy="164.3" r="1.15"/><circle cx="464.8" cy="153.6" r="1.15"/><circle cx="477.1" cy="166.6" r="1.15"/><circle cx="462.4" cy="154.0" r="1.15"/><circle cx="443.6" cy="151.9" r="1.15"/><circle cx="443.8" cy="158.4" r="1.15"/><circle cx="449.7" cy="159.4" r="1.15"/><circle cx="460.9" cy="151.8" r="1.15"/><circle cx="448.7" cy="151.1" r="1.15"/><circle cx="458.2" cy="154.4" r="1.15"/><circle cx="447.2" cy="160.7" r="1.15"/><circle cx="463.7" cy="159.9" r="1.15"/><circle cx="481.4" cy="164.5" r="1.15"/><circle cx="447.5" cy="160.0" r="1.15"/><circle cx="460.9" cy="166.3" r="1.15"/><circle cx="464.3" cy="164.7" r="1.15"/><circle cx="443.3" cy="144.7" r="1.15"/><circle cx="466.7" cy="165.9" r="1.15"/><circle cx="465.5" cy="162.7" r="1.15"/><circle cx="450.3" cy="164.6" r="1.15"/><circle cx="479.0" cy="161.0" r="1.15"/><circle cx="476.7" cy="160.0" r="1.15"/><circle cx="445.2" cy="141.9" r="1.15"/><circle cx="445.4" cy="146.1" r="1.15"/><circle cx="473.9" cy="161.5" r="1.15"/><circle cx="450.8" cy="152.3" r="1.15"/><circle cx="452.2" cy="160.6" r="1.15"/><circle cx="476.9" cy="160.8" r="1.15"/><circle cx="454.9" cy="156.2" r="1.15"/><circle cx="454.5" cy="155.4" r="1.15"/><circle cx="477.3" cy="162.7" r="1.15"/><circle cx="451.1" cy="161.0" r="1.15"/><circle cx="450.8" cy="153.3" r="1.15"/><circle cx="454.0" cy="150.7" r="1.15"/><circle cx="441.9" cy="154.3" r="1.15"/><circle cx="469.6" cy="158.4" r="1.15"/><circle cx="455.2" cy="147.1" r="1.15"/><circle cx="468.8" cy="157.7" r="1.15"/><circle cx="450.2" cy="159.9" r="1.15"/><circle cx="479.2" cy="166.0" r="1.15"/><circle cx="481.7" cy="167.9" r="1.15"/><circle cx="463.8" cy="155.0" r="1.15"/><circle cx="481.6" cy="167.1" r="1.15"/><circle cx="464.1" cy="151.8" r="1.15"/><circle cx="475.8" cy="165.8" r="1.15"/><circle cx="464.1" cy="162.9" r="1.15"/><circle cx="458.2" cy="151.1" r="1.15"/><circle cx="457.3" cy="147.7" r="1.15"/><circle cx="447.0" cy="158.2" r="1.15"/><circle cx="463.3" cy="152.1" r="1.15"/><circle cx="448.0" cy="147.5" r="1.15"/><circle cx="465.0" cy="158.7" r="1.15"/><circle cx="468.2" cy="160.9" r="1.15"/><circle cx="456.4" cy="161.5" r="1.15"/><circle cx="446.4" cy="157.5" r="1.15"/><circle cx="477.4" cy="166.6" r="1.15"/><circle cx="476.1" cy="163.0" r="1.15"/><circle cx="453.7" cy="164.1" r="1.15"/><circle cx="452.7" cy="153.6" r="1.15"/><circle cx="445.8" cy="145.6" r="1.15"/><circle cx="475.2" cy="162.0" r="1.15"/><circle cx="444.8" cy="144.5" r="1.15"/><circle cx="478.5" cy="160.6" r="1.15"/><circle cx="445.2" cy="161.5" r="1.15"/><circle cx="461.0" cy="154.7" r="1.15"/><circle cx="464.9" cy="156.0" r="1.15"/><circle cx="459.6" cy="160.1" r="1.15"/><circle cx="444.2" cy="158.4" r="1.15"/><circle cx="445.8" cy="143.9" r="1.15"/><circle cx="470.2" cy="167.1" r="1.15"/><circle cx="447.1" cy="141.6" r="1.15"/><circle cx="472.4" cy="165.4" r="1.15"/><circle cx="441.6" cy="144.2" r="1.15"/><circle cx="443.0" cy="151.4" r="1.15"/><circle cx="454.9" cy="145.4" r="1.15"/><circle cx="452.5" cy="152.6" r="1.15"/><circle cx="469.8" cy="159.1" r="1.15"/><circle cx="464.5" cy="155.2" r="1.15"/><circle cx="480.5" cy="161.8" r="1.15"/><circle cx="451.3" cy="150.7" r="1.15"/><circle cx="447.6" cy="140.4" r="1.15"/><circle cx="465.2" cy="166.5" r="1.15"/><circle cx="453.2" cy="158.9" r="1.15"/><circle cx="450.8" cy="151.5" r="1.15"/><circle cx="466.7" cy="164.9" r="1.15"/><circle cx="465.8" cy="156.2" r="1.15"/><circle cx="461.0" cy="155.5" r="1.15"/><circle cx="449.1" cy="145.9" r="1.15"/><circle cx="462.5" cy="165.6" r="1.15"/><circle cx="461.1" cy="160.8" r="1.15"/><circle cx="443.6" cy="153.7" r="1.15"/><circle cx="443.3" cy="145.6" r="1.15"/><circle cx="449.1" cy="150.8" r="1.15"/><circle cx="453.9" cy="148.5" r="1.15"/><circle cx="444.1" cy="150.3" r="1.15"/><circle cx="447.0" cy="146.3" r="1.15"/><circle cx="448.8" cy="157.6" r="1.15"/><circle cx="467.8" cy="167.3" r="1.15"/><circle cx="461.0" cy="151.7" r="1.15"/><circle cx="476.3" cy="163.8" r="1.15"/><circle cx="450.7" cy="158.7" r="1.15"/><circle cx="453.8" cy="149.9" r="1.15"/><circle cx="477.9" cy="164.9" r="1.15"/><circle cx="461.9" cy="153.0" r="1.15"/><circle cx="480.5" cy="162.5" r="1.15"/><circle cx="463.7" cy="160.4" r="1.15"/><circle cx="445.7" cy="158.2" r="1.15"/><circle cx="459.4" cy="158.0" r="1.15"/><circle cx="449.2" cy="146.3" r="1.15"/><circle cx="470.2" cy="167.8" r="1.15"/><circle cx="445.9" cy="158.6" r="1.15"/><circle cx="447.9" cy="148.5" r="1.15"/><circle cx="457.1" cy="157.4" r="1.15"/><circle cx="473.5" cy="167.9" r="1.15"/><circle cx="465.0" cy="157.0" r="1.15"/><circle cx="464.8" cy="156.7" r="1.15"/><circle cx="469.7" cy="164.5" r="1.15"/><circle cx="470.3" cy="158.4" r="1.15"/><circle cx="465.7" cy="163.2" r="1.15"/><circle cx="463.0" cy="162.9" r="1.15"/><circle cx="449.7" cy="151.0" r="1.15"/><circle cx="464.4" cy="156.7" r="1.15"/><circle cx="458.3" cy="157.2" r="1.15"/><circle cx="453.9" cy="163.6" r="1.15"/><circle cx="448.1" cy="149.9" r="1.15"/><circle cx="462.2" cy="163.7" r="1.15"/><circle cx="441.7" cy="145.4" r="1.15"/><circle cx="462.0" cy="160.4" r="1.15"/><circle cx="443.0" cy="145.2" r="1.15"/><circle cx="481.7" cy="165.2" r="1.15"/><circle cx="479.4" cy="165.7" r="1.15"/><circle cx="474.6" cy="161.8" r="1.15"/><circle cx="474.5" cy="163.3" r="1.15"/><circle cx="457.3" cy="160.2" r="1.15"/><circle cx="450.7" cy="147.2" r="1.15"/><circle cx="471.2" cy="165.7" r="1.15"/><circle cx="468.0" cy="161.2" r="1.15"/><circle cx="452.0" cy="156.3" r="1.15"/><circle cx="454.5" cy="144.7" r="1.15"/><circle cx="458.8" cy="156.2" r="1.15"/><circle cx="455.9" cy="166.3" r="1.15"/><circle cx="460.0" cy="158.5" r="1.15"/><circle cx="449.4" cy="158.3" r="1.15"/><circle cx="448.0" cy="152.1" r="1.15"/><circle cx="444.9" cy="154.7" r="1.15"/><circle cx="458.0" cy="148.3" r="1.15"/><circle cx="473.3" cy="160.7" r="1.15"/><circle cx="443.9" cy="156.7" r="1.15"/><circle cx="450.5" cy="149.2" r="1.15"/><circle cx="451.1" cy="144.5" r="1.15"/><circle cx="452.0" cy="154.0" r="1.15"/><circle cx="475.9" cy="161.6" r="1.15"/><circle cx="446.8" cy="147.1" r="1.15"/><circle cx="454.1" cy="162.3" r="1.15"/><circle cx="481.6" cy="165.6" r="1.15"/><circle cx="477.5" cy="163.7" r="1.15"/><circle cx="451.1" cy="143.9" r="1.15"/><circle cx="446.0" cy="143.8" r="1.15"/><circle cx="453.7" cy="164.0" r="1.15"/><circle cx="451.4" cy="154.2" r="1.15"/><circle cx="454.2" cy="149.6" r="1.15"/><circle cx="446.1" cy="159.6" r="1.15"/><circle cx="453.9" cy="148.4" r="1.15"/><circle cx="459.5" cy="154.3" r="1.15"/><circle cx="445.9" cy="159.3" r="1.15"/><circle cx="443.3" cy="147.1" r="1.15"/><circle cx="455.1" cy="162.7" r="1.15"/><circle cx="448.2" cy="161.0" r="1.15"/><circle cx="459.0" cy="155.3" r="1.15"/><circle cx="475.3" cy="166.5" r="1.15"/><circle cx="470.4" cy="158.8" r="1.15"/><circle cx="453.8" cy="147.6" r="1.15"/><circle cx="457.1" cy="162.7" r="1.15"/><circle cx="456.8" cy="151.6" r="1.15"/><circle cx="449.5" cy="158.0" r="1.15"/><circle cx="461.4" cy="164.7" r="1.15"/><circle cx="441.8" cy="152.4" r="1.15"/><circle cx="476.7" cy="161.1" r="1.15"/><circle cx="456.2" cy="154.5" r="1.15"/><circle cx="444.5" cy="146.4" r="1.15"/><circle cx="453.3" cy="155.6" r="1.15"/><circle cx="471.0" cy="158.2" r="1.15"/><circle cx="454.3" cy="149.6" r="1.15"/><circle cx="457.2" cy="148.2" r="1.15"/><circle cx="449.9" cy="153.8" r="1.15"/><circle cx="447.4" cy="149.1" r="1.15"/><circle cx="445.5" cy="145.3" r="1.15"/></g><g fill="#e31a1c"><circle cx="488.1" cy="164.3" r="1.15"/><circle cx="510.2" cy="151.4" r="1.15"/><circle cx="508.1" cy="155.4" r="1.15"/><circle cx="492.1" cy="162.5" r="1.15"/><circle cx="519.4" cy="151.0" r="1.15"/><circle cx="516.3" cy="153.9" r="1.15"/><circle cx="491.7" cy="163.3" r="1.15"/><circle cx="520.1" cy="152.7" r="1.15"/><circle cx="514.5" cy="152.3" r="1.15"/><circle cx="503.9" cy="156.3" r="1.15"/><circle cx="511.0" cy="156.0" r="1.15"/><circle cx="506.2" cy="156.7" r="1.15"/><circle cx="486.7" cy="162.9" r="1.15"/><circle cx="507.9" cy="160.4" r="1.15"/><circle cx="515.2" cy="153.1" r="1.15"/><circle cx="514.2" cy="158.5" r="1.15"/><circle cx="496.1" cy="159.7" r="1.15"/><circle cx="494.8" cy="164.1" r="1.15"/><circle cx="518.0" cy="150.0" r="1.15"/><circle cx="497.8" cy="159.2" r="1.15"/><circle cx="513.1" cy="153.1" r="1.15"/><circle cx="489.9" cy="162.7" r="1.15"/><circle cx="495.7" cy="160.7" r="1.15"/><circle cx="500.3" cy="160.9" r="1.15"/><circle cx="509.4" cy="151.4" r="1.15"/><circle cx="510.5" cy="155.1" r="1.15"/><circle cx="500.8" cy="158.6" r="1.15"/><circle cx="485.3" cy="162.0" r="1.15"/><circle cx="492.3" cy="163.4" r="1.15"/><circle cx="513.4" cy="148.9" r="1.15"/><circle cx="500.6" cy="157.4" r="1.15"/><circle cx="493.6" cy="159.7" r="1.15"/><circle cx="520.1" cy="148.9" r="1.15"/><circle cx="498.2" cy="163.9" r="1.15"/><circle cx="509.5" cy="161.1" r="1.15"/><circle cx="514.0" cy="149.7" r="1.15"/><circle cx="501.8" cy="161.2" r="1.15"/><circle cx="508.6" cy="158.9" r="1.15"/><circle cx="497.6" cy="160.4" r="1.15"/><circle cx="509.4" cy="155.0" r="1.15"/><circle cx="517.9" cy="152.3" r="1.15"/><circle cx="519.8" cy="149.7" r="1.15"/><circle cx="497.5" cy="161.3" r="1.15"/><circle cx="499.3" cy="161.6" r="1.15"/><circle cx="495.6" cy="163.8" r="1.15"/><circle cx="505.2" cy="154.3" r="1.15"/><circle cx="515.3" cy="154.0" r="1.15"/><circle cx="521.2" cy="149.6" r="1.15"/><circle cx="502.8" cy="154.5" r="1.15"/><circle cx="507.6" cy="158.5" r="1.15"/><circle cx="493.9" cy="164.5" r="1.15"/><circle cx="501.1" cy="162.3" r="1.15"/><circle cx="503.6" cy="158.4" r="1.15"/><circle cx="513.3" cy="150.8" r="1.15"/><circle cx="485.7" cy="163.1" r="1.15"/><circle cx="514.4" cy="150.2" r="1.15"/><circle cx="516.9" cy="147.2" r="1.15"/><circle cx="509.4" cy="154.1" r="1.15"/><circle cx="486.7" cy="164.6" r="1.15"/><circle cx="486.7" cy="164.7" r="1.15"/><circle cx="492.9" cy="160.8" r="1.15"/><circle cx="488.6" cy="160.6" r="1.15"/><circle cx="498.1" cy="161.4" r="1.15"/><circle cx="504.7" cy="160.0" r="1.15"/><circle cx="485.0" cy="164.5" r="1.15"/><circle cx="492.3" cy="160.1" r="1.15"/><circle cx="499.4" cy="158.2" r="1.15"/><circle cx="499.5" cy="156.7" r="1.15"/><circle cx="516.2" cy="152.2" r="1.15"/><circle cx="514.1" cy="154.9" r="1.15"/><circle cx="501.9" cy="163.0" r="1.15"/><circle cx="509.5" cy="152.4" r="1.15"/><circle cx="491.3" cy="161.9" r="1.15"/><circle cx="520.5" cy="149.4" r="1.15"/><circle cx="510.6" cy="160.6" r="1.15"/><circle cx="489.3" cy="165.5" r="1.15"/><circle cx="515.3" cy="157.5" r="1.15"/><circle cx="508.5" cy="153.4" r="1.15"/><circle cx="487.1" cy="163.0" r="1.15"/><circle cx="512.4" cy="153.8" r="1.15"/><circle cx="516.7" cy="152.9" r="1.15"/><circle cx="503.9" cy="158.1" r="1.15"/><circle cx="503.8" cy="155.4" r="1.15"/><circle cx="502.3" cy="160.1" r="1.15"/><circle cx="486.5" cy="162.7" r="1.15"/><circle cx="519.1" cy="154.7" r="1.15"/><circle cx="508.4" cy="155.4" r="1.15"/><circle cx="507.7" cy="154.5" r="1.15"/><circle cx="501.9" cy="159.3" r="1.15"/><circle cx="517.1" cy="146.9" r="1.15"/><circle cx="506.6" cy="159.1" r="1.15"/><circle cx="505.8" cy="160.4" r="1.15"/><circle cx="486.8" cy="161.3" r="1.15"/><circle cx="488.7" cy="163.7" r="1.15"/><circle cx="487.8" cy="162.9" r="1.15"/><circle cx="485.6" cy="162.1" r="1.15"/><circle cx="498.7" cy="160.1" r="1.15"/><circle cx="514.2" cy="153.4" r="1.15"/><circle cx="498.5" cy="158.7" r="1.15"/><circle cx="484.8" cy="165.2" r="1.15"/><circle cx="489.5" cy="162.2" r="1.15"/><circle cx="517.1" cy="157.5" r="1.15"/><circle cx="519.9" cy="150.8" r="1.15"/><circle cx="520.1" cy="147.7" r="1.15"/><circle cx="502.5" cy="163.2" r="1.15"/><circle cx="491.1" cy="162.4" r="1.15"/><circle cx="501.6" cy="161.0" r="1.15"/><circle cx="510.3" cy="154.1" r="1.15"/><circle cx="503.8" cy="154.2" r="1.15"/><circle cx="517.2" cy="152.4" r="1.15"/><circle cx="493.5" cy="163.0" r="1.15"/><circle cx="510.1" cy="151.2" r="1.15"/><circle cx="520.5" cy="150.7" r="1.15"/><circle cx="515.2" cy="158.0" r="1.15"/><circle cx="507.3" cy="152.4" r="1.15"/><circle cx="492.1" cy="164.2" r="1.15"/><circle cx="500.7" cy="161.5" r="1.15"/><circle cx="497.7" cy="161.0" r="1.15"/><circle cx="487.3" cy="164.6" r="1.15"/><circle cx="518.5" cy="154.4" r="1.15"/><circle cx="499.2" cy="162.1" r="1.15"/><circle cx="505.0" cy="159.7" r="1.15"/><circle cx="519.8" cy="152.7" r="1.15"/><circle cx="504.4" cy="155.6" r="1.15"/><circle cx="512.5" cy="150.9" r="1.15"/><circle cx="496.7" cy="162.8" r="1.15"/><circle cx="502.3" cy="157.4" r="1.15"/><circle cx="488.9" cy="165.3" r="1.15"/><circle cx="510.3" cy="155.3" r="1.15"/><circle cx="491.2" cy="159.8" r="1.15"/><circle cx="503.5" cy="159.0" r="1.15"/><circle cx="508.9" cy="158.7" r="1.15"/><circle cx="517.1" cy="156.3" r="1.15"/><circle cx="495.2" cy="158.3" r="1.15"/><circle cx="502.2" cy="158.8" r="1.15"/><circle cx="520.6" cy="148.3" r="1.15"/><circle cx="498.5" cy="160.9" r="1.15"/><circle cx="486.7" cy="162.0" r="1.15"/><circle cx="503.4" cy="157.3" r="1.15"/><circle cx="518.9" cy="147.6" r="1.15"/><circle cx="513.5" cy="155.7" r="1.15"/><circle cx="519.8" cy="152.4" r="1.15"/><circle cx="511.4" cy="156.6" r="1.15"/><circle cx="506.9" cy="155.8" r="1.15"/><circle cx="502.5" cy="156.4" r="1.15"/><circle cx="506.5" cy="156.5" r="1.15"/><circle cx="487.7" cy="163.3" r="1.15"/><circle cx="484.7" cy="162.9" r="1.15"/><circle cx="514.9" cy="156.0" r="1.15"/><circle cx="494.2" cy="158.4" r="1.15"/><circle cx="506.6" cy="157.6" r="1.15"/><circle cx="509.9" cy="158.9" r="1.15"/><circle cx="517.4" cy="154.6" r="1.15"/><circle cx="516.0" cy="157.8" r="1.15"/><circle cx="508.6" cy="160.5" r="1.15"/><circle cx="514.1" cy="154.8" r="1.15"/><circle cx="496.0" cy="158.6" r="1.15"/><circle cx="511.2" cy="155.0" r="1.15"/><circle cx="511.2" cy="158.0" r="1.15"/><circle cx="515.5" cy="149.4" r="1.15"/><circle cx="519.1" cy="153.2" r="1.15"/><circle cx="489.8" cy="160.6" r="1.15"/><circle cx="500.7" cy="159.3" r="1.15"/><circle cx="503.7" cy="159.9" r="1.15"/><circle cx="507.6" cy="155.0" r="1.15"/><circle cx="515.7" cy="157.5" r="1.15"/><circle cx="501.2" cy="160.6" r="1.15"/><circle cx="517.6" cy="156.2" r="1.15"/><circle cx="515.2" cy="151.9" r="1.15"/><circle cx="490.1" cy="163.9" r="1.15"/><circle cx="488.6" cy="164.9" r="1.15"/><circle cx="504.1" cy="161.1" r="1.15"/><circle cx="502.8" cy="162.1" r="1.15"/><circle cx="510.7" cy="160.6" r="1.15"/><circle cx="485.0" cy="164.0" r="1.15"/><circle cx="491.6" cy="164.8" r="1.15"/><circle cx="504.0" cy="154.5" r="1.15"/><circle cx="514.3" cy="156.6" r="1.15"/><circle cx="497.3" cy="163.8" r="1.15"/><circle cx="506.8" cy="161.8" r="1.15"/><circle cx="503.3" cy="154.5" r="1.15"/><circle cx="499.1" cy="162.5" r="1.15"/><circle cx="504.6" cy="159.7" r="1.15"/><circle cx="493.1" cy="162.2" r="1.15"/><circle cx="513.6" cy="151.4" r="1.15"/><circle cx="490.3" cy="161.3" r="1.15"/><circle cx="497.4" cy="162.4" r="1.15"/><circle cx="508.2" cy="154.1" r="1.15"/><circle cx="491.5" cy="164.2" r="1.15"/><circle cx="503.8" cy="159.4" r="1.15"/><circle cx="516.7" cy="150.5" r="1.15"/><circle cx="501.8" cy="160.9" r="1.15"/><circle cx="504.6" cy="155.4" r="1.15"/><circle cx="488.3" cy="161.1" r="1.15"/><circle cx="500.9" cy="158.7" r="1.15"/><circle cx="516.2" cy="153.8" r="1.15"/><circle cx="507.6" cy="153.6" r="1.15"/><circle cx="511.7" cy="152.5" r="1.15"/><circle cx="500.0" cy="157.2" r="1.15"/><circle cx="506.1" cy="161.5" r="1.15"/></g><g fill="#c8a8d8"><circle cx="505.9" cy="98.2" r="1.15"/><circle cx="512.6" cy="77.6" r="1.15"/><circle cx="517.2" cy="87.8" r="1.15"/><circle cx="492.5" cy="99.5" r="1.15"/><circle cx="496.9" cy="101.2" r="1.15"/><circle cx="502.4" cy="91.4" r="1.15"/><circle cx="504.8" cy="97.2" r="1.15"/><circle cx="501.2" cy="90.1" r="1.15"/><circle cx="496.2" cy="85.1" r="1.15"/><circle cx="491.4" cy="82.9" r="1.15"/><circle cx="498.1" cy="95.2" r="1.15"/><circle cx="492.8" cy="79.9" r="1.15"/><circle cx="525.9" cy="93.8" r="1.15"/><circle cx="490.4" cy="100.1" r="1.15"/><circle cx="517.4" cy="92.9" r="1.15"/><circle cx="525.5" cy="90.7" r="1.15"/><circle cx="490.6" cy="88.7" r="1.15"/><circle cx="509.1" cy="99.3" r="1.15"/><circle cx="490.8" cy="85.9" r="1.15"/><circle cx="524.4" cy="97.7" r="1.15"/><circle cx="488.8" cy="92.3" r="1.15"/><circle cx="494.2" cy="81.9" r="1.15"/><circle cx="499.9" cy="82.5" r="1.15"/><circle cx="498.8" cy="81.9" r="1.15"/><circle cx="500.8" cy="92.3" r="1.15"/><circle cx="509.5" cy="96.3" r="1.15"/><circle cx="509.9" cy="84.4" r="1.15"/><circle cx="495.4" cy="87.2" r="1.15"/><circle cx="524.9" cy="92.6" r="1.15"/><circle cx="515.7" cy="76.8" r="1.15"/><circle cx="508.7" cy="95.4" r="1.15"/><circle cx="521.6" cy="97.2" r="1.15"/><circle cx="505.8" cy="102.0" r="1.15"/><circle cx="524.9" cy="96.8" r="1.15"/><circle cx="490.3" cy="93.9" r="1.15"/><circle cx="491.7" cy="87.6" r="1.15"/><circle cx="492.2" cy="84.1" r="1.15"/><circle cx="489.1" cy="90.9" r="1.15"/><circle cx="490.7" cy="82.4" r="1.15"/><circle cx="518.1" cy="83.9" r="1.15"/><circle cx="510.2" cy="100.2" r="1.15"/><circle cx="512.4" cy="98.8" r="1.15"/><circle cx="524.3" cy="82.5" r="1.15"/><circle cx="523.7" cy="84.7" r="1.15"/><circle cx="496.1" cy="100.1" r="1.15"/><circle cx="491.2" cy="100.1" r="1.15"/><circle cx="495.9" cy="97.4" r="1.15"/><circle cx="492.1" cy="89.8" r="1.15"/><circle cx="510.0" cy="91.4" r="1.15"/><circle cx="515.3" cy="99.8" r="1.15"/><circle cx="507.9" cy="82.2" r="1.15"/><circle cx="518.9" cy="87.8" r="1.15"/><circle cx="497.5" cy="97.5" r="1.15"/><circle cx="517.6" cy="99.0" r="1.15"/><circle cx="506.8" cy="75.9" r="1.15"/><circle cx="487.9" cy="91.2" r="1.15"/><circle cx="488.5" cy="93.2" r="1.15"/><circle cx="492.3" cy="97.6" r="1.15"/><circle cx="506.0" cy="90.2" r="1.15"/><circle cx="521.0" cy="83.6" r="1.15"/><circle cx="525.9" cy="83.9" r="1.15"/><circle cx="488.5" cy="83.5" r="1.15"/><circle cx="501.7" cy="92.5" r="1.15"/><circle cx="518.1" cy="96.8" r="1.15"/><circle cx="514.5" cy="99.9" r="1.15"/><circle cx="494.1" cy="87.2" r="1.15"/><circle cx="495.0" cy="101.9" r="1.15"/><circle cx="505.8" cy="99.2" r="1.15"/><circle cx="497.1" cy="92.6" r="1.15"/><circle cx="516.8" cy="85.2" r="1.15"/><circle cx="497.7" cy="77.9" r="1.15"/><circle cx="512.1" cy="87.2" r="1.15"/><circle cx="495.0" cy="84.6" r="1.15"/><circle cx="499.8" cy="79.1" r="1.15"/><circle cx="510.7" cy="79.9" r="1.15"/><circle cx="495.6" cy="85.8" r="1.15"/><circle cx="526.5" cy="95.7" r="1.15"/><circle cx="495.5" cy="99.6" r="1.15"/><circle cx="524.5" cy="84.9" r="1.15"/><circle cx="518.9" cy="93.4" r="1.15"/><circle cx="509.2" cy="101.3" r="1.15"/><circle cx="513.8" cy="94.0" r="1.15"/><circle cx="524.5" cy="88.5" r="1.15"/><circle cx="515.9" cy="88.9" r="1.15"/><circle cx="522.1" cy="103.2" r="1.15"/><circle cx="497.2" cy="81.2" r="1.15"/><circle cx="509.9" cy="76.1" r="1.15"/><circle cx="498.9" cy="88.1" r="1.15"/><circle cx="494.8" cy="95.1" r="1.15"/><circle cx="517.4" cy="99.2" r="1.15"/><circle cx="508.9" cy="97.0" r="1.15"/><circle cx="518.8" cy="96.3" r="1.15"/><circle cx="499.7" cy="91.9" r="1.15"/><circle cx="520.0" cy="82.5" r="1.15"/><circle cx="511.0" cy="78.8" r="1.15"/><circle cx="504.8" cy="80.8" r="1.15"/><circle cx="500.2" cy="102.8" r="1.15"/><circle cx="516.5" cy="92.2" r="1.15"/><circle cx="506.4" cy="94.0" r="1.15"/><circle cx="519.4" cy="80.9" r="1.15"/><circle cx="508.6" cy="83.2" r="1.15"/><circle cx="494.5" cy="81.7" r="1.15"/><circle cx="518.5" cy="102.1" r="1.15"/><circle cx="504.3" cy="80.5" r="1.15"/><circle cx="494.1" cy="84.2" r="1.15"/><circle cx="501.9" cy="100.7" r="1.15"/><circle cx="508.0" cy="89.5" r="1.15"/><circle cx="512.1" cy="80.5" r="1.15"/><circle cx="501.8" cy="88.0" r="1.15"/><circle cx="489.6" cy="84.2" r="1.15"/><circle cx="509.9" cy="92.7" r="1.15"/><circle cx="497.6" cy="77.6" r="1.15"/><circle cx="509.8" cy="79.9" r="1.15"/><circle cx="516.3" cy="102.2" r="1.15"/><circle cx="499.7" cy="97.5" r="1.15"/><circle cx="521.1" cy="93.4" r="1.15"/><circle cx="488.4" cy="83.3" r="1.15"/><circle cx="502.0" cy="88.0" r="1.15"/><circle cx="509.9" cy="80.8" r="1.15"/><circle cx="503.1" cy="78.8" r="1.15"/><circle cx="520.7" cy="82.0" r="1.15"/><circle cx="507.3" cy="92.0" r="1.15"/><circle cx="488.6" cy="91.1" r="1.15"/><circle cx="519.1" cy="82.3" r="1.15"/><circle cx="512.2" cy="96.1" r="1.15"/><circle cx="509.4" cy="85.7" r="1.15"/><circle cx="507.5" cy="94.5" r="1.15"/><circle cx="504.5" cy="96.5" r="1.15"/><circle cx="517.0" cy="96.9" r="1.15"/><circle cx="504.4" cy="79.7" r="1.15"/><circle cx="494.0" cy="83.9" r="1.15"/><circle cx="509.5" cy="77.2" r="1.15"/><circle cx="499.4" cy="79.7" r="1.15"/><circle cx="508.4" cy="81.2" r="1.15"/><circle cx="519.9" cy="77.3" r="1.15"/><circle cx="501.3" cy="96.8" r="1.15"/><circle cx="520.4" cy="86.7" r="1.15"/><circle cx="524.7" cy="100.5" r="1.15"/><circle cx="509.5" cy="84.9" r="1.15"/><circle cx="494.7" cy="95.1" r="1.15"/><circle cx="489.4" cy="94.0" r="1.15"/><circle cx="496.2" cy="80.8" r="1.15"/><circle cx="511.6" cy="86.6" r="1.15"/><circle cx="518.6" cy="86.6" r="1.15"/><circle cx="518.2" cy="93.1" r="1.15"/><circle cx="511.0" cy="82.5" r="1.15"/><circle cx="500.0" cy="94.3" r="1.15"/><circle cx="504.7" cy="103.7" r="1.15"/><circle cx="513.0" cy="95.3" r="1.15"/><circle cx="520.4" cy="78.7" r="1.15"/><circle cx="494.1" cy="89.0" r="1.15"/><circle cx="498.1" cy="79.2" r="1.15"/><circle cx="504.1" cy="79.3" r="1.15"/><circle cx="515.1" cy="93.9" r="1.15"/><circle cx="500.8" cy="98.4" r="1.15"/><circle cx="488.8" cy="87.4" r="1.15"/><circle cx="493.0" cy="89.2" r="1.15"/><circle cx="501.0" cy="77.4" r="1.15"/><circle cx="520.6" cy="98.0" r="1.15"/><circle cx="510.5" cy="87.4" r="1.15"/><circle cx="509.3" cy="89.8" r="1.15"/><circle cx="509.8" cy="84.6" r="1.15"/><circle cx="519.6" cy="90.3" r="1.15"/><circle cx="496.4" cy="92.2" r="1.15"/><circle cx="518.1" cy="89.7" r="1.15"/><circle cx="500.0" cy="91.0" r="1.15"/><circle cx="514.6" cy="80.7" r="1.15"/><circle cx="522.4" cy="87.2" r="1.15"/><circle cx="503.7" cy="90.3" r="1.15"/><circle cx="517.4" cy="80.4" r="1.15"/><circle cx="494.3" cy="89.4" r="1.15"/><circle cx="487.6" cy="87.9" r="1.15"/><circle cx="492.1" cy="81.2" r="1.15"/><circle cx="501.6" cy="101.0" r="1.15"/><circle cx="511.5" cy="83.5" r="1.15"/><circle cx="512.5" cy="90.0" r="1.15"/><circle cx="515.1" cy="98.5" r="1.15"/><circle cx="507.6" cy="86.3" r="1.15"/><circle cx="504.8" cy="98.9" r="1.15"/><circle cx="504.5" cy="91.0" r="1.15"/><circle cx="517.4" cy="100.3" r="1.15"/><circle cx="510.3" cy="90.5" r="1.15"/><circle cx="491.0" cy="86.2" r="1.15"/><circle cx="494.6" cy="97.5" r="1.15"/><circle cx="513.8" cy="79.4" r="1.15"/><circle cx="510.2" cy="100.4" r="1.15"/><circle cx="520.9" cy="86.2" r="1.15"/><circle cx="501.7" cy="90.6" r="1.15"/><circle cx="503.7" cy="103.3" r="1.15"/><circle cx="521.1" cy="101.0" r="1.15"/><circle cx="524.9" cy="85.8" r="1.15"/><circle cx="497.5" cy="92.6" r="1.15"/><circle cx="502.9" cy="81.5" r="1.15"/><circle cx="490.4" cy="86.7" r="1.15"/><circle cx="520.0" cy="98.4" r="1.15"/><circle cx="505.2" cy="87.0" r="1.15"/><circle cx="492.6" cy="98.2" r="1.15"/><circle cx="517.3" cy="81.7" r="1.15"/><circle cx="513.8" cy="100.9" r="1.15"/><circle cx="501.4" cy="82.1" r="1.15"/><circle cx="516.8" cy="93.3" r="1.15"/><circle cx="500.0" cy="95.6" r="1.15"/><circle cx="494.5" cy="89.2" r="1.15"/><circle cx="517.8" cy="85.4" r="1.15"/><circle cx="492.0" cy="94.8" r="1.15"/><circle cx="514.4" cy="92.8" r="1.15"/><circle cx="523.3" cy="86.1" r="1.15"/><circle cx="507.4" cy="88.4" r="1.15"/><circle cx="521.2" cy="84.9" r="1.15"/><circle cx="496.6" cy="86.0" r="1.15"/><circle cx="520.0" cy="96.7" r="1.15"/><circle cx="494.5" cy="98.8" r="1.15"/><circle cx="526.5" cy="85.1" r="1.15"/><circle cx="518.6" cy="95.3" r="1.15"/><circle cx="511.7" cy="82.1" r="1.15"/><circle cx="500.3" cy="99.0" r="1.15"/><circle cx="521.2" cy="99.9" r="1.15"/><circle cx="516.3" cy="96.2" r="1.15"/><circle cx="519.8" cy="102.3" r="1.15"/><circle cx="523.8" cy="100.6" r="1.15"/><circle cx="499.9" cy="101.7" r="1.15"/><circle cx="521.7" cy="91.1" r="1.15"/><circle cx="525.2" cy="84.9" r="1.15"/><circle cx="522.3" cy="98.5" r="1.15"/><circle cx="504.1" cy="94.1" r="1.15"/><circle cx="498.3" cy="81.2" r="1.15"/><circle cx="506.5" cy="89.1" r="1.15"/><circle cx="506.5" cy="96.0" r="1.15"/><circle cx="494.4" cy="98.2" r="1.15"/><circle cx="500.0" cy="86.9" r="1.15"/><circle cx="522.9" cy="96.6" r="1.15"/><circle cx="516.1" cy="98.1" r="1.15"/><circle cx="503.9" cy="85.4" r="1.15"/><circle cx="507.9" cy="99.7" r="1.15"/><circle cx="494.0" cy="95.5" r="1.15"/><circle cx="506.0" cy="102.4" r="1.15"/><circle cx="515.4" cy="101.8" r="1.15"/><circle cx="503.5" cy="88.7" r="1.15"/><circle cx="497.0" cy="81.4" r="1.15"/><circle cx="499.5" cy="81.6" r="1.15"/><circle cx="512.0" cy="91.7" r="1.15"/><circle cx="516.5" cy="96.9" r="1.15"/><circle cx="525.8" cy="90.5" r="1.15"/><circle cx="511.6" cy="90.6" r="1.15"/><circle cx="506.1" cy="85.2" r="1.15"/><circle cx="499.4" cy="85.0" r="1.15"/><circle cx="507.3" cy="88.2" r="1.15"/><circle cx="508.9" cy="94.6" r="1.15"/><circle cx="526.5" cy="92.1" r="1.15"/><circle cx="526.6" cy="84.5" r="1.15"/><circle cx="511.3" cy="92.1" r="1.15"/><circle cx="505.0" cy="88.6" r="1.15"/><circle cx="490.0" cy="98.5" r="1.15"/><circle cx="506.2" cy="85.4" r="1.15"/><circle cx="499.3" cy="102.5" r="1.15"/><circle cx="500.4" cy="92.0" r="1.15"/><circle cx="503.6" cy="94.4" r="1.15"/><circle cx="509.3" cy="90.7" r="1.15"/><circle cx="507.7" cy="83.5" r="1.15"/><circle cx="516.7" cy="84.8" r="1.15"/><circle cx="500.2" cy="93.9" r="1.15"/><circle cx="515.2" cy="99.2" r="1.15"/><circle cx="525.2" cy="91.4" r="1.15"/><circle cx="488.9" cy="94.5" r="1.15"/><circle cx="501.2" cy="92.8" r="1.15"/><circle cx="494.0" cy="86.8" r="1.15"/><circle cx="496.8" cy="94.8" r="1.15"/><circle cx="524.9" cy="86.0" r="1.15"/><circle cx="507.1" cy="93.6" r="1.15"/><circle cx="517.6" cy="85.7" r="1.15"/><circle cx="497.7" cy="94.2" r="1.15"/><circle cx="499.4" cy="89.7" r="1.15"/><circle cx="512.2" cy="91.3" r="1.15"/><circle cx="525.9" cy="85.4" r="1.15"/><circle cx="495.6" cy="87.1" r="1.15"/><circle cx="522.9" cy="99.9" r="1.15"/><circle cx="496.4" cy="97.7" r="1.15"/><circle cx="514.7" cy="80.2" r="1.15"/><circle cx="518.6" cy="100.2" r="1.15"/><circle cx="519.6" cy="85.4" r="1.15"/><circle cx="519.8" cy="82.9" r="1.15"/><circle cx="502.7" cy="84.2" r="1.15"/><circle cx="519.8" cy="97.3" r="1.15"/><circle cx="508.3" cy="90.8" r="1.15"/><circle cx="498.7" cy="92.2" r="1.15"/><circle cx="488.9" cy="96.1" r="1.15"/><circle cx="525.2" cy="88.5" r="1.15"/><circle cx="505.6" cy="92.2" r="1.15"/><circle cx="502.2" cy="102.0" r="1.15"/><circle cx="495.6" cy="89.4" r="1.15"/><circle cx="514.6" cy="96.8" r="1.15"/><circle cx="499.3" cy="79.0" r="1.15"/><circle cx="514.6" cy="79.1" r="1.15"/><circle cx="522.2" cy="98.7" r="1.15"/><circle cx="507.3" cy="100.9" r="1.15"/><circle cx="518.2" cy="94.7" r="1.15"/><circle cx="497.4" cy="78.1" r="1.15"/><circle cx="514.0" cy="95.5" r="1.15"/><circle cx="524.8" cy="86.4" r="1.15"/><circle cx="501.5" cy="100.0" r="1.15"/><circle cx="518.7" cy="103.4" r="1.15"/><circle cx="503.5" cy="98.2" r="1.15"/><circle cx="495.3" cy="90.9" r="1.15"/><circle cx="517.1" cy="96.0" r="1.15"/><circle cx="514.8" cy="78.0" r="1.15"/><circle cx="519.8" cy="91.6" r="1.15"/><circle cx="511.9" cy="81.8" r="1.15"/><circle cx="518.6" cy="97.2" r="1.15"/><circle cx="497.0" cy="102.0" r="1.15"/><circle cx="503.6" cy="100.0" r="1.15"/><circle cx="496.3" cy="86.1" r="1.15"/><circle cx="492.7" cy="79.9" r="1.15"/><circle cx="507.7" cy="89.2" r="1.15"/><circle cx="512.4" cy="90.3" r="1.15"/><circle cx="498.0" cy="87.4" r="1.15"/><circle cx="523.4" cy="87.6" r="1.15"/><circle cx="507.1" cy="101.8" r="1.15"/><circle cx="503.0" cy="99.8" r="1.15"/><circle cx="489.7" cy="95.7" r="1.15"/><circle cx="491.8" cy="83.3" r="1.15"/><circle cx="522.7" cy="98.1" r="1.15"/><circle cx="507.0" cy="78.7" r="1.15"/><circle cx="507.8" cy="101.1" r="1.15"/><circle cx="510.5" cy="76.1" r="1.15"/><circle cx="515.5" cy="93.3" r="1.15"/><circle cx="514.1" cy="97.3" r="1.15"/><circle cx="500.0" cy="80.0" r="1.15"/><circle cx="498.0" cy="82.0" r="1.15"/><circle cx="509.3" cy="83.3" r="1.15"/><circle cx="496.2" cy="93.3" r="1.15"/><circle cx="504.9" cy="77.9" r="1.15"/><circle cx="502.5" cy="83.5" r="1.15"/><circle cx="518.9" cy="82.3" r="1.15"/><circle cx="512.6" cy="94.7" r="1.15"/><circle cx="503.7" cy="76.8" r="1.15"/><circle cx="508.4" cy="78.6" r="1.15"/><circle cx="496.6" cy="101.9" r="1.15"/><circle cx="522.9" cy="83.3" r="1.15"/><circle cx="500.8" cy="85.2" r="1.15"/><circle cx="512.3" cy="84.2" r="1.15"/><circle cx="505.7" cy="94.1" r="1.15"/><circle cx="498.0" cy="79.3" r="1.15"/><circle cx="513.1" cy="94.1" r="1.15"/><circle cx="520.8" cy="92.4" r="1.15"/><circle cx="514.0" cy="103.3" r="1.15"/><circle cx="495.1" cy="86.8" r="1.15"/><circle cx="492.9" cy="101.1" r="1.15"/><circle cx="510.5" cy="100.4" r="1.15"/><circle cx="513.3" cy="85.2" r="1.15"/><circle cx="515.4" cy="83.2" r="1.15"/><circle cx="507.2" cy="93.4" r="1.15"/><circle cx="518.1" cy="82.5" r="1.15"/><circle cx="517.2" cy="91.0" r="1.15"/><circle cx="512.1" cy="78.2" r="1.15"/><circle cx="508.0" cy="78.1" r="1.15"/><circle cx="512.2" cy="98.1" r="1.15"/><circle cx="502.3" cy="87.9" r="1.15"/><circle cx="512.0" cy="91.4" r="1.15"/><circle cx="514.4" cy="85.4" r="1.15"/><circle cx="489.2" cy="94.8" r="1.15"/><circle cx="496.0" cy="95.6" r="1.15"/><circle cx="513.1" cy="100.0" r="1.15"/><circle cx="489.4" cy="89.2" r="1.15"/><circle cx="500.6" cy="85.2" r="1.15"/><circle cx="497.3" cy="99.2" r="1.15"/><circle cx="505.2" cy="91.2" r="1.15"/><circle cx="491.7" cy="91.3" r="1.15"/><circle cx="512.3" cy="79.0" r="1.15"/><circle cx="500.5" cy="83.1" r="1.15"/><circle cx="509.1" cy="77.8" r="1.15"/><circle cx="526.3" cy="86.6" r="1.15"/><circle cx="517.0" cy="101.1" r="1.15"/><circle cx="504.6" cy="86.2" r="1.15"/><circle cx="511.9" cy="84.2" r="1.15"/><circle cx="496.9" cy="101.5" r="1.15"/><circle cx="512.7" cy="89.7" r="1.15"/><circle cx="505.4" cy="98.2" r="1.15"/><circle cx="516.6" cy="83.5" r="1.15"/><circle cx="499.5" cy="87.2" r="1.15"/><circle cx="489.2" cy="87.5" r="1.15"/><circle cx="491.6" cy="94.5" r="1.15"/><circle cx="500.3" cy="84.8" r="1.15"/><circle cx="495.7" cy="82.6" r="1.15"/><circle cx="496.2" cy="100.8" r="1.15"/><circle cx="505.2" cy="91.1" r="1.15"/><circle cx="499.8" cy="102.7" r="1.15"/><circle cx="510.9" cy="80.3" r="1.15"/><circle cx="495.5" cy="87.7" r="1.15"/><circle cx="523.4" cy="97.5" r="1.15"/><circle cx="518.4" cy="92.0" r="1.15"/><circle cx="494.9" cy="94.1" r="1.15"/><circle cx="510.1" cy="79.8" r="1.15"/><circle cx="489.3" cy="90.5" r="1.15"/><circle cx="523.7" cy="84.8" r="1.15"/><circle cx="512.5" cy="78.5" r="1.15"/><circle cx="522.1" cy="100.8" r="1.15"/><circle cx="499.0" cy="96.0" r="1.15"/><circle cx="516.6" cy="87.8" r="1.15"/><circle cx="498.5" cy="78.8" r="1.15"/><circle cx="520.1" cy="96.5" r="1.15"/><circle cx="496.2" cy="94.3" r="1.15"/><circle cx="507.5" cy="91.7" r="1.15"/><circle cx="503.7" cy="91.6" r="1.15"/><circle cx="509.4" cy="84.6" r="1.15"/><circle cx="501.7" cy="80.2" r="1.15"/><circle cx="512.2" cy="98.9" r="1.15"/><circle cx="496.1" cy="92.3" r="1.15"/><circle cx="502.6" cy="80.7" r="1.15"/><circle cx="516.7" cy="79.3" r="1.15"/><circle cx="498.3" cy="90.0" r="1.15"/><circle cx="494.9" cy="92.1" r="1.15"/><circle cx="506.0" cy="81.9" r="1.15"/><circle cx="514.1" cy="93.7" r="1.15"/><circle cx="525.0" cy="85.1" r="1.15"/><circle cx="518.1" cy="93.3" r="1.15"/><circle cx="509.9" cy="76.5" r="1.15"/><circle cx="499.3" cy="87.7" r="1.15"/><circle cx="520.0" cy="78.7" r="1.15"/><circle cx="509.4" cy="82.3" r="1.15"/><circle cx="508.1" cy="86.7" r="1.15"/><circle cx="497.6" cy="88.5" r="1.15"/><circle cx="498.1" cy="102.4" r="1.15"/><circle cx="505.4" cy="79.1" r="1.15"/><circle cx="516.7" cy="80.2" r="1.15"/><circle cx="516.8" cy="97.6" r="1.15"/><circle cx="523.9" cy="90.3" r="1.15"/><circle cx="516.9" cy="98.1" r="1.15"/><circle cx="519.6" cy="92.8" r="1.15"/><circle cx="522.8" cy="96.7" r="1.15"/><circle cx="502.3" cy="86.0" r="1.15"/><circle cx="520.6" cy="101.9" r="1.15"/><circle cx="502.1" cy="101.8" r="1.15"/><circle cx="518.8" cy="95.3" r="1.15"/><circle cx="500.5" cy="83.3" r="1.15"/><circle cx="498.6" cy="95.1" r="1.15"/><circle cx="505.5" cy="81.8" r="1.15"/><circle cx="492.9" cy="98.6" r="1.15"/><circle cx="494.6" cy="80.4" r="1.15"/><circle cx="508.3" cy="77.1" r="1.15"/><circle cx="503.2" cy="81.3" r="1.15"/><circle cx="521.4" cy="91.3" r="1.15"/><circle cx="506.7" cy="88.8" r="1.15"/><circle cx="509.6" cy="97.9" r="1.15"/><circle cx="520.9" cy="102.8" r="1.15"/><circle cx="523.2" cy="100.7" r="1.15"/><circle cx="526.4" cy="93.9" r="1.15"/><circle cx="522.1" cy="82.9" r="1.15"/><circle cx="504.3" cy="78.6" r="1.15"/><circle cx="505.9" cy="103.7" r="1.15"/><circle cx="515.2" cy="88.6" r="1.15"/><circle cx="499.6" cy="81.5" r="1.15"/><circle cx="504.2" cy="83.7" r="1.15"/><circle cx="506.6" cy="91.8" r="1.15"/><circle cx="503.2" cy="92.4" r="1.15"/><circle cx="503.6" cy="89.7" r="1.15"/><circle cx="506.4" cy="99.5" r="1.15"/><circle cx="522.8" cy="92.2" r="1.15"/><circle cx="517.3" cy="84.1" r="1.15"/><circle cx="493.5" cy="84.5" r="1.15"/><circle cx="492.6" cy="97.3" r="1.15"/><circle cx="523.7" cy="93.8" r="1.15"/><circle cx="495.7" cy="79.2" r="1.15"/><circle cx="517.9" cy="91.9" r="1.15"/><circle cx="517.1" cy="102.9" r="1.15"/><circle cx="524.2" cy="102.4" r="1.15"/><circle cx="493.4" cy="85.4" r="1.15"/><circle cx="508.5" cy="93.7" r="1.15"/><circle cx="493.1" cy="83.2" r="1.15"/><circle cx="517.9" cy="103.0" r="1.15"/><circle cx="506.0" cy="102.1" r="1.15"/><circle cx="522.0" cy="101.2" r="1.15"/><circle cx="494.6" cy="86.5" r="1.15"/><circle cx="513.5" cy="98.7" r="1.15"/><circle cx="520.3" cy="78.9" r="1.15"/><circle cx="514.1" cy="76.2" r="1.15"/><circle cx="507.4" cy="79.1" r="1.15"/><circle cx="513.4" cy="87.1" r="1.15"/><circle cx="519.4" cy="84.7" r="1.15"/><circle cx="490.3" cy="89.8" r="1.15"/><circle cx="507.1" cy="99.6" r="1.15"/><circle cx="496.8" cy="87.9" r="1.15"/><circle cx="519.8" cy="94.4" r="1.15"/><circle cx="496.5" cy="86.6" r="1.15"/><circle cx="517.7" cy="91.3" r="1.15"/><circle cx="491.3" cy="85.8" r="1.15"/><circle cx="488.0" cy="88.5" r="1.15"/><circle cx="496.3" cy="84.1" r="1.15"/><circle cx="500.6" cy="100.2" r="1.15"/><circle cx="492.3" cy="87.7" r="1.15"/><circle cx="504.4" cy="102.0" r="1.15"/><circle cx="516.1" cy="83.2" r="1.15"/><circle cx="492.3" cy="91.1" r="1.15"/><circle cx="520.3" cy="81.9" r="1.15"/><circle cx="517.6" cy="85.9" r="1.15"/><circle cx="494.0" cy="98.5" r="1.15"/><circle cx="510.6" cy="86.5" r="1.15"/><circle cx="507.7" cy="101.3" r="1.15"/><circle cx="506.3" cy="91.6" r="1.15"/><circle cx="506.8" cy="76.2" r="1.15"/><circle cx="517.3" cy="78.5" r="1.15"/><circle cx="509.7" cy="82.8" r="1.15"/><circle cx="514.4" cy="93.3" r="1.15"/><circle cx="516.9" cy="98.9" r="1.15"/><circle cx="496.2" cy="89.3" r="1.15"/><circle cx="524.1" cy="86.8" r="1.15"/><circle cx="495.3" cy="90.4" r="1.15"/><circle cx="499.6" cy="77.7" r="1.15"/><circle cx="519.3" cy="88.5" r="1.15"/><circle cx="520.7" cy="78.5" r="1.15"/><circle cx="500.5" cy="78.8" r="1.15"/><circle cx="520.8" cy="88.2" r="1.15"/><circle cx="511.2" cy="76.9" r="1.15"/><circle cx="504.6" cy="86.6" r="1.15"/><circle cx="515.2" cy="82.2" r="1.15"/><circle cx="526.4" cy="84.9" r="1.15"/><circle cx="507.5" cy="88.9" r="1.15"/><circle cx="500.7" cy="77.1" r="1.15"/><circle cx="526.2" cy="93.0" r="1.15"/><circle cx="492.3" cy="81.0" r="1.15"/><circle cx="500.7" cy="83.5" r="1.15"/><circle cx="500.1" cy="99.4" r="1.15"/><circle cx="509.3" cy="104.0" r="1.15"/><circle cx="499.3" cy="77.5" r="1.15"/><circle cx="517.5" cy="96.2" r="1.15"/><circle cx="519.7" cy="86.1" r="1.15"/><circle cx="519.6" cy="78.3" r="1.15"/><circle cx="515.9" cy="95.2" r="1.15"/><circle cx="509.6" cy="93.0" r="1.15"/><circle cx="505.6" cy="87.7" r="1.15"/><circle cx="506.0" cy="92.8" r="1.15"/><circle cx="520.9" cy="85.1" r="1.15"/><circle cx="509.3" cy="86.6" r="1.15"/><circle cx="493.9" cy="95.6" r="1.15"/><circle cx="516.8" cy="87.9" r="1.15"/><circle cx="499.0" cy="89.4" r="1.15"/><circle cx="524.2" cy="93.9" r="1.15"/><circle cx="501.4" cy="102.5" r="1.15"/><circle cx="496.8" cy="78.2" r="1.15"/><circle cx="516.4" cy="98.4" r="1.15"/><circle cx="518.8" cy="86.8" r="1.15"/><circle cx="514.3" cy="81.5" r="1.15"/><circle cx="497.7" cy="102.4" r="1.15"/><circle cx="521.0" cy="102.4" r="1.15"/><circle cx="509.1" cy="95.7" r="1.15"/><circle cx="501.5" cy="86.8" r="1.15"/><circle cx="524.1" cy="96.7" r="1.15"/><circle cx="503.5" cy="101.7" r="1.15"/><circle cx="524.1" cy="98.8" r="1.15"/><circle cx="522.4" cy="83.0" r="1.15"/><circle cx="515.6" cy="78.5" r="1.15"/><circle cx="504.3" cy="81.0" r="1.15"/><circle cx="503.4" cy="94.6" r="1.15"/><circle cx="514.0" cy="100.6" r="1.15"/><circle cx="524.4" cy="84.2" r="1.15"/><circle cx="500.3" cy="87.5" r="1.15"/><circle cx="497.2" cy="99.5" r="1.15"/><circle cx="518.7" cy="94.4" r="1.15"/><circle cx="512.9" cy="83.9" r="1.15"/><circle cx="498.1" cy="97.2" r="1.15"/><circle cx="492.8" cy="81.4" r="1.15"/><circle cx="517.4" cy="101.5" r="1.15"/><circle cx="507.4" cy="79.1" r="1.15"/><circle cx="508.8" cy="82.1" r="1.15"/><circle cx="512.9" cy="93.4" r="1.15"/><circle cx="520.4" cy="101.7" r="1.15"/><circle cx="521.5" cy="94.7" r="1.15"/><circle cx="516.2" cy="100.3" r="1.15"/><circle cx="520.5" cy="89.6" r="1.15"/><circle cx="494.9" cy="81.5" r="1.15"/><circle cx="511.6" cy="91.0" r="1.15"/><circle cx="503.9" cy="89.7" r="1.15"/><circle cx="495.3" cy="87.4" r="1.15"/><circle cx="510.7" cy="97.0" r="1.15"/><circle cx="515.2" cy="78.4" r="1.15"/><circle cx="495.4" cy="89.3" r="1.15"/><circle cx="517.9" cy="83.4" r="1.15"/><circle cx="516.5" cy="82.0" r="1.15"/><circle cx="499.1" cy="99.7" r="1.15"/><circle cx="494.8" cy="99.5" r="1.15"/><circle cx="509.0" cy="76.2" r="1.15"/><circle cx="505.8" cy="90.9" r="1.15"/><circle cx="492.0" cy="86.1" r="1.15"/><circle cx="506.4" cy="89.0" r="1.15"/><circle cx="523.9" cy="86.5" r="1.15"/><circle cx="522.9" cy="83.8" r="1.15"/><circle cx="516.8" cy="79.9" r="1.15"/><circle cx="510.4" cy="96.8" r="1.15"/><circle cx="516.8" cy="79.9" r="1.15"/><circle cx="525.6" cy="84.2" r="1.15"/><circle cx="521.1" cy="80.2" r="1.15"/><circle cx="526.5" cy="90.8" r="1.15"/><circle cx="495.8" cy="101.6" r="1.15"/><circle cx="518.6" cy="96.1" r="1.15"/><circle cx="504.1" cy="82.1" r="1.15"/><circle cx="512.4" cy="99.7" r="1.15"/><circle cx="516.5" cy="95.8" r="1.15"/><circle cx="489.5" cy="88.7" r="1.15"/><circle cx="498.6" cy="90.7" r="1.15"/><circle cx="513.7" cy="92.6" r="1.15"/><circle cx="498.4" cy="87.5" r="1.15"/></g><g fill="#6ab85c"><circle cx="513.7" cy="66.2" r="1.15"/><circle cx="513.3" cy="67.9" r="1.15"/><circle cx="513.2" cy="68.8" r="1.15"/><circle cx="514.2" cy="66.0" r="1.15"/><circle cx="513.6" cy="68.9" r="1.15"/><circle cx="512.2" cy="66.2" r="1.15"/><circle cx="512.0" cy="68.2" r="1.15"/><circle cx="515.5" cy="67.6" r="1.15"/><circle cx="516.4" cy="68.5" r="1.15"/><circle cx="516.4" cy="65.6" r="1.15"/></g><g fill="#f08c28"><circle cx="511.8" cy="115.1" r="1.15"/><circle cx="524.7" cy="101.7" r="1.15"/><circle cx="521.2" cy="108.8" r="1.15"/><circle cx="517.9" cy="110.3" r="1.15"/><circle cx="519.1" cy="109.7" r="1.15"/><circle cx="509.7" cy="113.2" r="1.15"/><circle cx="523.5" cy="107.3" r="1.15"/><circle cx="522.6" cy="107.1" r="1.15"/><circle cx="519.6" cy="110.3" r="1.15"/><circle cx="525.1" cy="104.6" r="1.15"/><circle cx="520.1" cy="107.4" r="1.15"/><circle cx="512.4" cy="116.9" r="1.15"/><circle cx="512.3" cy="110.4" r="1.15"/><circle cx="517.0" cy="110.7" r="1.15"/><circle cx="519.2" cy="110.5" r="1.15"/><circle cx="511.6" cy="112.5" r="1.15"/><circle cx="523.5" cy="108.2" r="1.15"/><circle cx="522.2" cy="108.8" r="1.15"/><circle cx="523.1" cy="107.1" r="1.15"/><circle cx="524.2" cy="105.5" r="1.15"/><circle cx="519.9" cy="110.1" r="1.15"/><circle cx="509.1" cy="113.3" r="1.15"/><circle cx="514.5" cy="109.1" r="1.15"/><circle cx="513.6" cy="110.7" r="1.15"/><circle cx="521.8" cy="109.0" r="1.15"/><circle cx="515.5" cy="110.2" r="1.15"/><circle cx="515.0" cy="108.3" r="1.15"/><circle cx="518.6" cy="109.6" r="1.15"/><circle cx="510.1" cy="112.9" r="1.15"/><circle cx="523.3" cy="106.0" r="1.15"/><circle cx="510.2" cy="112.2" r="1.15"/><circle cx="511.7" cy="115.9" r="1.15"/><circle cx="513.3" cy="110.9" r="1.15"/><circle cx="525.3" cy="103.3" r="1.15"/><circle cx="522.3" cy="110.2" r="1.15"/><circle cx="523.9" cy="104.2" r="1.15"/><circle cx="522.6" cy="109.0" r="1.15"/><circle cx="514.9" cy="108.9" r="1.15"/><circle cx="512.2" cy="109.4" r="1.15"/><circle cx="509.9" cy="116.9" r="1.15"/><circle cx="524.0" cy="109.3" r="1.15"/><circle cx="526.0" cy="102.2" r="1.15"/><circle cx="510.6" cy="113.2" r="1.15"/><circle cx="522.2" cy="104.9" r="1.15"/><circle cx="524.5" cy="108.6" r="1.15"/><circle cx="520.1" cy="109.9" r="1.15"/><circle cx="523.3" cy="103.8" r="1.15"/><circle cx="513.3" cy="111.9" r="1.15"/><circle cx="510.1" cy="111.1" r="1.15"/><circle cx="509.1" cy="113.4" r="1.15"/><circle cx="516.5" cy="110.4" r="1.15"/><circle cx="525.5" cy="104.2" r="1.15"/><circle cx="524.4" cy="107.4" r="1.15"/><circle cx="515.1" cy="110.6" r="1.15"/><circle cx="523.2" cy="108.3" r="1.15"/><circle cx="524.0" cy="104.9" r="1.15"/><circle cx="523.5" cy="109.2" r="1.15"/><circle cx="516.3" cy="109.9" r="1.15"/><circle cx="508.9" cy="111.7" r="1.15"/><circle cx="514.8" cy="110.1" r="1.15"/></g><g fill="#f08c28"><circle cx="526.8" cy="109.4" r="1.15"/><circle cx="536.8" cy="128.9" r="1.15"/><circle cx="532.4" cy="118.7" r="1.15"/><circle cx="533.6" cy="121.6" r="1.15"/><circle cx="538.1" cy="125.9" r="1.15"/><circle cx="529.8" cy="107.1" r="1.15"/><circle cx="536.0" cy="131.9" r="1.15"/><circle cx="529.8" cy="112.0" r="1.15"/><circle cx="527.0" cy="110.6" r="1.15"/><circle cx="531.4" cy="143.5" r="1.15"/><circle cx="534.9" cy="133.1" r="1.15"/><circle cx="538.2" cy="131.6" r="1.15"/><circle cx="525.0" cy="150.3" r="1.15"/><circle cx="535.0" cy="132.5" r="1.15"/><circle cx="533.1" cy="118.9" r="1.15"/><circle cx="530.9" cy="143.9" r="1.15"/><circle cx="528.2" cy="149.0" r="1.15"/><circle cx="535.6" cy="122.0" r="1.15"/><circle cx="529.5" cy="114.5" r="1.15"/><circle cx="532.3" cy="142.8" r="1.15"/><circle cx="534.6" cy="130.1" r="1.15"/><circle cx="524.1" cy="109.4" r="1.15"/><circle cx="532.2" cy="117.9" r="1.15"/><circle cx="533.7" cy="126.1" r="1.15"/><circle cx="536.3" cy="132.5" r="1.15"/><circle cx="527.7" cy="116.0" r="1.15"/><circle cx="537.4" cy="129.4" r="1.15"/><circle cx="528.3" cy="149.2" r="1.15"/><circle cx="529.5" cy="117.4" r="1.15"/><circle cx="533.8" cy="121.5" r="1.15"/><circle cx="524.0" cy="149.8" r="1.15"/><circle cx="527.4" cy="115.3" r="1.15"/><circle cx="535.2" cy="132.4" r="1.15"/><circle cx="536.0" cy="130.0" r="1.15"/><circle cx="526.1" cy="104.7" r="1.15"/><circle cx="522.8" cy="148.4" r="1.15"/><circle cx="530.7" cy="112.0" r="1.15"/><circle cx="537.2" cy="133.8" r="1.15"/><circle cx="535.9" cy="126.1" r="1.15"/><circle cx="535.8" cy="129.5" r="1.15"/><circle cx="526.3" cy="147.0" r="1.15"/><circle cx="532.5" cy="120.6" r="1.15"/><circle cx="525.6" cy="149.0" r="1.15"/><circle cx="531.4" cy="146.7" r="1.15"/><circle cx="522.7" cy="149.5" r="1.15"/><circle cx="532.3" cy="116.8" r="1.15"/><circle cx="524.6" cy="108.7" r="1.15"/><circle cx="529.0" cy="113.2" r="1.15"/><circle cx="535.4" cy="123.6" r="1.15"/><circle cx="529.1" cy="147.7" r="1.15"/><circle cx="528.9" cy="112.0" r="1.15"/><circle cx="534.8" cy="139.6" r="1.15"/><circle cx="533.7" cy="139.1" r="1.15"/><circle cx="538.0" cy="141.4" r="1.15"/><circle cx="525.8" cy="147.5" r="1.15"/><circle cx="528.3" cy="109.1" r="1.15"/><circle cx="535.4" cy="141.4" r="1.15"/><circle cx="527.3" cy="104.1" r="1.15"/><circle cx="523.5" cy="109.1" r="1.15"/><circle cx="531.3" cy="135.2" r="1.15"/><circle cx="524.2" cy="106.1" r="1.15"/><circle cx="523.0" cy="148.6" r="1.15"/><circle cx="530.2" cy="146.2" r="1.15"/><circle cx="525.0" cy="151.0" r="1.15"/><circle cx="522.6" cy="152.0" r="1.15"/><circle cx="531.6" cy="145.2" r="1.15"/><circle cx="535.2" cy="124.3" r="1.15"/><circle cx="528.3" cy="149.6" r="1.15"/><circle cx="529.2" cy="117.5" r="1.15"/><circle cx="532.7" cy="144.9" r="1.15"/><circle cx="534.2" cy="121.1" r="1.15"/><circle cx="532.0" cy="147.2" r="1.15"/><circle cx="532.2" cy="142.6" r="1.15"/><circle cx="536.7" cy="142.6" r="1.15"/><circle cx="534.6" cy="123.2" r="1.15"/><circle cx="532.9" cy="123.3" r="1.15"/><circle cx="527.3" cy="112.8" r="1.15"/><circle cx="530.6" cy="112.9" r="1.15"/><circle cx="533.4" cy="120.8" r="1.15"/><circle cx="534.9" cy="124.7" r="1.15"/><circle cx="526.7" cy="148.0" r="1.15"/><circle cx="523.6" cy="145.3" r="1.15"/><circle cx="535.3" cy="137.8" r="1.15"/><circle cx="539.2" cy="137.3" r="1.15"/><circle cx="521.4" cy="150.1" r="1.15"/><circle cx="521.5" cy="147.3" r="1.15"/><circle cx="526.0" cy="146.0" r="1.15"/><circle cx="534.1" cy="120.2" r="1.15"/><circle cx="530.9" cy="112.5" r="1.15"/><circle cx="534.9" cy="137.3" r="1.15"/><circle cx="529.1" cy="144.6" r="1.15"/><circle cx="533.6" cy="146.2" r="1.15"/><circle cx="529.8" cy="147.0" r="1.15"/><circle cx="528.8" cy="148.6" r="1.15"/><circle cx="526.2" cy="149.9" r="1.15"/><circle cx="527.4" cy="105.0" r="1.15"/><circle cx="535.0" cy="125.2" r="1.15"/><circle cx="532.5" cy="143.1" r="1.15"/><circle cx="524.2" cy="107.7" r="1.15"/><circle cx="528.5" cy="146.3" r="1.15"/><circle cx="534.1" cy="126.5" r="1.15"/><circle cx="530.5" cy="112.8" r="1.15"/><circle cx="532.5" cy="121.0" r="1.15"/><circle cx="536.8" cy="131.7" r="1.15"/><circle cx="532.4" cy="122.2" r="1.15"/><circle cx="526.0" cy="105.5" r="1.15"/><circle cx="535.1" cy="142.2" r="1.15"/><circle cx="531.9" cy="118.3" r="1.15"/><circle cx="535.6" cy="130.8" r="1.15"/><circle cx="530.7" cy="120.0" r="1.15"/><circle cx="533.7" cy="120.4" r="1.15"/><circle cx="530.0" cy="116.2" r="1.15"/><circle cx="530.5" cy="118.5" r="1.15"/><circle cx="529.7" cy="111.7" r="1.15"/><circle cx="532.6" cy="146.6" r="1.15"/><circle cx="528.0" cy="109.2" r="1.15"/><circle cx="533.1" cy="115.3" r="1.15"/><circle cx="534.6" cy="125.9" r="1.15"/><circle cx="533.9" cy="119.9" r="1.15"/><circle cx="528.4" cy="148.1" r="1.15"/><circle cx="532.3" cy="119.2" r="1.15"/><circle cx="532.5" cy="123.5" r="1.15"/><circle cx="528.4" cy="145.1" r="1.15"/><circle cx="527.8" cy="110.4" r="1.15"/><circle cx="528.9" cy="115.8" r="1.15"/><circle cx="533.2" cy="128.9" r="1.15"/><circle cx="530.3" cy="146.0" r="1.15"/><circle cx="538.6" cy="135.5" r="1.15"/><circle cx="526.9" cy="146.1" r="1.15"/><circle cx="528.5" cy="147.7" r="1.15"/><circle cx="524.4" cy="106.7" r="1.15"/><circle cx="534.5" cy="127.1" r="1.15"/><circle cx="523.5" cy="107.4" r="1.15"/><circle cx="538.0" cy="126.2" r="1.15"/><circle cx="522.6" cy="150.7" r="1.15"/><circle cx="536.7" cy="137.1" r="1.15"/><circle cx="534.4" cy="143.2" r="1.15"/><circle cx="535.2" cy="129.5" r="1.15"/><circle cx="529.2" cy="114.1" r="1.15"/><circle cx="524.7" cy="108.6" r="1.15"/><circle cx="534.3" cy="125.4" r="1.15"/><circle cx="533.6" cy="119.7" r="1.15"/><circle cx="527.1" cy="105.8" r="1.15"/><circle cx="534.8" cy="131.1" r="1.15"/><circle cx="534.7" cy="118.6" r="1.15"/><circle cx="529.0" cy="115.5" r="1.15"/><circle cx="522.9" cy="150.0" r="1.15"/><circle cx="531.8" cy="114.4" r="1.15"/><circle cx="532.1" cy="142.2" r="1.15"/><circle cx="532.7" cy="125.3" r="1.15"/><circle cx="534.0" cy="143.9" r="1.15"/><circle cx="531.5" cy="146.8" r="1.15"/><circle cx="527.9" cy="148.6" r="1.15"/><circle cx="529.4" cy="115.7" r="1.15"/><circle cx="529.0" cy="149.4" r="1.15"/><circle cx="522.2" cy="150.4" r="1.15"/><circle cx="536.3" cy="137.7" r="1.15"/><circle cx="527.0" cy="110.9" r="1.15"/><circle cx="529.9" cy="112.0" r="1.15"/><circle cx="527.8" cy="147.2" r="1.15"/></g><circle cx="377.0" cy="57.5" r="1.15" fill="#3a78c8"/><circle cx="340.0" cy="178.0" r="1.15" fill="#1f5fb0"/><circle cx="347.0" cy="186.0" r="1.15" fill="#1f5fb0"/><circle cx="356.0" cy="170.0" r="1.15" fill="#1f5fb0"/><circle cx="362.0" cy="190.0" r="1.15" fill="#1f5fb0"/><circle cx="343.0" cy="207.0" r="1.15" fill="#3a78c8"/><circle cx="350.0" cy="202.0" r="1.15" fill="#c5dea2"/><circle cx="372.0" cy="161.0" r="1.15" fill="#7b1111"/><circle cx="380.0" cy="166.0" r="1.15" fill="#f08c28"/><circle cx="384.0" cy="164.0" r="1.15" fill="#f08c28"/><circle cx="413.0" cy="171.0" r="1.15" fill="#3a78c8"/><circle cx="409.0" cy="176.0" r="1.15" fill="#1f5fb0"/><circle cx="443.0" cy="170.0" r="1.15" fill="#e31a1c"/><circle cx="445.0" cy="168.0" r="1.15" fill="#e31a1c"/><circle cx="440.0" cy="172.0" r="1.15" fill="#f0b22e"/><circle cx="352.0" cy="159.0" r="1.15" fill="#f2e233"/><circle cx="366.0" cy="147.0" r="1.15" fill="#c5dea2"/><circle cx="385.0" cy="111.0" r="1.15" fill="#c5dea2"/><circle cx="389.0" cy="115.0" r="1.15" fill="#c5dea2"/><circle cx="336.0" cy="157.0" r="1.15" fill="#f2e233"/><path d="M320,60 Q400,66 477,38" stroke="#9a9a9a" stroke-width="0.8" stroke-dasharray="1.6,1.6" fill="none"/><path d="M302.5,96 L333,125 Q348,139 368,148 Q390,158 411,162" stroke="#9a9a9a" stroke-width="0.8" stroke-dasharray="1.6,1.6" fill="none"/><path d="M436,116 L411,163" stroke="#9a9a9a" stroke-width="0.8" stroke-dasharray="1.6,1.6" fill="none"/><path d="M412,180 L449,204" stroke="#9a9a9a" stroke-width="0.8" stroke-dasharray="1.6,1.6" fill="none"/><rect x="302.5" y="8" width="244.5" height="222" fill="none" stroke="#7a7a7a" stroke-width="0.9"/><line x1="311.5" y1="230" x2="311.5" y2="234.5" stroke="#7a7a7a" stroke-width="0.9"/><text x="311.5" y="246" text-anchor="middle" font-family="'Liberation Sans', sans-serif" font-size="6.6" fill="#333">&#8722;1.0</text><line x1="368.0" y1="230" x2="368.0" y2="234.5" stroke="#7a7a7a" stroke-width="0.9"/><text x="368.0" y="246" text-anchor="middle" font-family="'Liberation Sans', sans-serif" font-size="6.6" fill="#333">&#8722;0.5</text><line x1="424.5" y1="230" x2="424.5" y2="234.5" stroke="#7a7a7a" stroke-width="0.9"/><text x="424.5" y="246" text-anchor="middle" font-family="'Liberation Sans', sans-serif" font-size="6.6" fill="#333">0.0</text><line x1="481.0" y1="230" x2="481.0" y2="234.5" stroke="#7a7a7a" stroke-width="0.9"/><text x="481.0" y="246" text-anchor="middle" font-family="'Liberation Sans', sans-serif" font-size="6.6" fill="#333">0.5</text><line x1="537.5" y1="230" x2="537.5" y2="234.5" stroke="#7a7a7a" stroke-width="0.9"/><text x="537.5" y="246" text-anchor="middle" font-family="'Liberation Sans', sans-serif" font-size="6.6" fill="#333">1.0</text><line x1="298" y1="15.6" x2="302.5" y2="15.6" stroke="#7a7a7a" stroke-width="0.9"/><text transform="translate(292.5,15.6) rotate(-90)" text-anchor="middle" font-family="'Liberation Sans', sans-serif" font-size="6.6" fill="#333">1.0</text><line x1="298" y1="67.4" x2="302.5" y2="67.4" stroke="#7a7a7a" stroke-width="0.9"/><text transform="translate(292.5,67.4) rotate(-90)" text-anchor="middle" font-family="'Liberation Sans', sans-serif" font-size="6.6" fill="#333">0.5</text><line x1="298" y1="119.3" x2="302.5" y2="119.3" stroke="#7a7a7a" stroke-width="0.9"/><text transform="translate(292.5,119.3) rotate(-90)" text-anchor="middle" font-family="'Liberation Sans', sans-serif" font-size="6.6" fill="#333">0.0</text><line x1="298" y1="171.2" x2="302.5" y2="171.2" stroke="#7a7a7a" stroke-width="0.9"/><text transform="translate(292.5,171.2) rotate(-90)" text-anchor="middle" font-family="'Liberation Sans', sans-serif" font-size="6.6" fill="#333">&#8722;0.5</text><line x1="298" y1="223.0" x2="302.5" y2="223.0" stroke="#7a7a7a" stroke-width="0.9"/><text transform="translate(292.5,223.0) rotate(-90)" text-anchor="middle" font-family="'Liberation Sans', sans-serif" font-size="6.6" fill="#333">&#8722;1.0</text><text x="424" y="263" text-anchor="middle" font-family="'Liberation Sans', sans-serif" font-size="6.8" fill="#1a1a1a">UMAP_1</text><text transform="translate(274.1,119) rotate(-90)" text-anchor="middle" font-family="'Liberation Sans', sans-serif" font-size="6.8" fill="#1a1a1a">UMAP_2</text><g font-family="'DejaVu Sans', sans-serif" font-size="10" fill="#000"><text x="353.0" y="41.0">c6</text><text x="356.5" y="104.5">c8</text><text x="416.0" y="122.5">c9</text><text x="380.0" y="144.5">c7</text><text x="312.4" y="131.5">c5</text><text x="307.0" y="155.0">c4</text><text x="321.5" y="189.0">c2</text><text x="401.5" y="196.0">c1</text><text x="314.0" y="222.5">c3</text><text x="435.0" y="190.0">c10</text><text x="455.0" y="142.5">c15</text><text x="490.0" y="146.0">c11</text><text x="508.5" y="134.0">c12</text><text x="491.8" y="69.0">c13</text><text x="470.0" y="92.0">c14</text></g><g font-family="'DejaVu Sans', sans-serif" font-size="9.8" fill="#000"><text x="400.0" y="20.5" font-weight="bold">Proliferative melanoma</text><text x="400.0" y="32.0">(proliferation)</text><text x="319.6" y="74.5" font-weight="bold">Type 2 melanoma</text><text x="319.6" y="86.0">(AXL, inflammation)</text><text x="484.0" y="42.0" font-weight="bold">Stroma</text><text x="484.0" y="54.0">(fibroblasts)</text><text x="470.0" y="180.0" font-weight="bold">Ker</text><text x="469.7" y="192.5">(keratinocytes)</text><text x="370.0" y="213.5" font-weight="bold">Type 1 melanoma</text><text x="370.0" y="225.0">(MITF, pigmentation)</text></g><defs><filter id="bl" x="-20%" y="-20%" width="140%" height="140%"><feGaussianBlur stdDeviation="1.7"/></filter></defs><clipPath id="cpc1"><rect x="17.5" y="305.6" width="42.5" height="35.7"/></clipPath><g clip-path="url(#cpc1)"><g filter="url(#bl)"><rect x="12.5" y="300.6" width="52.5" height="45.7" fill="#42e042"/><ellipse cx="43.9" cy="323.5" rx="17.8" ry="15.0" fill="#92e0a4" fill-opacity="1.00"/><ellipse cx="53.6" cy="335.9" rx="7.6" ry="5.4" fill="#b0d4dc" fill-opacity="0.90"/><ellipse cx="55.8" cy="316.3" rx="5.1" ry="8.9" fill="#a6bcee" fill-opacity="0.80"/><ellipse cx="57.9" cy="308.5" rx="11.1" ry="12.9" fill="#a6bcee" fill-opacity="1.00"/><ellipse cx="60.0" cy="305.6" rx="11.1" ry="10.7" fill="#5a78e6" fill-opacity="1.00"/><ellipse cx="60.0" cy="305.6" rx="9.3" ry="8.6" fill="#1a2ee0" fill-opacity="1.00"/><ellipse cx="17.5" cy="341.3" rx="13.6" ry="13.6" fill="#f2f224" fill-opacity="1.00"/><ellipse cx="17.5" cy="341.3" rx="10.6" ry="10.0" fill="#f8a028" fill-opacity="1.00"/><ellipse cx="17.5" cy="341.3" rx="8.1" ry="7.1" fill="#e01414" fill-opacity="1.00"/><ellipse cx="59.6" cy="326.3" rx="2.8" ry="3.7" fill="#a8e838" fill-opacity="1.00"/><ellipse cx="59.6" cy="326.3" rx="1.9" ry="2.6" fill="#f2f224" fill-opacity="1.00"/><ellipse cx="59.6" cy="326.3" rx="1.1" ry="1.4" fill="#f8a028" fill-opacity="0.80"/><ellipse cx="33.6" cy="340.6" rx="2.5" ry="2.5" fill="#a6bcee" fill-opacity="1.00"/></g></g><text x="16.9" y="313.4" text-anchor="end" font-family="'DejaVu Sans', sans-serif" font-size="10" fill="#000">c1</text><text x="29.8" y="336.0" text-anchor="middle" font-family="'DejaVu Sans', sans-serif" font-size="11" fill="#000">D</text><clipPath id="cpc2"><rect x="17.5" y="347.8" width="42.5" height="35.7"/></clipPath><g clip-path="url(#cpc2)"><g filter="url(#bl)"><rect x="12.5" y="342.8" width="52.5" height="45.7" fill="#80e040"/><ellipse cx="32.4" cy="358.5" rx="12.8" ry="8.9" fill="#68e040" fill-opacity="0.90"/><ellipse cx="43.0" cy="374.6" rx="10.6" ry="7.1" fill="#70e040" fill-opacity="0.80"/><ellipse cx="55.8" cy="356.7" rx="5.1" ry="10.7" fill="#a0d8c0" fill-opacity="0.90"/><ellipse cx="20.9" cy="372.8" rx="6.0" ry="12.5" fill="#f2f224" fill-opacity="1.00"/><ellipse cx="18.8" cy="379.2" rx="6.0" ry="10.7" fill="#f8a028" fill-opacity="1.00"/><ellipse cx="17.5" cy="383.5" rx="8.1" ry="7.9" fill="#e01414" fill-opacity="1.00"/><ellipse cx="59.1" cy="349.2" rx="8.5" ry="12.9" fill="#a6bcee" fill-opacity="1.00"/><ellipse cx="60.0" cy="347.8" rx="7.2" ry="7.1" fill="#5a78e6" fill-opacity="1.00"/><ellipse cx="60.0" cy="347.8" rx="6.0" ry="5.7" fill="#1a2ee0" fill-opacity="1.00"/><ellipse cx="59.6" cy="371.0" rx="2.8" ry="2.8" fill="#a8e838" fill-opacity="1.00"/><ellipse cx="59.6" cy="371.0" rx="1.9" ry="1.9" fill="#f2f224" fill-opacity="1.00"/><ellipse cx="59.6" cy="371.0" rx="1.1" ry="1.1" fill="#f8a028" fill-opacity="0.80"/><ellipse cx="34.5" cy="382.8" rx="6.4" ry="1.8" fill="#42e042" fill-opacity="1.00"/></g></g><text x="16.9" y="355.6" text-anchor="end" font-family="'DejaVu Sans', sans-serif" font-size="10" fill="#000">c2</text><clipPath id="cpc3"><rect x="17.5" y="390.0" width="42.5" height="35.7"/></clipPath><g clip-path="url(#cpc3)"><g filter="url(#bl)"><rect x="12.5" y="385.0" width="52.5" height="45.7" fill="#a8e43c"/><ellipse cx="32.4" cy="398.9" rx="12.8" ry="7.1" fill="#98e440" fill-opacity="0.80"/><ellipse cx="54.9" cy="404.3" rx="5.1" ry="10.7" fill="#a0d8c0" fill-opacity="0.90"/><ellipse cx="43.0" cy="422.1" rx="10.6" ry="3.6" fill="#70e040" fill-opacity="0.80"/><ellipse cx="21.8" cy="411.4" rx="8.5" ry="10.7" fill="#f2f224" fill-opacity="1.00"/><ellipse cx="20.1" cy="411.4" rx="5.1" ry="6.4" fill="#f8a028" fill-opacity="1.00"/><ellipse cx="18.4" cy="423.9" rx="7.2" ry="7.1" fill="#f8a028" fill-opacity="1.00"/><ellipse cx="17.5" cy="425.7" rx="6.8" ry="6.4" fill="#e01414" fill-opacity="1.00"/><ellipse cx="59.1" cy="391.4" rx="8.5" ry="12.9" fill="#a6bcee" fill-opacity="1.00"/><ellipse cx="60.0" cy="390.0" rx="7.2" ry="7.1" fill="#5a78e6" fill-opacity="1.00"/><ellipse cx="60.0" cy="390.0" rx="6.0" ry="5.7" fill="#1a2ee0" fill-opacity="1.00"/><ellipse cx="59.6" cy="415.7" rx="2.8" ry="2.8" fill="#a8e838" fill-opacity="1.00"/><ellipse cx="59.6" cy="415.7" rx="1.9" ry="1.9" fill="#f2f224" fill-opacity="1.00"/><ellipse cx="59.6" cy="415.7" rx="1.1" ry="1.1" fill="#f8a028" fill-opacity="0.80"/></g></g><text x="16.9" y="397.8" text-anchor="end" font-family="'DejaVu Sans', sans-serif" font-size="10" fill="#000">c3</text><clipPath id="cpc4"><rect x="82.1" y="305.6" width="42.5" height="35.7"/></clipPath><g clip-path="url(#cpc4)"><g filter="url(#bl)"><rect x="77.1" y="300.6" width="52.5" height="45.7" fill="#48e040"/><ellipse cx="105.5" cy="323.5" rx="12.8" ry="10.7" fill="#70e048" fill-opacity="0.70"/><ellipse cx="118.2" cy="312.7" rx="6.4" ry="6.4" fill="#92e0a4" fill-opacity="0.80"/><ellipse cx="105.5" cy="339.5" rx="7.6" ry="2.5" fill="#92e0a4" fill-opacity="0.90"/><ellipse cx="87.2" cy="330.6" rx="8.5" ry="12.5" fill="#f2f224" fill-opacity="1.00"/><ellipse cx="84.6" cy="333.4" rx="6.8" ry="11.4" fill="#f8a028" fill-opacity="1.00"/><ellipse cx="82.1" cy="338.4" rx="6.8" ry="11.4" fill="#e01414" fill-opacity="1.00"/><ellipse cx="124.6" cy="305.6" rx="6.0" ry="5.7" fill="#5a78e6" fill-opacity="1.00"/><ellipse cx="124.6" cy="305.6" rx="4.7" ry="4.3" fill="#1a2ee0" fill-opacity="1.00"/><ellipse cx="124.2" cy="325.2" rx="2.8" ry="3.7" fill="#a8e838" fill-opacity="1.00"/><ellipse cx="124.2" cy="325.2" rx="1.9" ry="2.6" fill="#f2f224" fill-opacity="1.00"/><ellipse cx="124.2" cy="325.2" rx="1.1" ry="1.4" fill="#f8a028" fill-opacity="0.80"/></g></g><text x="81.5" y="313.4" text-anchor="end" font-family="'DejaVu Sans', sans-serif" font-size="10" fill="#000">c4</text><text x="93.6" y="325.7" text-anchor="middle" font-family="'DejaVu Sans', sans-serif" font-size="11" fill="#000">H</text><clipPath id="cpc5"><rect x="82.1" y="347.8" width="42.5" height="35.7"/></clipPath><g clip-path="url(#cpc5)"><g filter="url(#bl)"><rect x="77.1" y="342.8" width="52.5" height="45.7" fill="#60e040"/><ellipse cx="103.3" cy="365.7" rx="12.8" ry="10.7" fill="#90e048" fill-opacity="0.70"/><ellipse cx="119.5" cy="356.7" rx="5.1" ry="8.9" fill="#a0d8c0" fill-opacity="0.90"/><ellipse cx="88.0" cy="372.8" rx="8.5" ry="12.5" fill="#f2f224" fill-opacity="1.00"/><ellipse cx="85.1" cy="373.5" rx="6.8" ry="12.1" fill="#f8a028" fill-opacity="1.00"/><ellipse cx="82.1" cy="381.7" rx="6.8" ry="10.0" fill="#e01414" fill-opacity="1.00"/><ellipse cx="123.8" cy="349.2" rx="8.5" ry="12.9" fill="#a6bcee" fill-opacity="1.00"/><ellipse cx="124.6" cy="347.8" rx="7.2" ry="7.1" fill="#5a78e6" fill-opacity="1.00"/><ellipse cx="124.6" cy="347.8" rx="6.0" ry="5.7" fill="#1a2ee0" fill-opacity="1.00"/><ellipse cx="124.2" cy="372.1" rx="2.8" ry="3.2" fill="#a8e838" fill-opacity="1.00"/><ellipse cx="124.2" cy="372.1" rx="1.9" ry="2.2" fill="#f2f224" fill-opacity="1.00"/><ellipse cx="124.2" cy="372.1" rx="1.1" ry="1.2" fill="#f8a028" fill-opacity="0.80"/></g></g><text x="81.5" y="355.6" text-anchor="end" font-family="'DejaVu Sans', sans-serif" font-size="10" fill="#000">c5</text><text x="107.2" y="381.1" text-anchor="middle" font-family="'DejaVu Sans', sans-serif" font-size="11" fill="#000">B</text><clipPath id="cpc6"><rect x="146.8" y="305.6" width="42.5" height="35.7"/></clipPath><g clip-path="url(#cpc6)"><g filter="url(#bl)"><rect x="141.8" y="300.6" width="52.5" height="45.7" fill="#42e042"/><ellipse cx="182.9" cy="321.7" rx="6.4" ry="7.1" fill="#92e0a4" fill-opacity="0.80"/><ellipse cx="187.2" cy="311.0" rx="6.0" ry="10.0" fill="#a6bcee" fill-opacity="1.00"/><ellipse cx="185.9" cy="327.7" rx="6.0" ry="7.9" fill="#a6bcee" fill-opacity="0.90"/><ellipse cx="160.8" cy="340.6" rx="11.1" ry="7.1" fill="#f2f224" fill-opacity="1.00"/><ellipse cx="160.8" cy="340.9" rx="8.9" ry="5.4" fill="#f8a028" fill-opacity="1.00"/><ellipse cx="160.8" cy="341.3" rx="6.8" ry="4.3" fill="#e01414" fill-opacity="1.00"/><ellipse cx="188.9" cy="327.7" rx="3.8" ry="5.4" fill="#5a78e6" fill-opacity="1.00"/><ellipse cx="189.3" cy="327.7" rx="2.5" ry="3.9" fill="#1a2ee0" fill-opacity="1.00"/><ellipse cx="189.3" cy="305.6" rx="6.0" ry="7.1" fill="#5a78e6" fill-opacity="1.00"/><ellipse cx="189.3" cy="305.6" rx="4.2" ry="5.4" fill="#1a2ee0" fill-opacity="1.00"/><ellipse cx="148.5" cy="320.6" rx="3.3" ry="3.9" fill="#a8e838" fill-opacity="1.00"/><ellipse cx="148.5" cy="320.6" rx="2.3" ry="2.7" fill="#f2f224" fill-opacity="1.00"/><ellipse cx="148.5" cy="320.6" rx="1.3" ry="1.5" fill="#f8a028" fill-opacity="0.80"/></g></g><text x="146.2" y="313.4" text-anchor="end" font-family="'DejaVu Sans', sans-serif" font-size="10" fill="#000">c6</text><text x="165.1" y="336.0" text-anchor="middle" font-family="'DejaVu Sans', sans-serif" font-size="11" fill="#000">C</text><clipPath id="cpc7"><rect x="211.5" y="305.6" width="42.5" height="35.7"/></clipPath><g clip-path="url(#cpc7)"><g filter="url(#bl)"><rect x="206.5" y="300.6" width="52.5" height="45.7" fill="#8aa2ea"/><ellipse cx="230.6" cy="312.0" rx="13.6" ry="5.7" fill="#b4c6f0" fill-opacity="1.00"/><ellipse cx="237.0" cy="330.6" rx="17.0" ry="10.0" fill="#4562e2" fill-opacity="1.00"/><ellipse cx="224.2" cy="332.4" rx="8.5" ry="7.1" fill="#5a78e6" fill-opacity="1.00"/><ellipse cx="214.9" cy="327.7" rx="5.5" ry="3.9" fill="#42e042" fill-opacity="1.00"/><ellipse cx="213.2" cy="325.2" rx="2.5" ry="2.9" fill="#92e0a4" fill-opacity="1.00"/><ellipse cx="244.7" cy="307.7" rx="5.1" ry="3.6" fill="#4a68e4" fill-opacity="1.00"/><ellipse cx="232.8" cy="339.9" rx="25.5" ry="4.3" fill="#1a2ee0" fill-opacity="1.00"/><ellipse cx="217.9" cy="337.7" rx="8.5" ry="3.6" fill="#2a40e0" fill-opacity="1.00"/><ellipse cx="212.3" cy="306.3" rx="6.5" ry="5.5" fill="#42e042" fill-opacity="1.00"/><ellipse cx="212.3" cy="306.3" rx="5.0" ry="4.2" fill="#f2f224" fill-opacity="1.00"/><ellipse cx="212.3" cy="306.3" rx="3.8" ry="3.2" fill="#f8a028" fill-opacity="1.00"/><ellipse cx="212.3" cy="306.3" rx="2.3" ry="1.9" fill="#e01414" fill-opacity="1.00"/><ellipse cx="253.6" cy="320.6" rx="3.6" ry="5.2" fill="#42e042" fill-opacity="1.00"/><ellipse cx="253.6" cy="320.6" rx="2.8" ry="3.9" fill="#f2f224" fill-opacity="1.00"/><ellipse cx="253.6" cy="320.6" rx="2.1" ry="3.0" fill="#f8a028" fill-opacity="1.00"/><ellipse cx="253.6" cy="320.6" rx="1.3" ry="1.8" fill="#e01414" fill-opacity="1.00"/></g></g><text x="210.9" y="313.4" text-anchor="end" font-family="'DejaVu Sans', sans-serif" font-size="10" fill="#000">c7</text><text x="218.7" y="321.0" text-anchor="middle" font-family="'DejaVu Sans', sans-serif" font-size="11" fill="#000">E</text><clipPath id="cpc8"><rect x="211.5" y="347.8" width="42.5" height="35.7"/></clipPath><g clip-path="url(#cpc8)"><g filter="url(#bl)"><rect x="206.5" y="342.8" width="52.5" height="45.7" fill="#a8dcc8"/><ellipse cx="232.8" cy="350.7" rx="25.5" ry="6.4" fill="#42e042" fill-opacity="1.00"/><ellipse cx="237.0" cy="373.5" rx="17.0" ry="4.3" fill="#b4cce8" fill-opacity="1.00"/><ellipse cx="213.6" cy="349.2" rx="5.0" ry="4.2" fill="#a8e838" fill-opacity="1.00"/><ellipse cx="213.6" cy="349.2" rx="3.4" ry="2.9" fill="#f2f224" fill-opacity="1.00"/><ellipse cx="213.6" cy="349.2" rx="1.9" ry="1.6" fill="#f8a028" fill-opacity="0.80"/><ellipse cx="253.6" cy="357.8" rx="5.8" ry="8.7" fill="#42e042" fill-opacity="1.00"/><ellipse cx="253.6" cy="357.8" rx="4.4" ry="6.7" fill="#f2f224" fill-opacity="1.00"/><ellipse cx="253.6" cy="357.8" rx="3.4" ry="5.1" fill="#f8a028" fill-opacity="1.00"/><ellipse cx="253.6" cy="357.8" rx="2.0" ry="3.1" fill="#e01414" fill-opacity="1.00"/><ellipse cx="232.8" cy="383.5" rx="23.4" ry="3.6" fill="#5a78e6" fill-opacity="1.00"/><ellipse cx="232.8" cy="383.5" rx="21.2" ry="2.1" fill="#1a2ee0" fill-opacity="1.00"/><ellipse cx="214.9" cy="382.4" rx="6.0" ry="5.0" fill="#1a2ee0" fill-opacity="1.00"/><ellipse cx="248.9" cy="381.7" rx="6.0" ry="4.3" fill="#4a68e4" fill-opacity="1.00"/></g></g><text x="210.9" y="355.6" text-anchor="end" font-family="'DejaVu Sans', sans-serif" font-size="10" fill="#000">c8</text><clipPath id="cpc9"><rect x="211.5" y="390.0" width="42.5" height="35.7"/></clipPath><g clip-path="url(#cpc9)"><g filter="url(#bl)"><rect x="206.5" y="385.0" width="52.5" height="45.7" fill="#62dc66"/><ellipse cx="232.8" cy="407.9" rx="12.8" ry="10.7" fill="#92e0a4" fill-opacity="0.70"/><ellipse cx="213.6" cy="398.9" rx="3.4" ry="7.1" fill="#a8e838" fill-opacity="0.60"/><ellipse cx="253.6" cy="390.4" rx="7.9" ry="6.7" fill="#42e042" fill-opacity="1.00"/><ellipse cx="253.6" cy="390.4" rx="6.1" ry="5.1" fill="#f2f224" fill-opacity="1.00"/><ellipse cx="253.6" cy="390.4" rx="4.7" ry="3.9" fill="#f8a028" fill-opacity="1.00"/><ellipse cx="253.6" cy="390.4" rx="2.8" ry="2.4" fill="#e01414" fill-opacity="1.00"/><ellipse cx="253.6" cy="400.7" rx="3.3" ry="4.5" fill="#a8e838" fill-opacity="1.00"/><ellipse cx="253.6" cy="400.7" rx="2.3" ry="3.1" fill="#f2f224" fill-opacity="1.00"/><ellipse cx="253.6" cy="400.7" rx="1.3" ry="1.7" fill="#f8a028" fill-opacity="0.80"/><ellipse cx="222.1" cy="425.7" rx="12.8" ry="3.6" fill="#1a2ee0" fill-opacity="1.00"/><ellipse cx="241.2" cy="425.7" rx="7.6" ry="3.2" fill="#1a2ee0" fill-opacity="1.00"/><ellipse cx="232.8" cy="422.8" rx="21.2" ry="2.1" fill="#a6bcee" fill-opacity="0.80"/></g></g><text x="210.9" y="397.8" text-anchor="end" font-family="'DejaVu Sans', sans-serif" font-size="10" fill="#000">c9</text><clipPath id="cpc10"><rect x="276.2" y="305.6" width="42.5" height="35.7"/></clipPath><g clip-path="url(#cpc10)"><g filter="url(#bl)"><rect x="271.2" y="300.6" width="52.5" height="45.7" fill="#b8cce8"/><ellipse cx="282.6" cy="312.7" rx="8.5" ry="7.1" fill="#b4d8d8" fill-opacity="0.80"/><ellipse cx="308.1" cy="309.2" rx="12.8" ry="4.3" fill="#92e0a4" fill-opacity="0.90"/><ellipse cx="312.3" cy="306.3" rx="13.0" ry="7.3" fill="#42e042" fill-opacity="1.00"/><ellipse cx="312.3" cy="306.3" rx="9.9" ry="5.6" fill="#f2f224" fill-opacity="1.00"/><ellipse cx="312.3" cy="306.3" rx="7.6" ry="4.3" fill="#f8a028" fill-opacity="1.00"/><ellipse cx="312.3" cy="306.3" rx="4.6" ry="2.6" fill="#e01414" fill-opacity="1.00"/><ellipse cx="284.7" cy="340.2" rx="12.8" ry="3.6" fill="#1a2ee0" fill-opacity="1.00"/><ellipse cx="310.2" cy="334.2" rx="12.8" ry="10.7" fill="#7088e4" fill-opacity="1.00"/><ellipse cx="312.3" cy="337.7" rx="8.5" ry="5.4" fill="#5a78e6" fill-opacity="1.00"/><ellipse cx="297.4" cy="338.4" rx="8.5" ry="3.6" fill="#8aa0e8" fill-opacity="1.00"/></g></g><text x="275.6" y="313.4" text-anchor="end" font-family="'DejaVu Sans', sans-serif" font-size="10" fill="#000">c10</text><clipPath id="cpc11"><rect x="276.2" y="347.8" width="42.5" height="35.7"/></clipPath><g clip-path="url(#cpc11)"><g filter="url(#bl)"><rect x="271.2" y="342.8" width="52.5" height="45.7" fill="#7e96e6"/><ellipse cx="299.6" cy="363.9" rx="12.8" ry="10.7" fill="#a4b8ec" fill-opacity="0.90"/><ellipse cx="312.8" cy="348.9" rx="10.3" ry="6.7" fill="#42e042" fill-opacity="1.00"/><ellipse cx="312.8" cy="348.9" rx="7.9" ry="5.1" fill="#f2f224" fill-opacity="1.00"/><ellipse cx="312.8" cy="348.9" rx="6.1" ry="3.9" fill="#f8a028" fill-opacity="1.00"/><ellipse cx="312.8" cy="348.9" rx="3.6" ry="2.4" fill="#e01414" fill-opacity="1.00"/><ellipse cx="278.3" cy="378.1" rx="5.1" ry="8.9" fill="#1a2ee0" fill-opacity="1.00"/><ellipse cx="318.3" cy="363.9" rx="1.7" ry="3.6" fill="#1a2ee0" fill-opacity="1.00"/><ellipse cx="288.9" cy="382.8" rx="12.8" ry="1.8" fill="#5a78e6" fill-opacity="1.00"/></g></g><text x="275.6" y="355.6" text-anchor="end" font-family="'DejaVu Sans', sans-serif" font-size="10" fill="#000">c11</text><clipPath id="cpc12"><rect x="276.2" y="390.0" width="42.5" height="35.7"/></clipPath><g clip-path="url(#cpc12)"><g filter="url(#bl)"><rect x="271.2" y="385.0" width="52.5" height="45.7" fill="#a8c0ec"/><ellipse cx="310.2" cy="409.6" rx="8.5" ry="8.9" fill="#c4dcec" fill-opacity="0.90"/><ellipse cx="317.4" cy="390.7" rx="7.2" ry="5.5" fill="#42e042" fill-opacity="1.00"/><ellipse cx="317.4" cy="390.7" rx="5.5" ry="4.2" fill="#f2f224" fill-opacity="1.00"/><ellipse cx="317.4" cy="390.7" rx="4.2" ry="3.2" fill="#f8a028" fill-opacity="1.00"/><ellipse cx="317.4" cy="390.7" rx="2.5" ry="1.9" fill="#e01414" fill-opacity="1.00"/><ellipse cx="278.8" cy="420.3" rx="6.0" ry="7.9" fill="#1a2ee0" fill-opacity="1.00"/><ellipse cx="297.4" cy="424.6" rx="17.0" ry="2.5" fill="#5a78e6" fill-opacity="1.00"/><ellipse cx="288.9" cy="415.0" rx="6.4" ry="7.1" fill="#8aa2e8" fill-opacity="0.80"/></g></g><text x="275.6" y="397.8" text-anchor="end" font-family="'DejaVu Sans', sans-serif" font-size="10" fill="#000">c12</text><text x="303.0" y="412.6" text-anchor="middle" font-family="'DejaVu Sans', sans-serif" font-size="11" fill="#000">F</text><clipPath id="cpc13"><rect x="340.9" y="305.6" width="42.5" height="35.7"/></clipPath><g clip-path="url(#cpc13)"><g filter="url(#bl)"><rect x="335.9" y="300.6" width="52.5" height="45.7" fill="#48dc50"/><ellipse cx="353.6" cy="318.1" rx="10.6" ry="12.5" fill="#a8dcd0" fill-opacity="1.00"/><ellipse cx="360.0" cy="328.8" rx="6.4" ry="5.4" fill="#92e0a4" fill-opacity="0.70"/><ellipse cx="346.0" cy="327.7" rx="7.6" ry="10.0" fill="#5a78e6" fill-opacity="1.00"/><ellipse cx="344.3" cy="328.8" rx="5.5" ry="7.1" fill="#1a2ee0" fill-opacity="1.00"/><ellipse cx="368.5" cy="305.6" rx="8.5" ry="2.9" fill="#5a78e6" fill-opacity="1.00"/><ellipse cx="383.0" cy="315.6" rx="4.3" ry="5.8" fill="#42e042" fill-opacity="1.00"/><ellipse cx="383.0" cy="315.6" rx="3.3" ry="4.5" fill="#f2f224" fill-opacity="1.00"/><ellipse cx="383.0" cy="315.6" rx="2.5" ry="3.4" fill="#f8a028" fill-opacity="1.00"/><ellipse cx="383.0" cy="315.6" rx="1.5" ry="2.1" fill="#e01414" fill-opacity="1.00"/><ellipse cx="382.5" cy="337.7" rx="6.9" ry="6.3" fill="#42e042" fill-opacity="1.00"/><ellipse cx="382.5" cy="337.7" rx="5.3" ry="4.8" fill="#f2f224" fill-opacity="1.00"/><ellipse cx="382.5" cy="337.7" rx="4.1" ry="3.7" fill="#f8a028" fill-opacity="1.00"/><ellipse cx="382.5" cy="337.7" rx="2.4" ry="2.2" fill="#e01414" fill-opacity="1.00"/></g></g><text x="340.3" y="313.4" text-anchor="end" font-family="'DejaVu Sans', sans-serif" font-size="10" fill="#000">c13</text><text x="366.4" y="323.2" text-anchor="middle" font-family="'DejaVu Sans', sans-serif" font-size="11" fill="#000">G</text><clipPath id="cpc14"><rect x="340.9" y="347.8" width="42.5" height="35.7"/></clipPath><g clip-path="url(#cpc14)"><g filter="url(#bl)"><rect x="335.9" y="342.8" width="52.5" height="45.7" fill="#4cdc52"/><ellipse cx="354.5" cy="365.7" rx="9.3" ry="16.1" fill="#a8dcd0" fill-opacity="1.00"/><ellipse cx="345.1" cy="371.0" rx="6.4" ry="16.1" fill="#5a78e6" fill-opacity="1.00"/><ellipse cx="343.0" cy="371.0" rx="4.2" ry="13.6" fill="#1a2ee0" fill-opacity="1.00"/><ellipse cx="371.5" cy="347.8" rx="7.6" ry="2.9" fill="#5a78e6" fill-opacity="1.00"/><ellipse cx="383.0" cy="382.8" rx="11.3" ry="8.7" fill="#42e042" fill-opacity="1.00"/><ellipse cx="383.0" cy="382.8" rx="8.6" ry="6.7" fill="#f2f224" fill-opacity="1.00"/><ellipse cx="383.0" cy="382.8" rx="6.6" ry="5.1" fill="#f8a028" fill-opacity="1.00"/><ellipse cx="383.0" cy="382.8" rx="4.0" ry="3.1" fill="#e01414" fill-opacity="1.00"/><ellipse cx="383.0" cy="360.7" rx="2.8" ry="3.7" fill="#a8e838" fill-opacity="1.00"/><ellipse cx="383.0" cy="360.7" rx="1.9" ry="2.6" fill="#f2f224" fill-opacity="1.00"/><ellipse cx="383.0" cy="360.7" rx="1.1" ry="1.4" fill="#f8a028" fill-opacity="0.80"/></g></g><text x="340.3" y="355.6" text-anchor="end" font-family="'DejaVu Sans', sans-serif" font-size="10" fill="#000">c14</text><clipPath id="cpc15"><rect x="340.9" y="390.0" width="42.5" height="35.7"/></clipPath><g clip-path="url(#cpc15)"><g filter="url(#bl)"><rect x="335.9" y="385.0" width="52.5" height="45.7" fill="#4cdc52"/><ellipse cx="355.8" cy="409.6" rx="11.9" ry="14.3" fill="#a8dcd0" fill-opacity="1.00"/><ellipse cx="346.8" cy="405.0" rx="7.6" ry="11.4" fill="#5a78e6" fill-opacity="1.00"/><ellipse cx="344.3" cy="405.0" rx="5.5" ry="9.3" fill="#1a2ee0" fill-opacity="1.00"/><ellipse cx="364.3" cy="390.0" rx="7.6" ry="2.9" fill="#5a78e6" fill-opacity="1.00"/><ellipse cx="383.0" cy="390.7" rx="5.1" ry="4.2" fill="#42e042" fill-opacity="1.00"/><ellipse cx="383.0" cy="390.7" rx="3.9" ry="3.2" fill="#f2f224" fill-opacity="1.00"/><ellipse cx="383.0" cy="390.7" rx="3.0" ry="2.5" fill="#f8a028" fill-opacity="1.00"/><ellipse cx="383.0" cy="390.7" rx="1.8" ry="1.5" fill="#e01414" fill-opacity="1.00"/><ellipse cx="381.3" cy="424.6" rx="11.1" ry="7.3" fill="#42e042" fill-opacity="1.00"/><ellipse cx="381.3" cy="424.6" rx="8.5" ry="5.6" fill="#f2f224" fill-opacity="1.00"/><ellipse cx="381.3" cy="424.6" rx="6.5" ry="4.3" fill="#f8a028" fill-opacity="1.00"/><ellipse cx="381.3" cy="424.6" rx="3.9" ry="2.6" fill="#e01414" fill-opacity="1.00"/></g></g><text x="340.3" y="397.8" text-anchor="end" font-family="'DejaVu Sans', sans-serif" font-size="10" fill="#000">c15</text><text x="365.5" y="419.7" text-anchor="middle" font-family="'DejaVu Sans', sans-serif" font-size="11" fill="#000">A</text><text x="93.2" y="272" font-size="13.55" font-family="'DejaVu Sans', sans-serif" fill="#000">Melanoma</text><text x="285" y="272" font-size="13.5" font-family="'DejaVu Sans', sans-serif" fill="#000">Ker</text><text x="337.5" y="272" font-size="13.5" font-family="'DejaVu Sans', sans-serif" fill="#000">Stroma</text><text x="71" y="283" text-anchor="middle" font-size="9.8" font-family="'DejaVu Sans', sans-serif" fill="#000">Type 1</text><text x="71" y="295" text-anchor="middle" font-size="9.8" font-family="'DejaVu Sans', sans-serif" fill="#000">(pigmentation)</text><text x="167.3" y="283" text-anchor="middle" font-size="9.75" font-family="'DejaVu Sans', sans-serif" fill="#000">proliferative</text><text x="233" y="283" text-anchor="middle" font-size="9.6" font-family="'DejaVu Sans', sans-serif" fill="#000">Type 2</text><text x="233" y="295" text-anchor="middle" font-size="9.2" font-family="'DejaVu Sans', sans-serif" fill="#000">(inflammation)</text><text x="148.5" y="363" font-size="10" font-style="italic" font-family="'DejaVu Sans', sans-serif" fill="#000">module</text><path d="M164.5,352 L160,341.5" stroke="#111" stroke-width="1" fill="none"/><path d="M158.8,339.2 l3.3,3.2 l-3.4,0.9 z" fill="#000"/><text x="3.5" y="20" font-family="'DejaVu Sans', sans-serif" font-size="14.5" fill="#000">a)</text><text x="262.5" y="20" font-family="'DejaVu Sans', sans-serif" font-size="14.5" fill="#000">b)</text><text x="3.5" y="274" font-family="'DejaVu Sans', sans-serif" font-size="14.5" fill="#000">c)</text><text x="400" y="291.5" font-family="'DejaVu Sans', sans-serif" font-size="14.5" fill="#000">d)</text><rect x="420" y="280.5" width="125" height="138.5" fill="#fff" stroke="#9a9a9a" stroke-width="0.8"/><line x1="420" y1="295.8" x2="545" y2="295.8" stroke="#9a9a9a" stroke-width="0.8"/><line x1="462.5" y1="280.5" x2="462.5" y2="419" stroke="#9a9a9a" stroke-width="0.8"/><text x="423.5" y="292.6" font-size="11.6" font-weight="bold" font-family="Carlito, 'Liberation Sans', sans-serif" fill="#000">module</text><text x="469.5" y="292.6" font-size="10.2" font-weight="bold" font-family="Carlito, 'Liberation Sans', sans-serif" fill="#000">context</text><text x="445" y="307.8" text-anchor="middle" font-size="11.8" font-family="Carlito, 'Liberation Sans', sans-serif" fill="#000">A</text><text x="469.5" y="306.6" font-size="9.4" font-family="Carlito, 'Liberation Sans', sans-serif" fill="#000">DNA damage</text><text x="445" y="322.2" text-anchor="middle" font-size="11.8" font-family="Carlito, 'Liberation Sans', sans-serif" fill="#000">B</text><text x="469.5" y="321.0" font-size="9.4" font-family="Carlito, 'Liberation Sans', sans-serif" fill="#000">gluthadione</text><text x="445" y="336.5" text-anchor="middle" font-size="11.8" font-family="Carlito, 'Liberation Sans', sans-serif" fill="#000">C</text><text x="469.5" y="335.3" font-size="9.4" font-family="Carlito, 'Liberation Sans', sans-serif" fill="#000">proliferation</text><text x="445" y="350.9" text-anchor="middle" font-size="11.8" font-family="Carlito, 'Liberation Sans', sans-serif" fill="#000">D</text><text x="469.5" y="349.7" font-size="9.4" font-family="Carlito, 'Liberation Sans', sans-serif" fill="#000">pigmentation</text><text x="445" y="365.2" text-anchor="middle" font-size="11.8" font-family="Carlito, 'Liberation Sans', sans-serif" fill="#000">E</text><text x="469.5" y="364.0" font-size="9.4" font-family="Carlito, 'Liberation Sans', sans-serif" fill="#000">immune response</text><text x="445" y="379.6" text-anchor="middle" font-size="11.8" font-family="Carlito, 'Liberation Sans', sans-serif" fill="#000">F</text><text x="469.5" y="378.4" font-size="9.4" font-family="Carlito, 'Liberation Sans', sans-serif" fill="#000">keratinization</text><text x="445" y="393.9" text-anchor="middle" font-size="11.8" font-family="Carlito, 'Liberation Sans', sans-serif" fill="#000">G</text><text x="469.5" y="392.7" font-size="9.4" font-family="Carlito, 'Liberation Sans', sans-serif" fill="#000">interferon</text><text x="445" y="408.2" text-anchor="middle" font-size="11.8" font-family="Carlito, 'Liberation Sans', sans-serif" fill="#000">H</text><text x="469.5" y="407.1" font-size="9.4" font-family="Carlito, 'Liberation Sans', sans-serif" fill="#000">DNA binding</text></svg>
</body></html>
